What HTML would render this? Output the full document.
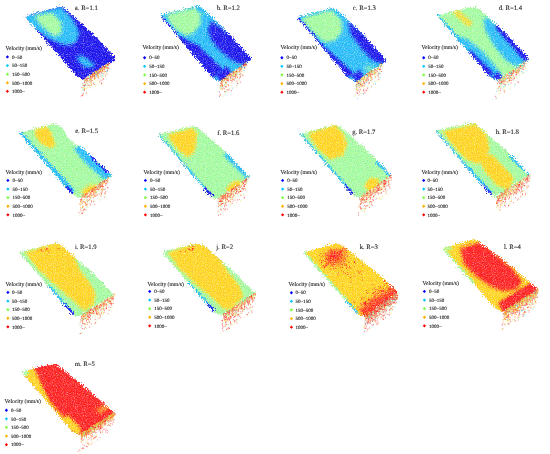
<!DOCTYPE html><html><head><meta charset="utf-8"><title>Velocity</title><style>html,body{margin:0;padding:0;background:#fff}svg{display:block}text{font-family:"Liberation Serif",serif;fill:#1a1a1a;stroke:#1a1a1a;stroke-width:0.1px;text-rendering:geometricPrecision}</style></head><body>
<svg width="550" height="454" viewBox="0 0 550 454">
<defs>
<filter id="b5" x="-30%" y="-30%" width="160%" height="160%"><feGaussianBlur stdDeviation="0.5"/></filter>
<filter id="b6" x="-30%" y="-30%" width="160%" height="160%"><feGaussianBlur stdDeviation="0.6"/></filter>
<filter id="b7" x="-30%" y="-30%" width="160%" height="160%"><feGaussianBlur stdDeviation="0.7"/></filter>
<filter id="b8" x="-30%" y="-30%" width="160%" height="160%"><feGaussianBlur stdDeviation="0.8"/></filter>
<filter id="b9" x="-30%" y="-30%" width="160%" height="160%"><feGaussianBlur stdDeviation="0.9"/></filter>
<filter id="b10" x="-30%" y="-30%" width="160%" height="160%"><feGaussianBlur stdDeviation="1.0"/></filter>
<filter id="b12" x="-30%" y="-30%" width="160%" height="160%"><feGaussianBlur stdDeviation="1.2"/></filter>
<filter id="b13" x="-30%" y="-30%" width="160%" height="160%"><feGaussianBlur stdDeviation="1.3"/></filter>
<filter id="b15" x="-30%" y="-30%" width="160%" height="160%"><feGaussianBlur stdDeviation="1.5"/></filter>
<filter id="b16" x="-30%" y="-30%" width="160%" height="160%"><feGaussianBlur stdDeviation="1.6"/></filter>
<filter id="b18" x="-30%" y="-30%" width="160%" height="160%"><feGaussianBlur stdDeviation="1.8"/></filter>
<filter id="b20" x="-30%" y="-30%" width="160%" height="160%"><feGaussianBlur stdDeviation="2.0"/></filter>
<filter id="be" x="-10%" y="-10%" width="120%" height="120%" color-interpolation-filters="sRGB"><feTurbulence type="fractalNoise" baseFrequency="0.9" numOctaves="1" seed="3" result="n"/><feDisplacementMap in="SourceGraphic" in2="n" scale="7.5" xChannelSelector="R" yChannelSelector="G" result="d"/><feTurbulence type="fractalNoise" baseFrequency="0.8" numOctaves="1" seed="11" result="n2"/><feColorMatrix in="n2" type="matrix" values="3 0 0 0 -1  0 3 0 0 -1  0 0 3 0 -1  0 0 0 0 1" result="cn"/><feComposite in="d" in2="cn" operator="arithmetic" k1="0" k2="1" k3="0.13" k4="-0.045" result="dc"/><feComposite in="dc" in2="d" operator="in" result="dd"/><feColorMatrix in="n" type="matrix" values="0 0 0 0 1  0 0 0 0 1  0 0 0 0 1  0 0 1.5 0 -0.74" result="w"/><feComposite in="w" in2="d" operator="in" result="wi"/><feMerge><feMergeNode in="dd"/><feMergeNode in="wi"/></feMerge><feGaussianBlur stdDeviation="0.35"/></filter>
<clipPath id="ca"><polygon points="24.4,15.9 59.7,6.2 63.8,7.7 67.9,10.7 93.6,34.1 116.8,58.8 83.6,79.7 77.1,77.1"/></clipPath>
<clipPath id="cb"><polygon points="159.4,14.8 197.0,5.8 201.1,7.3 205.2,10.3 229.8,34.2 251.9,59.5 220.2,81.6 213.1,78.4"/></clipPath>
<clipPath id="cc"><polygon points="296.6,16.9 332.0,7.7 336.1,9.2 340.2,12.2 364.8,35.8 386.9,60.7 356.5,82.2 348.7,78.4"/></clipPath>
<clipPath id="cd"><polygon points="436.4,15.0 473.8,6.4 477.9,7.9 482.0,10.9 507.0,34.5 529.5,59.5 497.8,80.9 490.0,77.1"/></clipPath>
<clipPath id="ce"><polygon points="19.4,132.7 54.3,123.3 58.3,124.9 62.4,127.8 66.0,133.5 70.0,139.8 75.5,143.9 85.7,150.8 112.6,175.4 79.7,198.3 71.8,194.5"/></clipPath>
<clipPath id="cf"><polygon points="157.7,134.3 193.1,125.7 197.2,127.2 201.3,130.2 226.7,153.1 249.6,177.3 217.7,199.7 210.6,196.5"/></clipPath>
<clipPath id="cg"><polygon points="299.7,133.7 335.1,124.4 339.2,125.9 343.3,128.9 368.5,151.6 391.3,175.6 359.6,198.4 351.8,194.5"/></clipPath>
<clipPath id="ch"><polygon points="435.1,130.5 471.8,122.5 475.9,124.0 479.9,127.0 506.2,150.4 530.0,175.2 496.4,197.3 489.9,194.7"/></clipPath>
<clipPath id="ci"><polygon points="18.9,252.3 55.6,243.1 59.7,244.6 63.8,247.6 90.4,270.6 114.6,294.9 79.7,317.0 71.8,313.8"/></clipPath>
<clipPath id="cj"><polygon points="161.4,251.7 198.1,243.1 202.2,244.6 206.3,247.6 232.2,269.9 255.6,293.6 222.2,316.4 213.7,312.5"/></clipPath>
<clipPath id="ck"><polygon points="303.1,252.3 337.3,243.1 341.3,244.6 345.4,247.6 373.1,269.2 398.3,292.3 364.7,317.0 356.9,313.8"/></clipPath>
<clipPath id="cl"><polygon points="441.9,248.2 473.5,239.0 477.5,240.6 481.6,243.5 511.2,265.8 538.3,289.5 503.4,312.2 495.6,309.0"/></clipPath>
<clipPath id="cm"><polygon points="21.4,371.9 53.0,363.3 57.0,364.9 61.1,367.8 89.1,389.8 114.6,413.2 80.3,435.3 72.6,432.1"/></clipPath>
</defs>
<g id="pa">
<g filter="url(#be)"><g clip-path="url(#ca)">
<polygon points="24.4,15.9 59.7,6.2 63.8,7.7 67.9,10.7 93.6,34.1 116.8,58.8 83.6,79.7 77.1,77.1" fill="#1c14e8"/>
<polygon points="21.8,15.7 61.1,6.6 73.0,19.4 79.4,33.1 77.0,41.3 69.4,45.3 60.2,43.7 47.4,38.0 33.7,29.4" fill="#28b8f4" filter="url(#b15)"/>
<polygon points="34.6,15.7 52.0,12.6 61.1,22.1 62.0,32.2 54.7,36.7 45.6,29.4 38.3,22.1" fill="#a0f89c" filter="url(#b18)"/>
<polygon points="75.8,56.8 83.1,55.9 94.0,63.8 93.1,67.8 84.0,66.9" fill="#28b8f4" filter="url(#b18)"/>
<polygon points="35.7,33.2 38.8,30.6 48.2,40.8 57.7,51.0 53.9,54.3" fill="#1c14e8" filter="url(#b6)"/>
</g></g>
<path d="M90.6 83.9h0M98.8 71.0h0M104.7 67.2h0M108.0 69.9h0M97.6 72.1h0M84.6 88.2h0M87.4 80.7h0M95.1 74.7h0M97.2 80.7h0M88.8 78.0h0M108.4 64.9h0M95.3 75.6h0M85.6 83.8h0M108.7 63.8h0M98.6 83.9h0M102.8 68.6h0M109.8 63.5h0M96.0 72.4h0M90.8 76.4h0M97.4 73.3h0M92.8 77.3h0M89.4 75.1h0M94.1 84.0h0M85.2 81.4h0M103.0 73.8h0M94.9 71.4h0M102.8 66.8h0M100.9 70.8h0M98.5 74.6h0M98.8 76.9h0M100.0 76.7h0M96.6 71.1h0M83.9 84.7h0M88.9 77.1h0M106.8 66.9h0M87.9 81.9h0M99.8 68.9h0M102.8 77.7h0M83.2 84.6h0M86.6 84.0h0M92.8 73.3h0M83.2 87.4h0M101.3 68.0h0M96.6 84.0h0M87.2 76.5h0M93.0 76.5h0M90.7 77.6h0M88.4 78.1h0M89.2 76.8h0M92.8 78.5h0M102.5 67.6h0M90.1 79.6h0M84.3 79.2h0M90.7 76.2h0M95.6 86.0h0M94.1 73.7h0M97.1 80.5h0M105.7 74.1h0M92.5 81.4h0M104.0 66.8h0M95.6 86.6h0M108.7 68.3h0M83.0 90.5h0" stroke="#f0f080" stroke-width="0.72" stroke-linecap="round" fill="none"/>
<path d="M89.6 75.8h0M85.6 79.2h0M95.9 74.7h0M94.3 82.6h0M106.9 64.1h0M103.2 76.1h0M83.1 88.7h0M108.5 64.5h0M108.5 65.1h0M104.6 70.3h0M94.0 76.0h0M101.1 69.3h0M97.0 73.1h0M84.8 81.5h0M97.6 77.2h0M105.9 78.5h0M84.3 80.6h0M107.2 64.5h0M82.8 85.6h0M94.9 72.7h0M101.0 70.4h0M92.8 72.4h0M102.6 69.1h0M101.9 67.8h0M87.1 80.2h0M86.7 85.7h0M88.6 84.8h0M93.5 75.9h0" stroke="#a0f89c" stroke-width="0.72" stroke-linecap="round" fill="none"/>
<path d="M87.0 78.7h0M101.1 71.7h0M102.7 69.4h0M92.4 75.0h0M107.0 67.4h0M105.5 76.1h0M83.0 94.8h0M96.1 71.4h0M102.8 71.7h0M103.0 79.7h0M91.6 80.8h0M86.0 78.9h0M87.7 77.9h0M94.2 84.5h0M94.1 77.0h0M92.2 77.7h0M105.2 67.6h0M90.4 76.5h0M91.2 79.1h0M101.7 82.8h0M89.2 78.3h0M98.9 78.7h0M105.0 71.7h0M83.8 85.6h0M86.1 82.7h0M88.0 85.1h0M97.0 72.0h0M92.4 74.5h0M94.0 73.9h0M97.6 74.2h0M85.4 80.4h0M102.8 70.4h0M96.1 76.9h0M85.8 85.0h0M110.0 63.6h0M99.2 69.8h0M101.0 70.2h0M84.3 82.7h0M87.6 80.1h0M97.4 74.2h0M101.6 83.7h0M100.0 71.8h0M94.0 73.7h0M89.8 80.6h0M97.8 72.9h0M91.3 74.5h0M101.2 72.8h0M97.8 76.1h0M88.5 78.5h0M103.9 73.9h0M104.9 67.8h0M84.4 85.6h0M100.4 71.0h0M95.8 72.8h0M82.7 95.1h0M97.9 72.6h0M99.1 73.3h0M86.1 78.9h0M86.5 93.0h0M91.2 85.3h0M85.0 85.4h0M107.0 64.6h0M82.2 95.7h0M105.5 65.3h0M108.9 68.4h0M93.6 83.3h0M97.1 72.8h0M109.1 63.8h0M95.6 70.8h0M102.5 71.1h0M99.0 72.5h0M91.9 82.9h0M104.1 69.2h0M107.9 67.4h0M96.5 73.7h0M104.4 69.0h0M103.4 67.0h0M104.5 67.7h0M86.6 80.8h0M99.8 71.6h0M87.9 81.5h0M101.7 68.7h0M84.6 88.9h0M81.9 87.4h0M94.9 78.9h0M99.4 71.6h0M92.1 80.5h0M91.0 78.5h0M97.7 75.7h0M92.9 74.0h0M97.3 72.5h0M104.4 67.1h0M101.0 80.3h0M94.6 76.7h0M87.1 78.1h0M108.4 65.1h0M101.3 73.0h0M95.8 73.5h0M107.2 64.3h0M90.5 77.4h0M98.0 70.1h0M84.9 80.0h0M107.0 74.0h0M83.5 79.4h0M84.6 90.0h0M86.5 79.2h0M98.5 71.4h0M87.2 79.1h0M93.4 75.2h0M83.3 93.2h0M94.5 78.8h0M92.3 76.2h0M99.7 81.7h0M104.2 67.2h0M92.8 73.1h0M89.9 82.2h0M100.5 68.3h0M98.3 70.4h0M94.3 75.5h0M95.9 74.5h0M107.4 68.3h0M98.7 73.3h0M85.3 78.0h0M101.2 68.7h0M100.9 75.8h0M108.8 68.1h0M102.2 68.4h0M104.0 67.1h0M103.5 78.7h0M96.7 72.3h0M94.9 73.7h0M102.8 66.7h0M107.6 65.4h0M108.6 64.3h0M92.5 76.9h0M84.6 90.2h0M87.5 78.7h0M98.5 77.2h0M92.5 75.0h0M97.4 70.6h0M96.1 71.6h0M83.8 85.2h0M100.6 70.0h0M91.8 76.3h0M90.5 76.2h0M84.6 81.7h0M104.7 68.6h0M105.2 71.3h0M97.6 72.9h0M106.9 65.5h0M94.5 75.7h0M103.4 69.2h0M94.0 76.6h0M99.9 68.6h0M93.5 74.3h0M90.1 79.1h0M89.8 85.4h0M94.2 74.0h0M107.2 70.6h0M90.8 76.7h0M81.2 95.9h0M105.8 66.3h0M97.8 71.4h0M94.7 77.5h0" stroke="#ff2222" stroke-width="0.72" stroke-linecap="round" fill="none"/>
<path d="M99.5 69.2h0M84.8 86.9h0M94.2 74.6h0M105.6 66.7h0M90.6 81.5h0M96.9 72.4h0M98.2 76.1h0M106.8 66.4h0M101.0 71.4h0M91.2 77.5h0M103.0 66.6h0M99.7 70.7h0M83.5 87.6h0M91.2 84.3h0M102.9 68.9h0M91.4 74.9h0M106.0 65.5h0M90.2 87.2h0M107.2 68.4h0M84.1 88.3h0M93.9 74.6h0M95.1 71.7h0M90.0 74.9h0M94.3 77.1h0M102.4 68.1h0M89.9 87.7h0M89.4 80.3h0M91.7 79.2h0M101.8 77.4h0M106.3 65.1h0M90.7 79.2h0M101.3 70.5h0M88.1 80.5h0M105.7 75.4h0M82.7 83.6h0M89.9 79.5h0M101.8 70.9h0M96.4 72.3h0M93.2 72.6h0M95.0 77.1h0M99.8 71.3h0M100.3 70.2h0M102.5 69.4h0M84.5 89.3h0M104.3 66.2h0M90.2 79.8h0M97.1 72.9h0M98.1 74.7h0M104.1 72.0h0M96.5 73.5h0M102.1 84.6h0M107.5 65.7h0M105.2 67.9h0M94.1 79.4h0M106.5 68.6h0M86.1 80.9h0M97.0 74.0h0M91.9 84.3h0M87.2 83.5h0M99.1 72.2h0M95.3 78.3h0M91.8 80.6h0M105.6 65.1h0M106.2 65.4h0M100.4 68.9h0M86.2 88.3h0M97.6 75.2h0M88.4 85.5h0M92.6 74.7h0M106.4 67.2h0M88.9 78.3h0M87.3 87.8h0M91.2 82.4h0M106.4 72.2h0M103.2 71.0h0M98.1 75.7h0" stroke="#ffd020" stroke-width="0.72" stroke-linecap="round" fill="none"/>
<path d="M84.5 86.4h0M106.7 71.0h0M95.8 75.8h0M106.3 66.1h0M83.2 89.6h0M88.7 76.1h0M99.8 74.3h0M90.4 75.0h0M83.0 83.6h0M102.8 73.7h0M89.8 77.9h0M102.0 75.6h0M107.3 69.2h0M98.0 72.2h0M106.4 66.7h0M97.0 73.3h0M101.3 68.9h0M90.7 81.1h0M96.3 75.7h0M86.2 78.3h0M85.5 84.7h0M100.1 69.7h0M107.4 71.5h0" stroke="#28b8f4" stroke-width="0.72" stroke-linecap="round" fill="none"/>
<path d="M96.0 74.1h0M104.2 68.4h0M87.0 79.3h0M109.1 68.0h0M103.6 67.9h0M85.5 78.2h0M97.9 72.0h0M95.4 80.0h0M90.5 87.4h0M104.6 73.3h0M106.4 65.4h0M95.8 72.3h0M89.1 79.3h0M85.9 93.4h0M82.5 89.1h0M95.1 85.8h0M92.9 74.1h0M84.3 80.1h0M101.7 73.8h0M99.7 83.9h0M97.9 71.0h0M95.1 77.2h0M87.9 83.7h0M98.0 71.8h0M98.6 70.1h0M103.7 70.9h0M83.4 94.1h0M82.3 90.1h0M86.4 91.3h0M97.5 71.2h0M93.6 89.7h0M87.6 78.2h0M88.0 76.2h0M96.0 74.2h0M103.8 76.6h0" stroke="#c8f8b0" stroke-width="0.72" stroke-linecap="round" fill="none"/>
<text x="86.3" y="9.7" font-size="6.7" text-anchor="middle">a. R=1.1</text>
<text x="5.5" y="49.5" font-size="5.62">Velocity (mm/s)</text>
<path d="M7.4 55.3l1.65 1.65l-1.65 1.65l-1.65 -1.65z" fill="#0000ff"/>
<text x="12.0" y="58.7" font-size="5">0~50</text>
<path d="M7.4 63.9l1.65 1.65l-1.65 1.65l-1.65 -1.65z" fill="#00c4ff"/>
<text x="12.0" y="67.3" font-size="5">50~150</text>
<path d="M7.4 72.5l1.65 1.65l-1.65 1.65l-1.65 -1.65z" fill="#78ff3c"/>
<text x="12.0" y="75.9" font-size="5">150~500</text>
<path d="M7.4 81.1l1.65 1.65l-1.65 1.65l-1.65 -1.65z" fill="#ffb000"/>
<text x="12.0" y="84.5" font-size="5">500~1000</text>
<path d="M7.4 89.7l1.65 1.65l-1.65 1.65l-1.65 -1.65z" fill="#ff0000"/>
<text x="12.0" y="93.1" font-size="5">1000~</text>
</g>
<g id="pb">
<g filter="url(#be)"><g clip-path="url(#cb)">
<polygon points="159.4,14.8 197.0,5.8 201.1,7.3 205.2,10.3 229.8,34.2 251.9,59.5 220.2,81.6 213.1,78.4" fill="#28b8f4"/>
<polygon points="166.5,14.1 194.7,7.7 201.1,14.1 199.8,25.6 193.4,33.3 185.7,35.8 175.5,29.4 169.3,21.8" fill="#a0f89c" filter="url(#b15)"/>
<polygon points="157.7,17.0 160.8,14.5 172.8,28.5 184.8,42.5 181.6,45.2" fill="#1c14e8" filter="url(#b5)"/>
<polygon points="176.8,39.6 180.6,36.3 190.5,41.9 200.5,47.5 190.6,55.9" fill="#1c14e8" filter="url(#b12)"/>
<polygon points="186.9,51.5 196.0,43.7 209.5,56.5 222.9,69.3 210.7,79.6" fill="#1c14e8" filter="url(#b12)"/>
<polygon points="215.0,75.0 227.0,66.0 233.0,75.0 222.0,83.0" fill="#1c14e8" filter="url(#b10)"/>
<polygon points="210.8,21.0 233.6,36.6 257.4,58.5 242.8,64.9 231.8,60.3 219.0,49.4 210.8,39.3 208.0,31.1" fill="#1c14e8" filter="url(#b15)"/>
</g></g>
<path d="M230.9 75.8h0M244.2 68.5h0M235.5 70.5h0M225.0 86.3h0M224.2 80.5h0M234.8 73.5h0M230.8 78.4h0M222.3 78.8h0M219.7 92.3h0M235.3 74.0h0M221.7 80.8h0M225.5 78.1h0M243.5 66.0h0M242.6 64.7h0M240.5 68.3h0M239.1 74.2h0M246.0 64.6h0M244.3 70.7h0M246.3 63.2h0M227.1 78.5h0M240.7 75.0h0M245.1 65.2h0M226.0 84.3h0M236.8 85.3h0M241.4 67.8h0M219.3 96.6h0M233.8 76.2h0M234.7 70.6h0M232.6 75.7h0M221.4 88.1h0M232.6 88.2h0M227.3 78.2h0M227.8 81.1h0M225.7 82.6h0M225.3 91.5h0M242.7 66.2h0M221.3 81.5h0M241.8 66.9h0" stroke="#28b8f4" stroke-width="0.72" stroke-linecap="round" fill="none"/>
<path d="M220.6 88.7h0M235.7 77.9h0M240.2 68.9h0M225.7 83.7h0M241.7 69.8h0M225.7 94.9h0M239.4 67.8h0M236.4 74.0h0M221.8 83.0h0M237.6 73.9h0M238.1 71.4h0M222.2 87.5h0M235.5 74.7h0M220.9 86.9h0M232.0 72.2h0M230.0 74.4h0M245.7 63.1h0M229.4 75.4h0M220.1 85.2h0M240.7 69.2h0M230.7 74.8h0M230.3 74.5h0M224.2 79.9h0M222.4 96.8h0M242.9 68.7h0M230.1 73.6h0M236.5 72.1h0M232.9 72.0h0M235.7 74.3h0M235.2 77.3h0M225.1 82.9h0M226.0 82.8h0M237.1 72.8h0" stroke="#a0f89c" stroke-width="0.72" stroke-linecap="round" fill="none"/>
<path d="M219.1 91.3h0M239.7 78.1h0M244.2 64.8h0M222.2 82.8h0M234.2 73.3h0M240.9 70.3h0M222.4 84.8h0M222.6 80.4h0M239.5 70.7h0M245.1 66.6h0M233.7 74.7h0M225.4 78.8h0M243.0 64.7h0M242.1 74.6h0M221.5 81.9h0M234.1 73.6h0M239.2 68.5h0M240.3 67.5h0M224.4 78.6h0M225.8 77.9h0M222.7 78.9h0M239.4 74.5h0M222.4 85.5h0M241.2 68.2h0M233.7 73.1h0M235.9 75.3h0M230.8 78.8h0M228.5 77.9h0M222.5 89.1h0M233.1 71.7h0M224.7 80.0h0M222.5 85.7h0M224.7 91.6h0M231.6 90.7h0M235.2 76.5h0M236.3 72.2h0M230.4 80.4h0M229.4 75.5h0M238.9 71.9h0M230.9 74.5h0M234.6 73.1h0M239.4 71.8h0M223.1 79.0h0M236.9 70.4h0M220.2 86.7h0M229.3 89.3h0M233.8 79.6h0M230.1 76.6h0M245.6 64.3h0M239.5 67.4h0M237.2 71.9h0M243.0 75.9h0M220.9 83.1h0M226.3 80.0h0M222.9 85.8h0M240.2 76.6h0M226.2 79.4h0M226.9 79.3h0M232.1 73.1h0M225.8 87.1h0M221.5 83.7h0M232.5 81.0h0M239.1 69.0h0M226.8 78.1h0M221.3 81.6h0M230.4 73.3h0M231.3 80.4h0M225.7 86.6h0M233.1 71.5h0M220.1 95.2h0M221.3 82.6h0M221.8 79.8h0M222.1 84.8h0M241.1 71.3h0M236.5 71.5h0M220.3 85.5h0M226.6 86.8h0M233.0 74.7h0M219.4 96.1h0M240.0 69.1h0M223.4 88.1h0M241.3 68.9h0M245.3 63.8h0M221.7 84.8h0M233.8 72.4h0M243.8 65.4h0M236.0 76.0h0M241.2 69.3h0M237.6 83.3h0M228.1 90.4h0M235.4 74.3h0M229.8 74.2h0M223.1 78.2h0M231.6 75.7h0M238.8 68.1h0M226.4 82.8h0M233.7 76.4h0M237.7 83.6h0M225.6 82.3h0M240.6 74.4h0M244.7 65.0h0M228.5 85.8h0M227.1 75.7h0M237.4 77.0h0M235.2 71.5h0M234.3 80.3h0M220.6 94.3h0M231.0 76.9h0M230.1 75.2h0M221.0 83.6h0M246.0 62.7h0M227.2 89.5h0M228.1 78.0h0M231.8 82.0h0M227.2 80.3h0M228.5 74.6h0M235.6 74.7h0M233.4 72.7h0M234.3 78.8h0M232.7 79.3h0M237.5 77.7h0M222.6 85.5h0M234.9 72.1h0M230.0 75.0h0M236.9 81.2h0M246.3 64.4h0M235.9 75.6h0M226.6 76.0h0M224.6 88.9h0M230.6 77.5h0M235.6 77.7h0M236.4 74.1h0M239.9 69.9h0M240.2 69.6h0M236.6 71.3h0M225.9 78.5h0M243.9 65.9h0M245.3 65.2h0M232.8 79.0h0M228.3 84.4h0M232.8 77.1h0M234.5 75.8h0M245.9 64.8h0M237.9 69.2h0M225.0 78.8h0M228.3 79.7h0M243.4 65.6h0M227.0 76.8h0M222.6 81.6h0M224.4 79.4h0M224.0 80.7h0M222.3 86.6h0M244.1 65.1h0M227.2 79.9h0M228.7 80.8h0M222.6 83.0h0M242.3 67.0h0M240.3 76.9h0M244.6 68.7h0M246.8 65.3h0M229.7 73.3h0M230.8 75.3h0M227.7 78.7h0M240.7 73.1h0M228.0 80.4h0M225.5 78.3h0M240.7 82.2h0M232.0 73.9h0M229.8 74.7h0" stroke="#ff2222" stroke-width="0.72" stroke-linecap="round" fill="none"/>
<path d="M226.3 77.7h0M240.6 67.9h0M224.7 84.8h0M226.5 81.6h0M226.4 83.2h0M222.7 80.1h0M227.9 75.6h0M241.5 66.1h0M242.0 70.8h0M230.2 76.5h0M227.4 79.3h0M231.7 78.0h0M237.2 77.7h0M232.8 79.3h0M227.2 85.0h0M233.8 74.9h0M222.6 80.0h0M222.2 85.5h0M239.6 74.6h0M245.0 65.6h0M224.9 79.7h0M228.3 75.5h0M221.5 80.7h0M245.7 66.9h0M221.4 85.4h0M236.7 69.6h0M225.8 79.3h0M239.0 80.3h0M228.9 79.7h0M235.4 71.6h0M233.9 74.5h0M235.7 72.0h0M220.8 88.5h0M242.5 75.0h0M235.5 72.8h0M224.5 80.3h0M238.7 71.5h0M244.8 64.0h0M221.0 89.3h0M240.6 68.0h0M233.2 76.4h0M239.3 69.0h0M236.5 86.8h0M226.3 91.1h0M236.1 75.6h0M244.7 63.5h0M225.6 92.4h0M233.9 71.8h0M229.4 75.0h0M227.3 79.0h0M238.2 71.7h0M221.9 88.4h0M230.9 85.6h0M233.4 73.5h0M237.7 71.4h0M228.8 75.2h0M234.7 73.5h0" stroke="#ffd020" stroke-width="0.72" stroke-linecap="round" fill="none"/>
<path d="M226.9 77.7h0M238.7 71.2h0M226.8 77.6h0M226.3 87.7h0M221.7 86.6h0M241.7 70.9h0M236.7 83.0h0M230.5 73.0h0M245.3 66.3h0M220.0 87.5h0M244.4 68.9h0M241.4 69.2h0M223.1 81.0h0M237.8 74.3h0M226.9 75.8h0M233.8 84.6h0M226.6 78.3h0M235.8 70.5h0M234.2 80.2h0M226.2 90.9h0M234.7 74.0h0M225.4 77.6h0M238.9 68.6h0M240.1 68.9h0M232.6 89.0h0M223.6 96.0h0M242.7 70.1h0M221.2 82.6h0M233.1 74.6h0" stroke="#c8f8b0" stroke-width="0.72" stroke-linecap="round" fill="none"/>
<path d="M224.7 82.7h0M234.3 75.3h0M239.3 69.0h0M226.0 79.5h0M229.3 79.8h0M222.6 82.9h0M231.3 78.0h0M222.5 82.0h0M229.8 87.7h0M234.6 73.5h0M246.1 62.1h0M222.1 84.1h0M225.1 84.2h0M229.8 78.1h0M243.9 72.4h0M224.3 85.4h0M235.3 82.0h0M220.8 81.0h0M221.6 85.3h0M240.3 74.4h0M224.9 79.5h0M222.9 81.5h0M236.4 69.7h0M230.3 75.8h0M223.5 81.1h0M234.2 72.1h0M237.1 74.1h0M239.2 83.4h0M230.0 78.2h0M242.5 67.9h0M240.0 70.4h0M237.8 68.8h0M222.0 83.2h0M235.2 75.7h0M224.0 81.0h0M222.5 81.9h0M236.8 72.7h0M223.6 88.4h0M231.1 82.5h0M232.9 73.2h0M226.0 83.4h0M228.0 77.7h0M234.3 71.4h0M240.9 67.8h0M226.2 87.2h0M237.9 72.3h0M233.3 75.4h0M234.6 73.9h0M237.9 73.9h0M240.3 73.4h0M237.1 76.1h0M230.5 75.3h0M225.6 77.8h0M230.9 80.1h0M230.1 75.4h0M232.3 75.2h0M234.1 78.3h0M228.6 89.4h0" stroke="#f0f080" stroke-width="0.72" stroke-linecap="round" fill="none"/>
<text x="228.3" y="9.7" font-size="6.7" text-anchor="middle">b. R=1.2</text>
<text x="142.5" y="49.0" font-size="5.62">Velocity (mm/s)</text>
<path d="M144.6 56.1l1.65 1.65l-1.65 1.65l-1.65 -1.65z" fill="#0000ff"/>
<text x="149.3" y="59.4" font-size="5">0~50</text>
<path d="M144.6 64.7l1.65 1.65l-1.65 1.65l-1.65 -1.65z" fill="#00c4ff"/>
<text x="149.3" y="68.0" font-size="5">50~150</text>
<path d="M144.6 73.3l1.65 1.65l-1.65 1.65l-1.65 -1.65z" fill="#78ff3c"/>
<text x="149.3" y="76.6" font-size="5">150~500</text>
<path d="M144.6 81.9l1.65 1.65l-1.65 1.65l-1.65 -1.65z" fill="#ffb000"/>
<text x="149.3" y="85.2" font-size="5">500~1000</text>
<path d="M144.6 90.5l1.65 1.65l-1.65 1.65l-1.65 -1.65z" fill="#ff0000"/>
<text x="149.3" y="93.8" font-size="5">1000~</text>
</g>
<g id="pc">
<g filter="url(#be)"><g clip-path="url(#cc)">
<polygon points="296.6,16.9 332.0,7.7 336.1,9.2 340.2,12.2 364.8,35.8 386.9,60.7 356.5,82.2 348.7,78.4" fill="#28b8f4"/>
<polygon points="301.1,17.4 331.3,10.1 341.4,20.1 342.3,31.1 335.9,40.2 324.9,42.4 313.9,33.8 304.8,23.8" fill="#a0f89c" filter="url(#b18)"/>
<polygon points="294.9,19.1 298.1,16.4 311.1,31.5 324.0,46.5 320.6,49.4" fill="#1c14e8" filter="url(#b5)"/>
<polygon points="319.6,48.2 323.0,45.3 338.5,59.2 353.9,73.2 346.3,79.6" fill="#1c14e8" filter="url(#b9)"/>
<polygon points="351.0,76.0 360.0,70.0 364.0,77.0 357.0,82.0" fill="#1c14e8" filter="url(#b9)"/>
<polygon points="347.8,21.0 370.6,39.3 394.4,59.4 383.4,64.4 372.4,60.3 361.5,48.4 350.5,33.8" fill="#1c14e8" filter="url(#b15)"/>
<polygon points="364.2,67.6 369.7,65.8 373.4,69.1 368.8,71.7" fill="#a0f89c" filter="url(#b20)"/>
</g></g>
<path d="M359.2 80.1h0M367.8 73.6h0M365.0 92.6h0M381.6 64.2h0M365.3 80.6h0M370.2 73.5h0M362.2 86.0h0M358.2 82.6h0M359.9 83.4h0M363.8 93.7h0M369.2 76.1h0M367.3 88.9h0M368.7 76.8h0M363.7 79.6h0M366.6 74.4h0M363.2 85.4h0M375.0 73.9h0M360.3 89.8h0M363.8 83.1h0M356.7 84.5h0M362.2 79.2h0M377.3 71.4h0M369.1 73.0h0M366.1 80.1h0M370.7 74.2h0M378.3 73.3h0M369.3 73.1h0M372.0 79.8h0M374.4 72.1h0M361.0 78.7h0M369.0 83.3h0M360.5 79.9h0M375.5 69.8h0M359.6 91.9h0M360.9 82.7h0M361.8 84.6h0M380.6 66.7h0M381.0 69.1h0M359.2 83.4h0M364.5 76.8h0M371.1 74.7h0M371.4 86.7h0M366.8 78.1h0M364.1 91.0h0M372.2 73.6h0M367.4 79.1h0M379.6 69.5h0M363.8 89.4h0M364.7 85.2h0M359.0 94.9h0M380.7 65.2h0M380.2 73.7h0M356.9 92.7h0M368.2 75.8h0M381.1 63.5h0M371.2 71.2h0M366.5 81.3h0M366.9 81.0h0M378.3 77.0h0M369.3 82.5h0M358.6 84.0h0M365.0 82.4h0M376.3 70.6h0M358.3 83.6h0M357.7 93.4h0M357.9 81.6h0M364.4 77.7h0M362.3 79.8h0M375.7 73.0h0M377.2 71.2h0M364.2 82.7h0M373.0 71.1h0M375.2 69.6h0M371.5 72.6h0M368.0 80.2h0M380.3 67.2h0M366.5 90.7h0M357.7 93.0h0M362.2 77.9h0M381.4 64.0h0M369.4 75.3h0M369.8 74.8h0M362.3 79.2h0M371.0 76.7h0M370.3 73.0h0M363.5 81.4h0M368.2 73.0h0M378.0 74.9h0M368.9 73.9h0M381.4 71.5h0M368.5 75.1h0M358.9 82.1h0M365.5 75.0h0M359.2 87.6h0M358.0 86.2h0M370.3 76.1h0M357.7 83.1h0M372.7 74.4h0M378.0 75.2h0M377.1 68.0h0M362.1 79.5h0M366.0 90.2h0M356.2 84.4h0M360.4 84.5h0M378.4 66.9h0M367.8 78.0h0M372.8 74.8h0M374.8 71.0h0M364.0 83.6h0M358.8 90.0h0M366.7 74.7h0M378.3 67.6h0M362.5 78.5h0M363.4 90.7h0M371.7 71.1h0M379.0 69.4h0M367.9 87.9h0M360.7 84.2h0M356.9 81.2h0M361.9 85.9h0M380.5 69.5h0M372.0 77.9h0M359.9 83.9h0M363.0 78.1h0M374.5 72.4h0M360.1 86.1h0M363.4 81.6h0M356.3 89.2h0M360.1 81.6h0M369.6 71.9h0M370.9 71.8h0M375.4 77.0h0M371.2 78.0h0M378.9 79.5h0M370.2 74.8h0M357.7 90.5h0M366.5 79.0h0M364.3 77.3h0M370.8 76.0h0M357.5 83.5h0M367.9 77.9h0M379.5 69.1h0M356.4 86.9h0M368.3 79.5h0M370.4 80.3h0M371.2 71.6h0M373.7 70.9h0M364.8 78.0h0M375.0 72.3h0" stroke="#ff2222" stroke-width="0.72" stroke-linecap="round" fill="none"/>
<path d="M359.3 85.9h0M376.1 81.3h0M364.9 77.4h0M366.3 80.1h0M370.3 78.5h0M379.4 64.8h0M357.0 88.4h0M362.7 84.3h0M377.9 69.5h0M369.8 76.2h0M371.1 72.0h0M370.1 73.2h0M378.4 68.4h0M366.5 75.9h0M361.2 85.4h0M358.4 81.8h0M371.4 77.8h0M370.8 70.8h0M357.4 84.0h0M356.0 86.1h0M361.2 86.7h0M365.5 81.1h0M368.6 75.3h0M364.5 78.3h0M357.2 90.0h0M356.5 85.4h0M373.5 84.1h0M363.4 80.1h0M368.9 85.3h0M361.4 81.4h0M363.5 78.0h0M356.5 89.4h0M362.9 83.5h0M374.6 73.5h0M377.8 69.2h0M358.4 81.4h0M370.8 77.4h0M374.8 70.7h0M361.2 89.9h0M364.1 86.2h0M374.0 74.1h0M359.4 81.4h0M355.2 94.9h0M379.1 65.6h0M376.3 72.6h0M364.6 75.2h0M379.2 80.6h0M362.3 78.5h0M368.9 75.4h0M364.4 82.0h0M358.0 84.9h0M361.9 77.6h0M374.5 68.7h0M360.8 83.3h0M361.3 78.3h0M372.3 70.5h0M372.5 71.3h0M367.7 73.4h0M375.3 77.8h0M368.7 75.1h0M360.6 85.8h0M373.6 73.5h0M368.3 73.8h0M364.6 76.1h0M357.0 80.7h0M381.6 66.1h0M356.7 82.4h0M368.2 75.9h0M364.0 78.4h0M378.3 69.4h0M358.4 82.2h0M374.8 75.0h0" stroke="#ffd020" stroke-width="0.72" stroke-linecap="round" fill="none"/>
<path d="M374.2 71.8h0M360.4 81.9h0M363.4 80.8h0M374.9 81.5h0M373.4 73.1h0M363.4 76.8h0M375.7 84.8h0M365.2 76.4h0M379.3 65.9h0M365.5 79.0h0M378.7 66.7h0M365.9 78.9h0M382.6 64.7h0M360.8 81.3h0M380.7 65.8h0M357.7 89.9h0M370.2 78.4h0M368.9 74.4h0M371.4 80.4h0M371.8 72.1h0M362.4 77.9h0M363.1 94.0h0M374.7 75.0h0M360.7 80.1h0" stroke="#a0f89c" stroke-width="0.72" stroke-linecap="round" fill="none"/>
<path d="M367.9 78.9h0M381.4 64.8h0M378.5 68.8h0M377.6 71.1h0M374.1 70.8h0M357.6 83.0h0M360.2 88.6h0M372.1 82.6h0M380.5 67.2h0M367.2 78.8h0M379.5 77.5h0M365.6 79.9h0M378.6 74.2h0M378.9 77.2h0M355.8 96.1h0M360.0 84.1h0M367.2 86.9h0M360.1 81.0h0M380.2 73.9h0M362.0 78.9h0M360.8 87.0h0M364.3 79.9h0M373.3 70.7h0M371.6 86.1h0M380.0 66.1h0M354.8 96.6h0M358.9 81.6h0M357.2 85.3h0M369.1 76.7h0M369.3 75.9h0M364.6 79.4h0M366.1 75.6h0" stroke="#c8f8b0" stroke-width="0.72" stroke-linecap="round" fill="none"/>
<path d="M379.1 65.2h0M357.0 88.0h0M368.6 80.8h0M364.8 83.9h0M360.7 80.2h0M378.5 67.0h0M366.6 82.5h0M359.3 80.8h0M361.4 84.4h0M359.1 85.5h0M378.8 73.2h0M359.5 80.6h0M372.2 70.6h0M359.5 83.4h0M357.2 84.6h0M375.4 83.8h0M358.6 84.1h0M356.1 86.4h0M363.3 94.0h0M379.8 73.3h0M367.3 76.7h0M380.3 67.0h0M379.9 78.0h0M376.6 67.0h0M357.5 98.6h0" stroke="#28b8f4" stroke-width="0.72" stroke-linecap="round" fill="none"/>
<path d="M370.6 71.6h0M364.1 85.9h0M368.9 73.1h0M359.2 86.6h0M373.3 72.1h0M379.7 65.2h0M376.6 69.4h0M365.0 79.7h0M370.1 81.8h0M363.7 87.4h0M374.5 69.0h0M366.8 81.5h0M377.1 69.3h0M357.6 86.8h0M358.7 84.6h0M381.4 64.7h0M376.7 67.9h0M356.7 90.7h0M374.5 72.4h0M369.2 75.2h0M364.1 76.6h0M364.8 77.6h0M365.2 75.9h0M364.3 85.6h0M373.6 74.0h0M370.7 72.1h0M356.5 89.0h0M365.1 78.8h0M368.0 77.5h0M372.4 80.3h0M359.4 80.9h0M381.0 64.5h0M368.4 81.8h0M364.1 79.7h0M359.5 84.0h0M369.4 74.7h0M378.2 76.9h0M378.2 67.4h0M361.0 93.3h0M359.3 84.5h0M356.2 89.9h0M361.2 93.6h0M372.8 73.3h0M370.2 79.1h0M375.5 71.9h0M362.3 84.5h0M355.9 88.5h0M357.5 84.0h0M362.1 78.4h0M357.5 83.9h0M380.2 68.1h0M362.2 78.3h0M365.8 78.8h0M368.2 90.8h0M361.0 78.8h0M361.7 80.3h0M373.1 70.8h0M379.9 65.9h0M366.9 75.6h0M362.4 79.7h0M378.5 68.0h0M359.4 81.9h0M370.1 72.2h0M374.0 71.7h0M375.7 72.1h0M377.0 75.4h0M359.2 87.9h0M377.1 73.0h0M371.1 77.2h0M363.1 77.3h0M371.1 75.7h0M365.3 79.0h0M361.0 82.5h0M379.3 71.8h0M362.4 78.7h0M361.9 78.5h0M380.5 71.5h0M382.3 66.6h0M377.9 72.5h0M358.2 82.1h0M371.0 73.6h0M369.0 73.3h0M356.9 90.6h0M369.6 71.5h0" stroke="#f0f080" stroke-width="0.72" stroke-linecap="round" fill="none"/>
<text x="364.3" y="9.7" font-size="6.7" text-anchor="middle">c. R=1.3</text>
<text x="280.5" y="49.0" font-size="5.62">Velocity (mm/s)</text>
<path d="M281.9 56.1l1.65 1.65l-1.65 1.65l-1.65 -1.65z" fill="#0000ff"/>
<text x="286.5" y="59.4" font-size="5">0~50</text>
<path d="M281.9 64.7l1.65 1.65l-1.65 1.65l-1.65 -1.65z" fill="#00c4ff"/>
<text x="286.5" y="68.0" font-size="5">50~150</text>
<path d="M281.9 73.3l1.65 1.65l-1.65 1.65l-1.65 -1.65z" fill="#78ff3c"/>
<text x="286.5" y="76.6" font-size="5">150~500</text>
<path d="M281.9 81.9l1.65 1.65l-1.65 1.65l-1.65 -1.65z" fill="#ffb000"/>
<text x="286.5" y="85.2" font-size="5">500~1000</text>
<path d="M281.9 90.5l1.65 1.65l-1.65 1.65l-1.65 -1.65z" fill="#ff0000"/>
<text x="286.5" y="93.8" font-size="5">1000~</text>
</g>
<g id="pd">
<g filter="url(#be)"><g clip-path="url(#cd)">
<polygon points="436.4,15.0 473.8,6.4 477.9,7.9 482.0,10.9 507.0,34.5 529.5,59.5 497.8,80.9 490.0,77.1" fill="#a0f89c"/>
<polygon points="483.0,18.3 485.8,31.1 494.0,45.7 506.8,61.2 517.8,66.7 532.4,58.5 508.6,36.6 488.5,18.3" fill="#28b8f4" filter="url(#b15)"/>
<polygon points="450.1,33.8 467.5,39.3 483.0,52.1 495.8,66.7 503.1,76.8 493.1,84.1 470.2,64.9" fill="#28b8f4" filter="url(#b15)"/>
<polygon points="434.7,17.3 438.1,14.3 451.7,29.3 465.3,44.2 461.2,47.8" fill="#28b8f4" filter="url(#b7)"/>
<polygon points="452.0,12.5 458.0,9.5 473.0,23.0 469.0,27.5 460.0,20.0" fill="#ffd020" filter="url(#b10)" opacity="0.80"/>
<polygon points="498.3,23.8 494.7,27.3 510.2,44.8 525.7,62.4 531.0,57.1" fill="#1c14e8" filter="url(#b9)"/>
<polygon points="466.5,53.9 470.6,50.3 482.2,61.7 493.7,73.1 487.6,78.4" fill="#1c14e8" filter="url(#b9)"/>
<polygon points="492.0,76.0 499.0,72.0 502.0,77.0 498.0,81.0" fill="#1c14e8" filter="url(#b8)"/>
</g></g>
<path d="M506.4 74.9h0M520.2 66.6h0M512.1 75.1h0M517.2 70.5h0M515.8 70.4h0M520.1 66.4h0M513.4 72.2h0M509.9 78.2h0M501.2 80.4h0M511.8 74.0h0M522.1 69.1h0M511.4 72.1h0M500.3 90.6h0M517.9 72.9h0M518.0 81.9h0M502.0 82.7h0M514.3 78.6h0M502.5 80.3h0M496.1 98.4h0M524.4 64.9h0M513.3 71.1h0M502.4 77.4h0M513.1 79.8h0M520.4 68.5h0M511.8 72.0h0M503.6 76.4h0M519.1 69.3h0M495.6 96.3h0M511.3 80.6h0M501.1 81.2h0M519.7 70.8h0M509.4 78.7h0M497.5 83.6h0M510.9 75.8h0M513.1 70.5h0M511.1 72.8h0M514.2 70.9h0M509.9 80.5h0M502.9 81.7h0M512.2 73.0h0M516.4 72.6h0M510.6 77.7h0M509.8 77.3h0M516.8 72.8h0M504.9 84.4h0M513.3 72.0h0M501.8 81.7h0M500.8 88.7h0M523.5 63.7h0M512.2 74.0h0M518.2 70.8h0M513.4 76.2h0M517.7 67.8h0M509.1 81.1h0M516.2 71.4h0M507.4 75.6h0M511.1 82.8h0M511.3 78.0h0M500.3 83.1h0M504.0 76.4h0M522.9 64.6h0M517.8 67.9h0M506.7 76.8h0M505.6 75.0h0M513.9 71.8h0M509.6 76.0h0M510.0 72.9h0M509.9 72.2h0M507.6 78.0h0M522.9 67.9h0M503.7 83.8h0M517.1 71.1h0M518.9 71.6h0M500.1 83.3h0M508.3 75.3h0M524.5 66.0h0M512.9 73.6h0M505.5 79.8h0M514.1 78.2h0M517.3 70.4h0M504.0 81.1h0M511.4 75.4h0M505.1 81.6h0M515.7 69.2h0M499.6 83.1h0M501.4 81.9h0M524.7 62.4h0M519.9 66.6h0M501.7 81.8h0M502.9 80.5h0M499.0 86.8h0M509.0 77.9h0M516.3 74.5h0M518.5 82.3h0M503.7 78.2h0M504.3 79.9h0M520.7 66.2h0M520.6 65.8h0M516.5 72.5h0M498.6 82.3h0M525.9 63.4h0M511.3 75.6h0M518.8 68.5h0M507.7 74.2h0M522.7 68.2h0M523.5 66.8h0M505.3 84.6h0M519.5 67.7h0M500.2 79.1h0M503.9 81.2h0M503.7 78.7h0M511.2 73.4h0M503.9 81.6h0M512.0 79.0h0M523.3 63.4h0M510.3 73.2h0M520.7 66.7h0M513.1 73.6h0M507.2 82.1h0M504.3 92.1h0M516.1 75.2h0M500.1 79.8h0M499.9 82.0h0M513.3 71.5h0M509.8 80.2h0M523.7 69.4h0M518.2 72.8h0M511.3 72.0h0M504.0 81.1h0M508.8 77.4h0M507.7 78.7h0M501.1 84.3h0M516.0 72.4h0M499.8 86.4h0M509.8 72.7h0M502.0 78.7h0M513.0 70.5h0M505.0 77.5h0M501.7 82.1h0M516.0 74.3h0M514.2 77.2h0M509.8 79.8h0M499.4 80.6h0M513.9 71.0h0M501.2 82.7h0M523.8 62.3h0M504.1 90.8h0M516.1 72.5h0" stroke="#ff2222" stroke-width="0.72" stroke-linecap="round" fill="none"/>
<path d="M525.8 68.3h0M525.0 66.0h0M519.1 74.9h0M521.2 66.0h0M508.7 81.0h0M505.3 75.8h0M507.9 82.3h0M519.9 66.8h0M513.0 72.9h0M504.1 89.8h0M514.6 70.3h0M501.5 86.7h0M519.2 67.3h0M515.7 69.7h0M518.6 70.2h0M521.2 67.1h0M516.3 71.3h0M507.1 73.2h0M518.1 70.7h0M499.6 79.6h0M520.1 70.0h0M522.1 66.0h0M499.1 87.6h0M504.7 79.7h0M506.4 78.4h0M519.4 66.4h0M503.9 76.9h0M517.1 77.9h0M508.7 77.0h0M508.8 78.4h0M518.4 69.7h0M517.8 72.5h0M510.6 80.2h0M517.5 72.9h0M513.1 69.5h0M511.4 78.4h0M503.1 78.5h0M507.9 81.0h0M515.2 83.7h0M502.3 78.7h0M515.8 70.7h0M505.0 78.6h0M503.1 83.1h0M515.3 72.6h0M510.2 71.3h0M500.0 82.3h0M517.8 72.4h0M505.0 78.0h0M500.1 93.4h0M505.3 78.3h0M503.0 79.3h0M497.4 88.7h0M510.6 73.6h0M502.0 80.2h0M513.7 70.0h0M503.9 79.0h0M524.9 63.2h0M523.0 73.3h0M498.9 90.7h0M508.8 75.8h0M503.9 79.4h0M522.8 65.2h0M516.2 70.9h0M518.3 69.8h0M506.9 74.5h0M501.7 78.4h0M504.5 78.9h0M509.8 76.1h0M505.4 78.7h0M506.9 77.9h0M516.2 69.8h0M515.5 70.6h0M517.9 70.0h0M504.7 76.5h0" stroke="#ffd020" stroke-width="0.72" stroke-linecap="round" fill="none"/>
<path d="M502.6 79.3h0M524.8 62.0h0M498.9 94.2h0M501.9 78.5h0M524.8 63.1h0M498.7 94.6h0M500.8 83.3h0M522.2 64.3h0M516.7 70.8h0M517.6 67.2h0M509.5 77.8h0M503.8 78.8h0M503.9 78.9h0M498.7 79.7h0M521.5 68.9h0M506.0 84.2h0M498.1 87.9h0M518.8 66.7h0M522.6 67.5h0M503.5 82.4h0M521.2 68.0h0M516.5 77.2h0M497.8 91.0h0M513.0 71.7h0M513.7 76.0h0M501.5 79.6h0M512.8 75.5h0M515.3 69.9h0M502.9 78.9h0M507.7 74.2h0M503.9 76.1h0M504.7 88.1h0M504.2 76.6h0M503.5 77.5h0M504.2 82.8h0M507.4 74.1h0M499.1 85.7h0M504.1 76.6h0M527.0 61.6h0M516.9 72.5h0M518.0 68.8h0M518.9 66.3h0M504.6 81.3h0M499.6 84.7h0M512.1 75.0h0M526.5 63.8h0M510.7 85.1h0M521.3 67.2h0M510.7 76.7h0M504.2 87.1h0M500.1 82.1h0M523.0 65.6h0M517.5 70.0h0M512.7 75.3h0M505.2 82.9h0M499.9 81.4h0M515.7 69.4h0M522.4 64.3h0M513.9 73.8h0M508.3 74.2h0M507.2 73.9h0M506.8 74.7h0M510.0 87.0h0M507.8 77.5h0M506.2 74.3h0M510.8 77.4h0M520.6 64.6h0" stroke="#f0f080" stroke-width="0.72" stroke-linecap="round" fill="none"/>
<path d="M511.8 71.8h0M518.9 66.3h0M512.4 77.5h0M500.1 85.8h0M511.4 72.6h0M503.5 80.9h0M503.8 79.3h0M510.6 72.3h0M511.4 71.9h0M501.7 80.4h0M518.8 71.0h0M513.0 69.6h0M513.3 75.7h0M502.4 88.6h0M512.6 71.2h0M504.3 86.2h0M525.2 67.5h0M506.7 78.7h0M505.6 86.5h0M510.4 77.5h0M496.4 97.0h0M522.1 71.8h0M502.9 80.9h0M514.1 79.8h0M514.7 86.2h0M515.3 69.6h0M507.8 81.8h0M506.2 90.2h0M509.3 78.0h0M516.3 76.2h0M521.8 73.4h0M509.7 88.7h0M512.0 71.1h0M517.8 73.5h0M505.5 75.9h0M506.0 79.1h0M521.9 66.0h0M502.3 84.2h0M524.9 65.3h0M522.4 65.3h0M522.3 69.1h0" stroke="#a0f89c" stroke-width="0.72" stroke-linecap="round" fill="none"/>
<path d="M524.7 63.7h0M515.0 71.0h0M500.4 80.7h0M523.4 72.4h0M506.4 78.9h0M509.6 74.9h0M503.9 76.9h0M521.8 71.4h0M511.7 72.4h0M500.3 84.0h0M523.1 66.1h0M519.0 70.0h0M519.3 67.0h0M503.5 86.8h0M503.2 78.7h0M496.9 91.3h0M509.3 77.0h0M515.3 69.8h0M515.0 84.9h0M498.8 88.7h0M501.6 83.8h0M508.6 73.6h0M505.0 85.7h0M518.5 66.8h0M521.7 65.8h0M517.4 67.7h0M504.7 77.4h0M508.5 84.6h0M521.0 68.5h0M510.9 74.0h0M501.9 79.1h0M522.9 65.5h0M511.6 74.1h0M511.7 72.3h0" stroke="#28b8f4" stroke-width="0.72" stroke-linecap="round" fill="none"/>
<path d="M501.0 79.1h0M498.8 87.3h0M509.9 78.1h0M516.5 77.5h0M501.7 86.6h0M508.5 80.5h0M519.2 66.8h0M503.8 77.4h0M515.9 70.3h0M498.8 79.1h0M525.1 67.7h0M504.9 83.1h0M520.6 64.6h0M505.5 80.2h0M510.5 89.3h0M506.3 79.9h0M522.4 63.5h0M500.6 87.4h0M515.0 80.5h0M524.5 61.7h0M508.7 74.2h0M523.8 62.8h0M501.9 81.2h0M500.8 84.0h0M524.9 62.2h0M502.7 76.8h0M513.8 75.8h0M512.0 71.8h0M500.3 84.3h0M504.6 79.3h0M505.4 91.2h0M523.4 64.1h0M499.4 82.7h0" stroke="#c8f8b0" stroke-width="0.72" stroke-linecap="round" fill="none"/>
<text x="510.4" y="9.7" font-size="6.7" text-anchor="middle">d. R=1.4</text>
<text x="421.5" y="49.0" font-size="5.62">Velocity (mm/s)</text>
<path d="M423.7 56.1l1.65 1.65l-1.65 1.65l-1.65 -1.65z" fill="#0000ff"/>
<text x="428.3" y="59.4" font-size="5">0~50</text>
<path d="M423.7 64.7l1.65 1.65l-1.65 1.65l-1.65 -1.65z" fill="#00c4ff"/>
<text x="428.3" y="68.0" font-size="5">50~150</text>
<path d="M423.7 73.3l1.65 1.65l-1.65 1.65l-1.65 -1.65z" fill="#78ff3c"/>
<text x="428.3" y="76.6" font-size="5">150~500</text>
<path d="M423.7 81.9l1.65 1.65l-1.65 1.65l-1.65 -1.65z" fill="#ffb000"/>
<text x="428.3" y="85.2" font-size="5">500~1000</text>
<path d="M423.7 90.5l1.65 1.65l-1.65 1.65l-1.65 -1.65z" fill="#ff0000"/>
<text x="428.3" y="93.8" font-size="5">1000~</text>
</g>
<g id="pe">
<g filter="url(#be)"><g clip-path="url(#ce)">
<polygon points="19.4,132.7 54.3,123.3 58.3,124.9 62.4,127.8 66.0,133.5 70.0,139.8 75.5,143.9 85.7,150.8 112.6,175.4 79.7,198.3 71.8,194.5" fill="#a0f89c"/>
<polygon points="34.2,129.7 46.9,126.5 52.0,134.2 55.9,145.7 49.5,148.2 40.5,143.1 35.4,135.4" fill="#ffd020" filter="url(#b10)"/>
<polygon points="73.7,148.2 81.0,145.4 95.6,158.2 113.0,175.6 105.7,180.5 92.9,170.1 81.9,159.1" fill="#28b8f4" filter="url(#b13)"/>
<polygon points="17.8,134.8 21.6,131.6 48.4,161.2 75.2,190.9 69.5,195.7" fill="#28b8f4" filter="url(#b7)"/>
<polygon points="63.3,188.4 66.7,185.5 70.2,188.9 73.7,192.2 69.5,195.7" fill="#1c14e8" filter="url(#b5)"/>
<polygon points="91.8,151.9 88.7,155.2 98.3,164.8 107.8,174.5 111.6,170.5" fill="#1c14e8" filter="url(#b7)"/>
<polygon points="81.0,191.1 90.1,185.3 97.4,183.8 94.7,189.7 84.6,195.7" fill="#ffd020" filter="url(#b16)"/>
</g></g>
<path d="M108.0 187.7h0M102.2 184.0h0M89.0 191.2h0M85.2 194.6h0M82.3 207.5h0M98.3 186.3h0M87.1 204.8h0M87.4 197.4h0M94.7 204.5h0M85.7 195.8h0M100.9 186.6h0M80.8 200.8h0M94.5 189.5h0M88.4 196.0h0M105.4 185.4h0M82.8 196.5h0M87.5 196.5h0M100.1 185.9h0M101.5 186.0h0M90.7 205.0h0M85.6 194.4h0M94.6 187.3h0M100.2 182.7h0M85.5 195.9h0M107.4 180.8h0M85.5 203.9h0M84.6 196.1h0M100.8 185.0h0M105.0 180.9h0M99.5 188.0h0M87.3 194.4h0M106.8 180.9h0M92.1 191.7h0M104.5 181.9h0M105.7 191.8h0M108.0 178.0h0M88.8 196.3h0M91.9 191.2h0M87.4 201.2h0M103.8 181.1h0M92.4 191.5h0M93.6 193.0h0M106.4 180.4h0M95.5 196.2h0M93.1 190.4h0M102.4 181.5h0M105.5 183.8h0M80.0 204.3h0M103.7 181.8h0M102.1 185.9h0M96.1 187.9h0M84.9 196.7h0M93.6 188.6h0M102.3 183.0h0M82.6 203.5h0M95.2 191.3h0M84.0 195.1h0M84.2 209.6h0M103.5 186.4h0M96.3 195.8h0M95.5 187.3h0M80.3 199.5h0M104.6 181.9h0M90.2 193.4h0M86.4 195.9h0M89.4 196.7h0M86.0 210.0h0M97.6 194.9h0M85.7 194.1h0M98.7 185.5h0M89.6 199.6h0M100.9 182.5h0M83.3 209.9h0M91.3 191.6h0M91.6 200.9h0M80.9 211.0h0M94.3 190.2h0M94.8 195.1h0M89.5 196.1h0M96.3 187.4h0M99.9 184.5h0M86.8 194.0h0M89.6 190.7h0M85.0 202.9h0M83.3 210.3h0M91.3 189.3h0M107.5 180.6h0M105.0 181.0h0M91.7 193.6h0M97.1 186.8h0M98.3 189.6h0M97.3 189.5h0M100.8 186.7h0M87.0 193.9h0M83.8 201.9h0M104.3 193.1h0M100.2 186.4h0M92.5 190.2h0M91.9 190.7h0M102.8 186.7h0M101.8 184.0h0M94.6 192.9h0M104.4 182.5h0M86.5 197.5h0M103.8 183.0h0M90.0 203.8h0M104.1 189.6h0M81.1 201.2h0M107.8 182.7h0M81.9 198.6h0M93.5 201.6h0M90.5 192.6h0M90.0 195.1h0M82.8 213.1h0M107.0 182.0h0M100.9 196.1h0M99.9 184.2h0M91.2 190.2h0M92.2 189.1h0M96.0 187.1h0M94.7 187.6h0M79.1 212.7h0M94.7 190.5h0M101.5 189.3h0M93.7 194.9h0M93.4 193.0h0M99.6 186.9h0M85.5 196.9h0M86.0 205.4h0M88.1 193.4h0M104.6 182.3h0M89.5 195.0h0M81.9 197.1h0M96.4 187.1h0M85.4 195.1h0M93.3 191.2h0M92.2 194.4h0M83.0 195.9h0M93.2 190.6h0M107.9 180.5h0M83.9 197.0h0M95.7 191.2h0M93.2 189.6h0M86.1 194.2h0M84.2 197.1h0M90.1 192.3h0M96.0 193.7h0M102.8 188.4h0M93.4 197.6h0M82.5 213.1h0M100.7 185.2h0M86.8 204.7h0M92.0 195.5h0M99.0 193.9h0M83.2 195.0h0M94.3 188.4h0M101.2 186.1h0M92.7 188.4h0M91.2 195.8h0M100.5 187.4h0M93.9 188.8h0M81.8 213.4h0M95.6 192.9h0M101.3 183.2h0M94.9 190.1h0M98.2 187.8h0M98.9 184.8h0M101.6 193.8h0M102.7 184.7h0M90.4 194.6h0M101.1 192.2h0M94.7 196.0h0M94.1 190.8h0M97.9 189.7h0M83.1 201.5h0M90.1 197.9h0M98.8 189.0h0M102.4 190.3h0M102.1 191.9h0M92.6 189.4h0M80.8 209.1h0M105.9 182.9h0M81.9 202.2h0M108.0 177.1h0M87.0 194.7h0M102.4 185.0h0M91.8 190.6h0M99.7 183.3h0M85.5 202.8h0M106.6 180.4h0M105.5 193.2h0M97.9 188.2h0M84.7 209.1h0M100.7 184.7h0M106.3 183.7h0M96.2 192.3h0M101.3 193.8h0M88.8 200.5h0M96.1 189.5h0M104.1 189.1h0M82.3 195.5h0M92.0 190.0h0M81.4 199.5h0M90.3 197.7h0M92.6 191.3h0M80.7 201.6h0M87.2 199.7h0M97.1 188.9h0M99.0 186.0h0M82.6 206.1h0M104.3 197.2h0M102.7 186.5h0M83.3 196.2h0M81.6 200.2h0M98.5 185.7h0M107.6 179.4h0M91.6 201.9h0M95.4 188.1h0M95.3 189.2h0M107.4 187.7h0" stroke="#ff2222" stroke-width="0.72" stroke-linecap="round" fill="none"/>
<path d="M90.5 199.0h0M82.5 197.3h0M94.6 191.7h0M102.3 191.4h0M85.2 195.8h0M82.1 203.7h0M80.7 214.8h0M95.8 190.2h0M87.6 200.5h0M81.0 207.1h0M95.7 191.7h0M92.6 192.9h0M85.1 196.9h0M94.9 187.1h0M94.6 191.2h0M95.6 193.9h0M91.7 192.3h0M82.9 206.8h0M107.5 182.0h0M90.1 198.2h0M95.2 188.7h0M81.3 200.9h0M106.8 180.1h0M94.0 193.7h0M91.4 192.9h0M92.9 195.5h0M97.1 187.2h0M83.7 207.9h0M95.5 192.3h0M98.8 184.9h0M89.8 195.5h0M90.0 196.7h0M98.6 191.7h0M81.6 201.7h0M102.7 184.1h0M90.4 200.4h0M91.8 189.7h0M95.4 188.5h0M94.9 190.4h0M87.5 194.8h0M85.4 200.7h0M107.5 179.8h0M95.6 195.8h0M96.2 194.2h0M104.7 182.3h0M96.9 189.9h0M108.3 178.3h0M101.3 184.5h0M99.8 194.1h0M84.5 194.3h0M91.7 196.3h0M93.9 191.7h0" stroke="#f0f080" stroke-width="0.72" stroke-linecap="round" fill="none"/>
<path d="M96.3 195.1h0M86.5 195.1h0M109.2 178.4h0M105.7 195.9h0M98.1 188.2h0M87.1 196.1h0M84.2 200.0h0M92.7 189.0h0M90.3 203.0h0M97.6 191.8h0M81.9 208.7h0M87.9 199.8h0M98.6 185.3h0M107.3 180.5h0M83.7 195.4h0M102.7 189.0h0M98.8 188.3h0M101.2 183.5h0M89.6 196.1h0M91.3 197.8h0M85.6 196.0h0M92.0 194.2h0M90.9 190.5h0M99.1 188.5h0M99.8 186.5h0M79.4 215.5h0M94.2 188.4h0M82.9 209.1h0M86.4 196.4h0M106.2 197.1h0" stroke="#c8f8b0" stroke-width="0.72" stroke-linecap="round" fill="none"/>
<path d="M99.3 188.4h0M85.5 194.8h0M94.4 194.4h0M105.6 180.8h0M94.3 188.3h0M103.9 182.7h0M100.9 189.3h0M93.9 190.9h0M101.1 190.4h0M81.1 202.7h0M94.5 190.1h0M95.1 188.7h0M97.2 185.2h0M80.4 207.3h0M89.8 190.9h0M105.4 183.6h0M94.2 200.8h0M87.2 203.5h0M97.0 186.5h0M81.0 204.3h0M94.1 196.4h0M85.9 204.8h0M83.5 206.5h0M104.3 194.6h0M105.2 179.4h0M102.1 186.0h0M88.8 192.6h0M96.1 188.5h0M87.3 195.8h0M107.7 181.5h0M91.1 192.2h0M92.1 190.3h0M90.5 195.2h0M102.5 183.3h0M91.1 192.5h0M92.7 190.2h0M86.8 192.4h0M86.2 200.2h0M96.4 189.8h0M103.2 189.6h0M80.7 201.6h0M89.9 196.0h0M93.9 189.9h0M83.7 210.9h0M89.8 194.9h0M79.9 203.9h0M84.5 202.3h0M102.3 189.8h0M99.9 199.0h0M93.0 196.8h0M85.0 202.4h0M108.6 178.0h0M99.7 190.0h0M99.1 187.3h0M87.7 206.9h0M86.9 194.7h0M84.9 199.5h0M102.6 187.4h0M83.2 197.3h0M103.3 183.5h0M100.5 184.3h0M82.7 200.3h0M101.0 194.6h0M95.9 188.3h0M83.7 196.7h0M89.6 192.3h0M86.0 204.2h0M90.8 189.4h0" stroke="#ffd020" stroke-width="0.72" stroke-linecap="round" fill="none"/>
<path d="M82.4 196.2h0M86.4 198.4h0M105.6 189.0h0M96.3 193.4h0M100.4 186.0h0M84.3 212.0h0M91.0 198.2h0M80.6 206.0h0M99.8 200.3h0M100.4 184.2h0M100.7 195.7h0M85.4 201.6h0M86.4 197.0h0M86.6 197.5h0M81.1 198.0h0M82.5 199.7h0M88.7 207.9h0M97.6 187.4h0M107.4 179.0h0M106.7 184.6h0M84.6 199.3h0M97.2 185.8h0M89.5 190.9h0M88.7 200.6h0M100.1 192.2h0M96.3 192.1h0M96.2 192.3h0M86.2 209.2h0M83.3 203.0h0M83.1 195.7h0" stroke="#a0f89c" stroke-width="0.72" stroke-linecap="round" fill="none"/>
<text x="86.6" y="133.3" font-size="6.7" text-anchor="middle">e. R=1.5</text>
<text x="5.5" y="173.5" font-size="5.62">Velocity (mm/s)</text>
<path d="M7.9 178.8l1.65 1.65l-1.65 1.65l-1.65 -1.65z" fill="#0000ff"/>
<text x="12.5" y="182.2" font-size="5">0~50</text>
<path d="M7.9 187.4l1.65 1.65l-1.65 1.65l-1.65 -1.65z" fill="#00c4ff"/>
<text x="12.5" y="190.8" font-size="5">50~150</text>
<path d="M7.9 196.0l1.65 1.65l-1.65 1.65l-1.65 -1.65z" fill="#78ff3c"/>
<text x="12.5" y="199.4" font-size="5">150~500</text>
<path d="M7.9 204.6l1.65 1.65l-1.65 1.65l-1.65 -1.65z" fill="#ffb000"/>
<text x="12.5" y="208.0" font-size="5">500~1000</text>
<path d="M7.9 213.2l1.65 1.65l-1.65 1.65l-1.65 -1.65z" fill="#ff0000"/>
<text x="12.5" y="216.6" font-size="5">1000~</text>
</g>
<g id="pf">
<g filter="url(#be)"><g clip-path="url(#cf)">
<polygon points="157.7,134.3 193.1,125.7 197.2,127.2 201.3,130.2 226.7,153.1 249.6,177.3 217.7,199.7 210.6,196.5" fill="#a0f89c"/>
<polygon points="167.9,134.6 192.1,128.2 197.3,133.3 196.0,143.5 194.7,151.2 188.3,157.6 179.4,151.2 171.7,142.3" fill="#ffd020" filter="url(#b12)"/>
<polygon points="156.0,136.5 159.2,133.8 185.6,164.2 212.0,194.5 208.2,197.7" fill="#28b8f4" filter="url(#b6)" opacity="0.85"/>
<polygon points="227.3,151.8 223.8,155.4 235.4,167.3 246.9,179.2 251.1,174.8" fill="#28b8f4" filter="url(#b8)"/>
<polygon points="202.0,190.4 205.4,187.5 209.4,191.4 213.4,195.4 209.3,199.0" fill="#1c14e8" filter="url(#b5)"/>
<polygon points="225.5,190.5 232.0,182.0 240.5,180.5 240.5,187.0 232.0,194.5" fill="#ffd020" filter="url(#b12)"/>
</g></g>
<path d="M221.4 202.1h0M232.1 198.7h0M224.2 203.5h0M229.5 195.9h0M225.5 198.7h0M231.1 196.7h0M219.3 211.3h0M246.6 179.0h0M241.8 182.4h0M226.1 192.8h0M236.1 192.1h0M246.5 181.8h0M223.7 197.3h0M218.7 207.0h0M228.5 192.8h0M229.5 195.4h0M241.9 188.6h0M237.9 185.8h0M235.7 190.4h0M224.0 202.5h0M235.1 189.8h0M234.0 205.5h0M245.0 182.2h0M243.8 193.9h0M245.3 180.0h0M225.6 199.7h0M242.3 188.3h0M236.6 190.7h0M224.9 202.0h0M242.3 182.5h0M220.9 202.7h0M233.9 195.5h0M245.5 180.0h0" stroke="#a0f89c" stroke-width="0.72" stroke-linecap="round" fill="none"/>
<path d="M235.7 187.2h0M220.6 205.9h0M219.3 201.3h0M239.8 191.7h0M234.2 186.8h0M230.7 199.8h0M233.4 191.9h0M234.5 191.1h0M225.2 195.1h0M223.7 202.0h0M232.7 193.8h0M222.7 196.1h0M237.3 186.1h0M229.0 195.9h0M248.2 180.0h0M239.7 187.8h0M224.4 197.0h0M237.1 185.8h0M226.0 193.4h0M232.0 192.2h0M240.5 200.8h0M219.9 200.9h0M221.8 195.9h0M224.2 195.9h0M241.8 183.9h0M221.5 208.4h0M219.0 199.4h0M236.4 188.3h0M240.7 186.3h0M221.3 199.7h0M225.6 202.1h0M238.9 189.7h0M230.7 193.6h0M229.5 200.8h0M223.4 199.0h0M239.4 189.1h0M238.2 185.2h0M233.5 193.3h0M240.5 194.6h0M227.1 199.0h0M243.2 188.6h0M218.4 204.8h0M220.3 205.6h0M224.7 196.0h0M237.1 188.9h0M230.6 204.9h0M219.6 200.8h0M242.4 183.5h0M221.0 202.0h0M239.9 184.8h0M227.7 197.6h0M236.8 202.8h0M234.5 189.4h0M227.6 200.1h0M225.6 194.8h0M220.4 197.1h0M239.9 187.4h0M231.5 195.5h0M234.3 195.3h0M225.7 198.8h0M234.5 190.7h0M229.7 193.3h0M243.2 183.7h0M239.6 192.8h0M245.3 188.3h0M223.0 212.0h0M230.7 202.3h0M226.7 199.8h0M222.2 196.5h0M227.7 194.7h0M244.0 195.3h0" stroke="#ffd020" stroke-width="0.72" stroke-linecap="round" fill="none"/>
<path d="M238.3 190.5h0M240.0 182.6h0M234.4 196.4h0M227.3 198.4h0M221.2 201.7h0M236.9 187.9h0M218.2 212.6h0M242.3 188.1h0M220.2 200.9h0M224.0 197.7h0M227.4 197.5h0M241.5 185.5h0M231.7 197.8h0M247.4 178.1h0M223.3 195.2h0M246.8 185.5h0M225.4 211.1h0M240.1 185.8h0M231.2 197.8h0M230.6 190.7h0M226.1 195.5h0M221.3 198.4h0M236.0 198.9h0M230.4 197.6h0M243.1 183.6h0M222.7 195.7h0M223.7 203.1h0M234.8 187.9h0M221.9 196.7h0M220.5 203.7h0M230.4 202.9h0M224.7 195.4h0M230.3 199.8h0M223.1 197.3h0M226.3 195.6h0M239.0 186.7h0M226.5 198.2h0M230.7 193.1h0M231.3 190.4h0M237.5 189.1h0M225.3 198.9h0M222.9 200.6h0M235.0 186.7h0M223.0 195.5h0M236.3 192.9h0M230.9 195.7h0M222.8 200.3h0M220.3 196.8h0M228.3 193.9h0M222.0 198.9h0M235.2 188.5h0M230.9 190.9h0M235.9 194.1h0M247.1 180.2h0M220.4 197.1h0M232.5 190.3h0M230.0 192.2h0M230.1 194.2h0M233.5 198.9h0M233.4 191.6h0M242.1 183.0h0M229.2 190.1h0M238.1 186.1h0M232.9 191.1h0M221.2 200.2h0M241.7 185.0h0M246.2 180.4h0M245.9 183.7h0M231.6 196.8h0M240.0 191.5h0M226.0 201.5h0M232.4 189.2h0M243.9 181.6h0M246.7 183.7h0M245.7 182.6h0M236.2 196.4h0M226.7 196.0h0M227.5 193.8h0M233.5 191.7h0M232.3 199.6h0M243.4 183.7h0M222.4 197.6h0M231.6 193.9h0M241.6 190.4h0" stroke="#f0f080" stroke-width="0.72" stroke-linecap="round" fill="none"/>
<path d="M240.8 187.2h0M223.4 199.0h0M231.1 191.8h0M232.1 199.4h0M244.4 180.9h0M225.9 192.7h0M245.8 180.9h0M221.6 201.4h0M226.5 205.1h0M226.1 196.4h0M218.4 215.3h0M220.4 200.0h0M222.6 201.4h0M224.9 196.9h0M224.1 194.6h0M231.6 190.8h0M246.3 179.8h0M238.5 185.8h0M235.3 193.3h0M219.7 201.5h0M224.7 209.9h0M220.8 200.2h0M238.9 191.7h0M228.8 193.9h0M236.6 188.3h0M244.6 186.2h0M220.7 201.7h0M223.2 196.2h0M231.3 190.1h0M228.9 201.3h0M232.5 189.7h0M226.2 202.3h0M243.2 188.3h0M248.8 177.8h0M239.1 199.6h0M222.6 198.2h0M231.7 189.3h0M221.0 198.6h0M246.4 179.5h0M235.0 200.1h0M241.0 195.5h0M229.7 195.4h0M236.6 186.0h0M235.7 186.6h0M246.2 181.5h0M225.7 208.8h0M238.6 192.4h0M221.8 203.8h0M226.7 199.1h0M226.7 193.2h0M225.0 195.4h0M227.5 193.7h0M228.1 201.8h0M236.9 191.6h0M233.0 189.4h0M225.4 203.6h0M231.3 190.2h0M244.0 180.9h0M227.6 195.5h0M236.7 189.3h0M230.5 195.1h0M244.1 186.1h0M218.7 206.5h0M224.6 198.0h0M218.1 201.1h0M227.3 209.3h0M242.1 182.1h0M232.2 203.4h0M228.2 194.7h0M240.2 191.3h0M225.0 204.8h0M231.1 191.4h0M244.5 197.7h0M244.2 186.5h0M221.1 201.4h0M241.4 186.2h0M232.6 197.4h0M237.4 193.8h0M230.2 197.7h0M225.4 194.5h0M226.8 198.0h0M240.7 191.6h0M243.6 183.5h0M236.5 188.4h0M245.2 181.2h0M236.1 189.0h0M221.5 204.0h0M223.1 197.2h0M236.5 189.5h0M234.9 189.9h0M234.2 189.0h0M231.8 191.9h0M232.0 189.8h0M233.8 188.1h0M239.6 186.0h0M223.8 199.2h0M221.3 197.4h0M218.2 211.0h0M227.9 193.2h0M233.4 196.0h0M225.1 195.3h0M225.7 196.9h0M220.0 201.5h0M237.1 191.3h0M246.1 182.8h0M237.0 189.6h0M245.6 190.0h0M221.9 200.4h0M230.6 196.1h0M236.5 193.0h0M233.1 196.0h0M242.0 191.2h0M237.5 186.0h0M225.6 200.7h0M242.0 188.9h0M235.2 188.1h0M233.2 191.1h0M218.4 203.2h0M244.2 185.1h0M218.8 198.4h0M240.7 191.1h0M232.7 188.4h0M225.3 198.8h0M240.2 191.2h0M229.0 197.3h0M243.6 189.7h0M223.1 196.9h0M236.3 191.4h0M236.5 189.7h0M222.0 198.6h0M227.6 199.5h0M235.7 187.9h0M233.8 191.7h0M224.6 206.3h0M228.0 194.0h0M235.5 193.0h0M230.9 194.2h0M219.3 205.1h0M222.4 197.6h0M220.6 214.4h0M227.9 196.8h0M228.1 191.0h0M243.8 183.7h0M230.0 193.6h0M225.5 198.0h0M223.9 197.7h0M245.6 180.4h0M238.8 185.2h0M223.8 194.9h0M239.4 186.4h0M222.9 203.5h0M218.7 203.4h0M242.4 182.0h0M237.0 190.2h0M233.0 201.3h0M245.2 180.0h0M220.8 195.9h0M233.2 194.3h0M238.2 187.6h0M231.8 193.7h0M246.5 179.3h0M227.3 195.7h0M245.0 184.5h0M245.8 178.7h0M220.3 201.3h0M222.1 196.2h0M228.1 197.1h0M222.0 203.8h0M238.8 187.1h0M235.9 189.9h0M245.0 184.5h0M219.3 199.1h0M222.3 203.5h0M231.3 194.6h0M231.1 193.0h0M242.9 181.9h0M230.7 201.4h0M222.5 195.8h0M239.4 189.3h0M244.3 188.6h0M228.7 200.5h0M225.2 197.3h0M243.5 183.1h0M220.7 209.6h0M243.8 186.3h0M244.8 182.1h0M237.5 200.0h0M223.8 196.4h0M242.6 188.2h0M227.8 196.5h0M223.7 208.7h0M222.1 198.9h0M221.3 210.0h0M220.9 204.7h0M229.3 196.8h0M244.2 197.7h0M233.9 188.3h0M224.7 205.8h0" stroke="#ff2222" stroke-width="0.72" stroke-linecap="round" fill="none"/>
<path d="M231.8 191.2h0M228.9 197.5h0M237.0 191.0h0M222.4 206.7h0M221.8 197.5h0M241.5 189.6h0M234.4 192.3h0M220.4 208.5h0M246.7 182.5h0M229.0 197.4h0M238.4 185.8h0M218.0 203.6h0M233.7 196.8h0M238.4 196.2h0M231.6 196.9h0M233.2 192.3h0M233.0 191.7h0M218.5 207.3h0M228.5 191.8h0M224.1 205.1h0M223.9 199.7h0M224.4 198.0h0M229.1 195.0h0M234.7 195.8h0M239.3 186.7h0M237.7 194.0h0M236.3 188.0h0M226.2 196.7h0M229.2 191.4h0M221.1 203.1h0M228.4 195.4h0M231.0 193.3h0M224.5 194.4h0M238.7 189.2h0M220.9 203.3h0M221.7 208.7h0M217.3 212.0h0M240.9 186.3h0M221.3 205.8h0M230.0 195.6h0M231.0 203.4h0M242.9 186.7h0M237.1 189.5h0M232.7 190.9h0M237.1 188.0h0" stroke="#c8f8b0" stroke-width="0.72" stroke-linecap="round" fill="none"/>
<text x="228.3" y="135.0" font-size="6.7" text-anchor="middle">f. R=1.6</text>
<text x="143.5" y="173.5" font-size="5.62">Velocity (mm/s)</text>
<path d="M145.4 178.8l1.65 1.65l-1.65 1.65l-1.65 -1.65z" fill="#0000ff"/>
<text x="150.0" y="182.2" font-size="5">0~50</text>
<path d="M145.4 187.4l1.65 1.65l-1.65 1.65l-1.65 -1.65z" fill="#00c4ff"/>
<text x="150.0" y="190.8" font-size="5">50~150</text>
<path d="M145.4 196.0l1.65 1.65l-1.65 1.65l-1.65 -1.65z" fill="#78ff3c"/>
<text x="150.0" y="199.4" font-size="5">150~500</text>
<path d="M145.4 204.6l1.65 1.65l-1.65 1.65l-1.65 -1.65z" fill="#ffb000"/>
<text x="150.0" y="208.0" font-size="5">500~1000</text>
<path d="M145.4 213.2l1.65 1.65l-1.65 1.65l-1.65 -1.65z" fill="#ff0000"/>
<text x="150.0" y="216.6" font-size="5">1000~</text>
</g>
<g id="pg">
<g filter="url(#be)"><g clip-path="url(#cg)">
<polygon points="299.7,133.7 335.1,124.4 339.2,125.9 343.3,128.9 368.5,151.6 391.3,175.6 359.6,198.4 351.8,194.5" fill="#a0f89c"/>
<polygon points="308.5,133.0 335.4,125.3 343.6,134.0 347.2,143.5 343.1,155.5 330.3,159.5 319.6,150.5 311.4,140.2" fill="#ffd020" filter="url(#b12)"/>
<polygon points="298.0,136.0 301.1,133.3 327.1,162.9 353.2,192.5 349.4,195.8" fill="#28b8f4" filter="url(#b6)" opacity="0.85"/>
<polygon points="342.2,187.4 345.4,184.6 349.9,189.1 354.4,193.6 350.5,197.0" fill="#1c14e8" filter="url(#b5)"/>
<polygon points="378.6,159.4 375.5,162.7 382.4,169.7 389.3,176.7 392.8,173.1" fill="#28b8f4" filter="url(#b6)"/>
<polygon points="363.5,186.5 370.0,178.0 378.5,178.5 379.5,186.0 371.0,192.0" fill="#ffd020" filter="url(#b12)"/>
</g></g>
<path d="M369.7 202.7h0M371.8 193.7h0M360.7 201.9h0M386.9 183.1h0M387.6 180.5h0M364.2 208.6h0M384.9 188.1h0M360.0 204.8h0M369.2 192.9h0M377.9 185.1h0M365.7 201.6h0M368.3 200.8h0M360.2 199.4h0M362.6 210.9h0M364.1 209.7h0M382.8 181.9h0M367.4 192.8h0M376.0 190.0h0M376.0 191.7h0M361.0 210.7h0M370.8 195.2h0M379.4 185.1h0M381.0 189.9h0M388.0 179.3h0M371.2 194.4h0M386.7 178.1h0M370.3 205.3h0M382.4 182.0h0M382.5 187.7h0M388.1 178.1h0M378.8 183.7h0M361.4 203.8h0" stroke="#a0f89c" stroke-width="0.72" stroke-linecap="round" fill="none"/>
<path d="M360.1 203.0h0M385.2 184.6h0M371.1 197.1h0M377.8 186.4h0M380.7 199.1h0M373.6 191.6h0M388.0 194.6h0M379.7 186.4h0M387.8 181.1h0M370.2 193.6h0M379.4 189.9h0M362.0 197.7h0M367.8 194.7h0M381.3 187.6h0M385.7 181.5h0M375.1 187.6h0M386.8 177.7h0M379.0 188.8h0M362.6 202.6h0M364.2 199.0h0M374.2 189.2h0M378.4 184.5h0M372.2 190.2h0M362.8 196.2h0M391.0 178.7h0M383.3 181.6h0M361.6 195.5h0M368.1 196.6h0M380.2 190.5h0M369.3 204.1h0M364.3 200.9h0M378.3 197.2h0M365.3 196.4h0M364.3 211.6h0M371.0 194.5h0M377.4 190.9h0M368.4 193.9h0M381.6 182.9h0M379.5 198.5h0M380.4 187.3h0M361.7 198.8h0M383.0 185.4h0M368.7 197.5h0M375.0 187.8h0M373.8 190.0h0M376.7 189.9h0M367.9 196.3h0M378.9 186.0h0M378.0 183.8h0M382.7 185.1h0M371.4 191.0h0M372.3 189.9h0M366.0 208.7h0M364.3 211.8h0M381.8 190.5h0M361.5 199.4h0M379.5 184.8h0M370.2 190.2h0M384.2 191.5h0M381.7 187.5h0M380.8 183.3h0M364.2 195.1h0M367.1 201.9h0M367.2 194.6h0M359.1 206.2h0M368.9 193.1h0M385.1 180.5h0M364.9 199.5h0M370.6 195.9h0M390.3 177.6h0M373.5 192.5h0M380.8 184.7h0M366.7 201.5h0M379.1 184.4h0M382.5 196.5h0M367.4 191.4h0" stroke="#ffd020" stroke-width="0.72" stroke-linecap="round" fill="none"/>
<path d="M366.3 205.7h0M391.3 175.4h0M377.0 190.7h0M381.0 184.5h0M385.1 189.6h0M363.7 195.3h0M363.3 198.2h0M375.2 186.8h0M362.4 197.5h0M379.3 187.4h0M365.5 202.3h0M366.4 193.8h0M373.8 191.1h0M381.7 189.4h0M360.6 207.4h0M385.7 188.7h0M386.6 177.7h0M369.6 207.5h0M386.2 183.4h0M381.6 182.1h0M384.2 183.5h0M363.2 194.1h0M389.8 176.6h0M364.2 202.3h0M391.2 180.0h0M372.5 192.2h0M370.5 192.3h0M383.7 185.8h0M384.1 180.9h0M380.8 183.4h0M374.4 187.7h0M376.5 187.0h0M370.2 191.0h0M386.2 181.7h0M359.9 198.4h0M372.9 199.6h0M389.2 186.6h0M363.6 199.9h0M376.0 192.8h0M385.9 180.4h0M374.0 195.8h0M367.6 205.7h0M358.8 206.9h0M364.6 205.5h0M384.8 184.8h0M384.0 184.3h0M389.3 184.1h0M390.2 177.5h0M372.2 205.5h0M370.4 201.6h0M365.0 208.4h0M379.1 187.7h0M384.4 182.9h0M362.6 199.4h0M361.1 203.4h0M371.0 201.8h0M362.9 196.9h0M367.8 195.4h0M360.2 200.2h0M385.1 181.6h0M365.7 206.6h0M369.1 197.5h0M370.1 199.4h0M370.8 197.6h0M379.5 187.1h0M360.2 206.8h0M384.1 187.0h0M372.1 194.9h0M361.3 200.0h0M367.0 194.7h0M370.8 195.7h0M373.1 193.4h0M367.5 193.3h0M385.2 181.1h0M367.6 194.6h0M366.3 198.3h0M365.9 200.1h0M388.4 182.8h0M389.0 180.5h0M383.8 180.7h0M388.4 181.2h0M361.4 202.1h0M381.7 183.4h0M365.2 195.4h0M381.0 189.5h0M371.8 192.4h0M366.2 199.7h0M379.1 189.9h0M377.6 185.6h0M378.2 189.1h0M378.4 190.1h0M361.6 198.6h0M381.9 182.8h0M375.7 190.7h0M388.1 185.4h0M370.7 190.4h0M378.8 184.8h0M372.5 191.1h0M364.6 193.7h0M360.6 204.0h0M377.0 188.2h0M377.7 185.7h0M381.8 181.9h0M364.9 195.8h0M374.6 189.5h0M377.9 192.3h0M368.0 194.9h0M375.5 189.4h0M376.8 187.8h0M383.3 191.1h0M388.7 184.8h0M385.4 183.9h0M374.3 186.7h0M384.7 186.1h0M373.5 196.4h0M364.6 200.6h0M358.4 212.7h0M383.9 183.8h0M360.5 209.0h0M366.4 195.9h0M383.2 182.0h0M378.2 190.2h0M369.6 191.0h0M384.6 184.4h0M377.3 190.9h0M378.9 188.6h0M362.9 199.2h0M366.7 199.5h0M360.9 201.6h0M370.0 193.7h0M378.2 185.6h0M390.6 175.8h0M373.2 191.6h0M383.8 183.8h0M386.2 182.1h0M371.9 202.1h0M376.8 191.9h0M378.4 188.8h0M373.7 200.7h0M361.9 200.3h0M366.3 193.1h0M386.2 178.6h0M377.4 188.7h0M362.9 199.5h0M378.6 188.4h0M369.4 201.9h0M384.5 180.5h0M384.3 186.4h0M361.9 196.3h0M378.7 184.7h0M366.3 194.2h0M363.2 203.1h0M360.0 199.5h0M366.1 201.5h0M364.3 195.7h0M378.3 190.1h0M375.1 194.3h0M367.1 192.0h0M384.1 184.0h0M362.8 200.8h0M364.1 197.0h0M367.5 198.2h0M390.0 188.1h0M372.1 193.7h0M378.3 183.4h0M378.5 194.2h0M382.2 189.0h0M377.8 189.8h0M371.7 204.1h0M371.0 195.4h0M391.4 177.8h0M384.9 180.6h0M369.2 191.3h0M371.2 194.2h0M385.1 182.0h0M375.9 191.8h0M361.8 208.6h0M381.6 192.7h0M361.4 200.5h0M374.0 190.0h0M373.1 199.9h0M383.7 181.2h0M388.3 178.6h0M365.8 195.6h0M367.4 193.4h0M381.5 183.5h0M386.0 190.9h0M380.1 193.4h0M368.9 193.1h0M370.6 198.1h0M374.7 192.7h0M373.6 196.7h0M370.2 191.0h0M366.8 193.7h0M360.1 204.6h0M363.1 196.1h0M376.7 198.6h0M363.3 196.7h0M374.4 191.6h0M385.5 183.1h0M370.1 194.8h0M388.6 182.1h0M376.3 187.7h0M383.9 186.3h0M385.3 183.6h0M369.7 196.1h0M366.2 197.4h0M367.2 194.8h0M381.1 182.3h0M364.3 195.4h0M381.1 188.6h0M364.2 199.7h0M376.5 191.2h0M377.6 187.0h0M375.3 192.6h0M366.9 199.4h0M386.2 193.0h0M383.0 181.9h0M369.1 193.3h0M370.1 191.1h0M361.2 208.5h0M368.0 192.7h0M370.3 193.2h0M373.5 189.9h0M373.0 191.3h0M386.9 185.6h0M389.9 176.5h0M358.4 215.0h0M378.0 193.1h0M379.7 190.0h0M363.2 198.2h0M385.1 186.9h0M381.3 193.0h0M366.3 194.3h0M390.0 178.0h0M369.0 196.2h0" stroke="#ff2222" stroke-width="0.72" stroke-linecap="round" fill="none"/>
<path d="M377.2 191.9h0M381.1 183.8h0M367.0 194.5h0M376.5 193.2h0M369.4 197.8h0M378.7 187.4h0M371.5 190.7h0M386.7 183.7h0M364.0 194.4h0M371.1 200.2h0M383.5 185.3h0M373.9 192.4h0M363.0 195.8h0M380.3 182.5h0M364.2 201.0h0M376.7 186.1h0M382.3 180.8h0M361.6 200.5h0M368.1 199.2h0M382.7 181.6h0M382.0 199.1h0M363.2 196.7h0M365.4 195.3h0M374.5 188.8h0M388.1 179.9h0M374.6 186.9h0M368.4 193.8h0M372.2 188.5h0M381.2 191.9h0M387.4 180.7h0M363.2 201.0h0M374.9 186.2h0M375.8 187.1h0M369.9 196.1h0M365.1 193.9h0M390.3 184.3h0M372.7 191.7h0M358.9 207.3h0M376.1 196.1h0M375.6 189.6h0M381.3 183.3h0M373.1 191.3h0M365.3 200.4h0M374.8 193.0h0M375.1 199.2h0M367.9 194.7h0" stroke="#c8f8b0" stroke-width="0.72" stroke-linecap="round" fill="none"/>
<path d="M370.9 193.7h0M363.1 197.7h0M380.0 186.5h0M379.5 193.4h0M372.5 197.5h0M372.1 192.1h0M383.0 188.1h0M380.9 197.6h0M376.3 186.3h0M375.1 191.1h0M384.4 185.8h0M366.8 206.5h0M367.3 195.9h0M366.1 194.4h0M387.0 190.7h0M364.9 199.0h0M375.8 189.1h0M383.1 187.4h0M372.0 188.5h0M366.3 194.4h0M368.8 192.0h0M368.0 196.2h0M375.6 194.6h0M369.8 190.8h0M385.4 180.7h0M365.3 200.2h0M369.6 205.2h0M386.4 179.4h0M381.8 182.3h0M387.5 179.0h0M364.4 208.4h0M388.3 183.2h0M379.8 189.0h0M390.7 180.1h0M377.8 184.5h0M382.6 181.6h0M369.1 200.5h0M363.6 196.9h0M378.8 194.7h0M383.3 181.4h0M372.4 190.7h0M374.4 191.5h0M362.5 196.3h0M374.5 191.0h0M375.4 188.9h0M388.6 179.7h0M365.3 197.5h0M376.4 185.8h0M385.0 194.1h0M375.6 191.2h0M375.0 196.0h0M381.3 188.3h0M364.3 195.5h0M381.5 183.8h0M368.8 199.5h0M362.2 196.7h0M385.9 186.6h0M375.7 191.0h0M368.3 206.3h0M364.5 201.3h0M363.0 209.1h0M369.3 192.9h0M389.4 182.2h0M382.1 189.0h0M375.9 194.4h0M368.0 196.2h0M384.6 187.5h0M369.6 192.9h0M377.0 188.8h0M371.7 201.4h0M371.9 191.6h0M369.3 203.6h0M376.7 185.5h0M380.8 186.9h0M366.8 192.6h0M375.6 186.8h0" stroke="#f0f080" stroke-width="0.72" stroke-linecap="round" fill="none"/>
<text x="363.8" y="134.3" font-size="6.7" text-anchor="middle">g. R=1.7</text>
<text x="280.5" y="173.5" font-size="5.62">Velocity (mm/s)</text>
<path d="M282.6 178.8l1.65 1.65l-1.65 1.65l-1.65 -1.65z" fill="#0000ff"/>
<text x="287.3" y="182.2" font-size="5">0~50</text>
<path d="M282.6 187.4l1.65 1.65l-1.65 1.65l-1.65 -1.65z" fill="#00c4ff"/>
<text x="287.3" y="190.8" font-size="5">50~150</text>
<path d="M282.6 196.0l1.65 1.65l-1.65 1.65l-1.65 -1.65z" fill="#78ff3c"/>
<text x="287.3" y="199.4" font-size="5">150~500</text>
<path d="M282.6 204.6l1.65 1.65l-1.65 1.65l-1.65 -1.65z" fill="#ffb000"/>
<text x="287.3" y="208.0" font-size="5">500~1000</text>
<path d="M282.6 213.2l1.65 1.65l-1.65 1.65l-1.65 -1.65z" fill="#ff0000"/>
<text x="287.3" y="216.6" font-size="5">1000~</text>
</g>
<g id="ph">
<g filter="url(#be)"><g clip-path="url(#ch)">
<polygon points="435.1,130.5 471.8,122.5 475.9,124.0 479.9,127.0 506.2,150.4 530.0,175.2 496.4,197.3 489.9,194.7" fill="#a0f89c"/>
<polygon points="442.1,131.2 475.0,123.9 486.8,134.8 489.6,147.3 486.8,159.1 476.8,164.1 464.9,158.6 453.0,145.4" fill="#ffd020" filter="url(#b13)"/>
<polygon points="481.4,154.6 493.2,155.5 504.2,167.4 513.9,177.4 508.8,190.2 496.9,185.6 486.8,173.8 480.4,163.7" fill="#ffd020" filter="url(#b13)"/>
<polygon points="433.4,132.8 436.5,130.1 451.5,147.4 466.6,164.6 463.2,167.5" fill="#28b8f4" filter="url(#b6)" opacity="0.85"/>
<polygon points="463.2,167.5 467.0,164.3 479.5,178.2 492.1,192.0 487.5,196.0" fill="#28b8f4" filter="url(#b6)"/>
<polygon points="479.9,187.1 483.1,184.4 487.8,189.1 492.6,193.8 488.6,197.2" fill="#1c14e8" filter="url(#b5)"/>
<polygon points="511.8,153.9 508.6,157.1 518.5,166.5 528.4,176.0 531.5,172.7" fill="#28b8f4" filter="url(#b6)"/>
</g></g>
<path d="M521.5 191.2h0M502.6 198.0h0M510.6 193.0h0M524.8 185.5h0M521.8 183.5h0M505.4 199.9h0M519.1 184.4h0M502.5 197.4h0M505.9 198.9h0M524.1 177.9h0M527.2 177.7h0M501.6 194.0h0M503.9 197.0h0M528.1 178.6h0M528.7 175.3h0M501.9 194.5h0M502.7 197.9h0M515.5 185.5h0M518.2 198.8h0M500.4 200.7h0M522.8 179.8h0M519.8 185.4h0M511.2 190.3h0M527.1 176.2h0M519.3 182.3h0M518.5 184.5h0M509.5 197.8h0M527.4 179.2h0M519.3 185.1h0M520.4 180.9h0M519.2 190.3h0M521.4 184.5h0M512.0 190.4h0M498.0 196.6h0M522.4 194.5h0M520.7 183.3h0M519.3 186.3h0M519.0 185.5h0M498.4 200.3h0M528.6 175.6h0M514.2 185.1h0M528.9 180.8h0M516.2 191.2h0M509.3 194.9h0M499.6 198.3h0M497.7 202.5h0M520.3 192.8h0M527.1 180.2h0M501.3 200.4h0M515.1 189.4h0M498.8 198.8h0M517.8 200.0h0M514.8 191.9h0M508.2 188.6h0M509.7 192.6h0M505.7 194.7h0M503.5 196.8h0M524.0 179.2h0M501.6 194.9h0M512.7 189.6h0M507.7 189.1h0M529.9 176.6h0M520.9 186.2h0M527.0 183.1h0M521.5 189.3h0M497.5 197.6h0M505.4 197.6h0M496.8 203.0h0M526.2 182.1h0M502.6 195.6h0M515.6 197.7h0M526.4 177.6h0M499.2 197.8h0M517.7 184.1h0M504.7 205.4h0M500.3 204.7h0M496.9 202.0h0M521.9 187.5h0M501.0 200.6h0M498.0 198.3h0M509.1 191.9h0M521.2 188.6h0M516.0 189.2h0M506.1 191.6h0M506.3 191.6h0M509.5 192.0h0M499.3 195.8h0M519.1 182.8h0M506.3 192.9h0M527.9 176.0h0M498.9 198.6h0M516.5 193.8h0M501.8 203.4h0M508.8 199.1h0M514.1 186.6h0M509.5 197.2h0M513.1 191.0h0M505.5 201.9h0M510.6 193.8h0M515.1 185.0h0M504.4 192.2h0M527.3 178.9h0M528.4 186.2h0M525.5 180.0h0M506.5 195.6h0M525.4 180.2h0M507.9 195.9h0M516.5 187.6h0M497.3 200.6h0M511.1 188.2h0M502.5 194.2h0M496.6 203.5h0M527.5 181.1h0M516.5 186.4h0M507.4 196.7h0M525.9 179.6h0M519.5 182.3h0M503.1 195.6h0M526.3 181.7h0M504.5 199.4h0M511.0 201.5h0M508.0 190.9h0M525.3 195.0h0M513.3 191.0h0M515.0 193.5h0M500.9 192.8h0M497.5 200.4h0M519.5 184.5h0M516.7 192.9h0M511.3 194.2h0M513.9 186.1h0M517.7 188.2h0M505.7 192.4h0M512.7 186.9h0M501.1 195.0h0M522.3 185.8h0M504.1 194.6h0M505.5 190.5h0M526.9 187.9h0M498.7 200.8h0M505.2 206.2h0M515.7 188.8h0M505.7 199.7h0M504.7 192.3h0M497.8 196.3h0M515.6 185.4h0M518.1 185.7h0M521.8 186.7h0M513.5 194.8h0M518.1 186.8h0M518.6 186.0h0M522.7 193.8h0M524.7 185.7h0M517.4 187.3h0M500.6 198.2h0M522.1 183.9h0M516.7 185.0h0M522.5 182.1h0M513.5 202.7h0M506.2 192.6h0M508.9 191.9h0M515.3 188.3h0M520.8 187.7h0M523.8 184.1h0M510.4 189.9h0M516.9 190.1h0M511.8 193.8h0M519.1 191.0h0M527.4 177.8h0M511.2 190.3h0M505.0 198.4h0M517.2 192.0h0M520.7 181.8h0M523.9 179.9h0M527.2 179.7h0M499.6 200.4h0M524.0 185.5h0M529.6 178.3h0M526.5 178.8h0M503.2 193.5h0M499.3 201.7h0M517.1 186.0h0M525.4 193.3h0M506.7 194.3h0M517.9 184.4h0M497.2 201.3h0M508.9 193.6h0M501.4 197.2h0M522.8 191.2h0M497.6 199.8h0M519.1 190.0h0M515.5 192.6h0M506.3 194.1h0M506.2 192.8h0M528.3 181.2h0M519.9 182.4h0M508.6 205.9h0M527.0 186.2h0M519.4 184.7h0M498.6 199.3h0M524.1 183.4h0M502.5 201.9h0M519.1 187.4h0M501.0 195.2h0M499.3 197.1h0M505.1 197.2h0M503.1 193.3h0M522.1 182.9h0M500.2 209.7h0M520.0 182.2h0M505.2 194.0h0M517.5 189.4h0M503.7 193.8h0M515.4 185.3h0M498.0 203.9h0M515.7 188.2h0M513.4 190.7h0M518.0 189.5h0M509.4 189.1h0M500.0 196.8h0M508.5 194.0h0M499.1 198.6h0M509.2 190.0h0M504.1 193.3h0M503.5 201.5h0M501.5 195.7h0M500.2 207.0h0M516.7 190.0h0M516.2 189.8h0M503.0 194.2h0M503.7 194.9h0M498.2 199.7h0M499.6 196.4h0M504.6 191.2h0M513.6 187.9h0M497.2 203.5h0M525.9 178.7h0M514.0 192.8h0M528.1 177.3h0M522.1 184.8h0M504.4 194.3h0M518.6 189.1h0M511.7 190.8h0M527.0 178.6h0M507.3 189.5h0M497.8 205.7h0M520.5 183.3h0M506.3 189.8h0M510.5 194.7h0M496.5 203.4h0M502.6 199.7h0M514.6 192.4h0M501.9 193.0h0M516.6 186.5h0M520.7 196.9h0M507.8 191.7h0M500.2 196.1h0M511.4 186.7h0M508.7 205.5h0" stroke="#ff2222" stroke-width="0.72" stroke-linecap="round" fill="none"/>
<path d="M513.7 186.8h0M515.0 184.0h0M510.0 196.4h0M511.0 196.7h0M511.0 195.0h0M499.0 197.5h0M511.5 190.6h0M524.6 180.1h0M507.2 193.9h0M527.4 194.2h0M501.8 194.3h0M497.3 200.1h0M506.4 193.4h0M506.0 193.2h0M521.4 181.2h0M522.7 192.4h0M520.6 192.0h0M511.9 200.9h0M509.1 194.4h0M520.5 185.6h0M504.5 202.2h0M510.1 188.0h0M515.4 188.8h0M520.9 183.7h0M503.4 195.2h0M516.6 184.7h0M516.5 187.3h0M524.5 178.9h0M497.6 199.2h0M515.7 188.7h0M504.2 197.8h0M516.9 186.9h0M509.0 188.6h0M515.5 188.5h0M509.1 203.5h0M511.2 195.3h0M498.8 195.2h0M525.4 179.0h0M524.1 180.7h0M503.9 197.7h0M520.8 183.4h0M514.8 186.5h0M517.7 182.6h0M514.0 189.1h0M510.5 189.9h0M505.7 196.0h0M499.0 196.0h0M512.5 190.1h0M524.2 180.8h0M504.0 194.8h0M497.9 198.3h0M526.3 177.5h0M524.0 180.6h0M501.1 197.2h0M498.4 205.7h0M510.1 189.4h0M511.5 190.5h0M502.8 196.5h0M513.2 191.4h0M506.9 198.5h0M506.1 196.7h0M509.2 193.5h0M523.8 181.1h0M500.4 202.4h0M513.7 196.6h0M500.5 194.3h0M506.3 191.1h0M526.4 186.3h0M517.9 192.5h0M505.0 193.8h0M507.3 192.4h0M524.9 195.0h0M511.5 197.6h0" stroke="#f0f080" stroke-width="0.72" stroke-linecap="round" fill="none"/>
<path d="M511.4 200.7h0M507.8 196.3h0M517.0 186.3h0M523.7 190.5h0M496.3 202.5h0M502.2 195.2h0M498.7 198.0h0M509.0 192.3h0M510.4 190.3h0M505.2 196.6h0M497.0 207.1h0M498.2 208.4h0M511.0 191.7h0M501.6 196.6h0M522.4 181.8h0M508.3 193.8h0M506.2 194.0h0M506.5 190.9h0M517.6 183.1h0M507.1 190.9h0M512.5 192.9h0M500.7 202.0h0M529.6 179.1h0M500.8 200.4h0M521.4 195.5h0M516.9 190.0h0M517.4 184.4h0M508.0 190.0h0M505.7 190.8h0M512.3 188.7h0M501.4 200.7h0M507.7 192.3h0M515.3 189.9h0M516.4 184.3h0M500.9 205.6h0M507.2 196.9h0M527.7 187.1h0M518.8 187.2h0M497.7 198.9h0M496.8 203.9h0M499.8 210.9h0M514.9 187.9h0M517.4 189.4h0M506.7 194.3h0M510.1 204.4h0M506.1 193.1h0M502.5 204.1h0M529.7 180.4h0M515.0 189.8h0M530.2 174.8h0M516.7 183.4h0M510.9 189.0h0M501.0 205.3h0M514.4 189.9h0M501.1 195.8h0M499.5 197.2h0M504.5 203.3h0M520.4 183.1h0M505.3 192.9h0M505.0 193.8h0M520.1 185.4h0M513.2 193.4h0M514.5 192.5h0M511.6 191.6h0M508.6 189.0h0M501.8 199.5h0M517.8 182.2h0M504.2 193.2h0M523.6 185.0h0M499.9 196.5h0M515.7 191.4h0M511.2 190.8h0M498.4 206.3h0" stroke="#ffd020" stroke-width="0.72" stroke-linecap="round" fill="none"/>
<path d="M520.1 182.0h0M514.0 185.6h0M515.9 184.7h0M529.2 176.3h0M509.8 195.2h0M503.8 199.6h0M504.4 203.1h0M522.5 185.7h0M516.0 184.8h0M527.4 177.6h0M512.5 190.3h0M501.3 195.2h0M517.9 185.4h0M520.1 183.2h0M513.6 187.6h0M506.2 193.6h0M509.3 191.9h0M509.5 188.9h0M516.9 187.4h0M503.4 196.7h0M529.6 175.3h0M502.2 197.5h0M507.7 194.9h0M505.9 195.3h0M506.8 191.9h0M500.6 194.7h0M508.3 190.3h0M504.1 195.1h0M508.3 190.8h0M496.8 205.2h0M522.5 190.7h0M523.1 187.5h0M514.0 190.0h0M524.0 188.3h0" stroke="#a0f89c" stroke-width="0.72" stroke-linecap="round" fill="none"/>
<path d="M503.5 194.7h0M518.4 183.7h0M510.9 190.0h0M501.3 197.8h0M519.1 181.7h0M515.9 192.7h0M524.1 186.5h0M512.0 187.2h0M512.4 188.0h0M505.8 195.8h0M500.3 204.2h0M497.9 203.8h0M515.1 185.1h0M504.0 192.1h0M514.6 188.5h0M504.0 192.3h0M498.2 208.8h0M502.2 199.9h0M527.3 183.5h0M506.8 192.7h0M526.8 181.0h0M514.1 185.7h0M520.6 184.8h0M498.5 196.1h0M509.4 192.6h0M522.3 181.3h0M509.6 205.4h0M498.9 198.2h0M517.4 195.6h0M511.6 199.0h0M519.3 199.5h0M511.3 190.9h0M497.9 198.1h0M525.5 182.6h0M503.3 193.7h0M530.0 175.2h0M498.8 195.0h0" stroke="#c8f8b0" stroke-width="0.72" stroke-linecap="round" fill="none"/>
<text x="507.3" y="133.8" font-size="6.7" text-anchor="middle">h. R=1.8</text>
<text x="421.5" y="173.5" font-size="5.62">Velocity (mm/s)</text>
<path d="M423.7 178.8l1.65 1.65l-1.65 1.65l-1.65 -1.65z" fill="#0000ff"/>
<text x="427.6" y="182.2" font-size="5">0~50</text>
<path d="M423.7 187.4l1.65 1.65l-1.65 1.65l-1.65 -1.65z" fill="#00c4ff"/>
<text x="427.6" y="190.8" font-size="5">50~150</text>
<path d="M423.7 196.0l1.65 1.65l-1.65 1.65l-1.65 -1.65z" fill="#78ff3c"/>
<text x="427.6" y="199.4" font-size="5">150~500</text>
<path d="M423.7 204.6l1.65 1.65l-1.65 1.65l-1.65 -1.65z" fill="#ffb000"/>
<text x="427.6" y="208.0" font-size="5">500~1000</text>
<path d="M423.7 213.2l1.65 1.65l-1.65 1.65l-1.65 -1.65z" fill="#ff0000"/>
<text x="427.6" y="216.6" font-size="5">1000~</text>
</g>
<g id="pi">
<g filter="url(#be)"><g clip-path="url(#ci)">
<polygon points="18.9,252.3 55.6,243.1 59.7,244.6 63.8,247.6 90.4,270.6 114.6,294.9 79.7,317.0 71.8,313.8" fill="#a0f89c"/>
<polygon points="25.2,252.6 55.9,242.6 67.3,246.2 74.0,254.8 79.2,269.1 89.8,282.8 96.2,294.7 92.9,305.6 83.7,311.1 73.7,301.1 58.1,287.7 38.6,270.0" fill="#ffd020" filter="url(#b13)"/>
<polygon points="46.0,287.8 49.2,285.1 61.2,298.4 73.3,311.8 69.5,315.1" fill="#28b8f4" filter="url(#b5)"/>
<polygon points="62.2,306.6 65.1,304.1 69.6,308.6 74.2,313.1 70.6,316.3" fill="#1c14e8" filter="url(#b5)"/>
<path d="M41.2 250.2h0M64.2 246.6h0M48.2 248.6h0M42.2 251.0h0M37.7 250.6h0M46.0 248.3h0M41.1 249.3h0M47.9 249.2h0M47.9 248.5h0M49.1 251.9h0M46.4 250.8h0M47.8 248.6h0M45.2 250.5h0M59.0 248.6h0" stroke="#ff2222" stroke-width="1.1" stroke-linecap="round" fill="none"/>
</g></g>
<path d="M91.8 313.1h0M95.0 323.4h0M90.6 315.7h0M93.5 310.5h0M89.8 310.6h0M89.0 312.3h0M106.3 307.2h0M101.2 312.4h0M84.1 316.6h0M90.2 316.7h0M101.5 306.1h0M105.1 301.3h0M87.1 313.9h0M97.3 313.2h0M80.1 333.5h0M82.8 315.8h0M108.7 301.8h0M113.1 298.4h0M81.5 325.9h0M101.2 304.6h0M95.6 307.4h0M88.8 316.5h0M89.7 312.4h0M110.4 303.5h0M103.1 303.6h0M88.9 321.0h0M86.9 313.1h0M99.4 314.1h0M86.5 320.3h0M90.6 312.3h0M87.2 324.4h0M99.3 307.3h0M99.0 308.3h0M90.0 315.6h0M88.6 312.5h0M81.6 315.9h0M100.4 304.6h0M87.7 322.5h0M91.9 313.4h0M97.3 305.4h0M103.6 305.7h0M93.6 311.4h0M100.1 307.3h0M106.0 308.8h0M101.2 313.7h0M88.4 319.2h0M104.2 312.3h0M91.2 310.1h0M104.5 305.0h0M88.5 317.6h0M99.4 305.4h0M83.8 316.4h0M95.7 309.5h0M94.7 307.4h0M101.6 304.7h0M97.2 306.2h0M101.7 302.8h0M93.9 313.2h0M89.5 317.9h0M98.9 318.0h0M88.1 316.7h0M90.5 319.4h0M89.4 313.7h0M84.1 315.9h0M89.5 317.6h0M97.4 308.3h0M102.8 302.2h0M103.5 303.1h0M96.9 306.6h0M95.4 308.3h0M82.3 318.3h0M87.8 313.1h0M96.9 306.8h0M105.5 304.9h0M104.4 304.1h0M101.4 309.7h0M81.9 317.1h0M96.9 307.8h0M100.6 315.3h0M103.7 308.2h0M82.5 321.0h0M101.0 305.8h0M99.8 306.6h0M96.9 311.0h0M104.1 303.5h0M95.6 308.7h0M91.0 313.2h0M82.6 328.5h0M98.8 306.8h0M89.0 310.7h0M89.2 311.6h0M103.3 309.8h0M96.1 312.2h0M87.4 312.8h0M98.5 312.3h0M103.3 303.9h0M94.4 308.7h0M88.2 316.6h0M111.0 296.1h0M109.3 301.4h0M95.3 310.6h0M105.1 300.8h0M87.6 316.6h0M80.8 333.5h0M89.8 312.3h0M87.7 312.4h0M111.7 305.0h0M107.6 299.2h0M83.9 313.9h0M100.8 304.6h0M106.6 308.3h0M90.6 310.5h0M102.1 304.7h0M89.4 327.1h0M106.3 308.3h0M111.3 298.0h0M109.1 310.3h0M98.7 310.0h0M85.4 318.3h0M97.2 314.1h0M110.9 297.9h0M93.5 311.5h0M110.4 307.6h0M96.9 309.2h0M103.4 304.2h0M94.0 312.1h0M110.0 303.1h0M99.4 305.4h0M110.7 297.9h0M91.9 313.0h0M95.7 322.7h0M99.9 305.5h0M86.4 313.8h0M93.8 313.4h0M96.5 310.7h0M84.2 328.9h0M81.5 318.5h0M108.1 313.9h0M107.2 300.4h0M112.0 303.7h0M91.9 309.1h0M82.8 319.9h0M113.6 294.4h0M101.4 305.4h0M97.4 308.2h0M86.5 313.2h0M83.1 314.8h0M85.9 316.4h0M112.2 297.0h0M89.5 312.4h0M103.4 309.3h0M106.7 304.3h0M82.1 320.7h0M85.1 314.7h0M97.4 306.0h0M92.6 309.7h0M96.4 306.6h0M112.3 298.8h0M105.2 302.2h0M104.4 310.3h0M93.6 308.8h0M97.4 308.2h0M80.7 319.9h0M111.0 298.3h0M103.7 306.3h0M111.8 299.5h0M110.4 301.1h0M108.9 300.3h0M110.5 297.9h0M82.6 323.7h0M85.8 318.1h0M89.3 322.5h0M92.3 313.0h0M106.2 305.1h0M85.1 324.0h0M108.9 299.5h0M92.3 310.6h0M90.0 309.6h0M96.7 306.0h0M108.3 302.1h0M85.7 314.7h0M84.4 323.8h0M108.9 307.0h0M96.1 308.9h0M93.8 309.0h0M100.7 310.0h0M107.2 299.6h0M109.8 301.1h0M113.5 298.9h0M96.9 308.3h0M112.9 299.7h0M107.7 302.0h0M100.6 317.0h0M106.1 300.0h0M95.3 310.1h0M96.3 307.2h0M104.6 303.1h0M95.2 319.4h0M90.6 313.0h0M80.2 321.9h0M95.1 308.3h0M96.4 312.9h0M110.0 298.4h0M107.7 301.0h0M102.2 304.8h0M85.8 315.2h0M110.8 301.6h0M89.4 314.5h0M83.4 315.1h0M102.7 308.3h0M90.8 310.3h0M110.9 304.7h0M92.4 313.0h0M82.3 318.2h0M86.4 321.1h0M111.0 303.1h0M106.7 304.8h0M93.5 311.6h0M87.6 314.7h0M110.1 301.5h0M100.1 307.5h0M106.4 300.5h0M95.1 306.8h0M98.2 314.3h0M89.5 312.4h0M83.7 319.6h0M113.6 296.9h0M107.4 299.3h0M96.4 314.3h0M87.8 319.5h0M87.5 315.9h0M104.9 301.7h0M106.0 303.5h0M90.9 309.2h0M104.9 300.2h0M101.7 304.4h0M99.3 308.3h0M84.2 316.9h0M83.4 316.9h0M96.1 311.6h0M88.1 312.8h0M86.8 312.6h0M90.6 312.6h0M91.5 324.0h0M109.4 300.7h0M99.2 307.7h0M88.6 313.8h0M81.6 316.9h0M85.1 318.7h0M84.2 313.6h0M107.9 298.0h0M113.2 303.5h0M111.3 303.3h0M89.0 311.6h0M85.4 327.7h0M88.3 315.5h0M96.5 313.6h0M82.3 322.4h0M90.5 309.5h0M83.3 323.7h0M83.5 319.1h0M112.3 297.7h0M92.7 310.3h0M97.4 307.0h0M96.0 309.4h0" stroke="#ff2222" stroke-width="0.72" stroke-linecap="round" fill="none"/>
<path d="M93.9 324.2h0M95.8 307.6h0M84.2 316.7h0M111.4 307.4h0M84.2 314.9h0M105.7 302.2h0M99.4 305.4h0M111.1 297.7h0M105.4 304.0h0M81.7 315.9h0M90.3 310.0h0M108.3 299.6h0M103.9 300.9h0M108.7 299.1h0M110.1 299.0h0M85.5 316.2h0M98.9 303.8h0M87.7 318.5h0M108.7 298.3h0M98.4 311.2h0M111.4 310.0h0M95.9 309.4h0M83.9 322.7h0M83.4 315.5h0M92.7 317.2h0M91.8 311.0h0M91.6 312.4h0M112.0 310.2h0M106.8 299.9h0M98.4 305.4h0M98.8 314.9h0M97.2 307.3h0M85.5 316.8h0M109.6 298.6h0M90.5 318.2h0M85.0 317.2h0M101.5 304.6h0M99.8 305.2h0M83.3 315.4h0M82.3 319.8h0M104.6 302.6h0M86.7 315.0h0M97.0 310.8h0M97.0 305.2h0M87.4 313.0h0M89.4 311.4h0M96.0 314.5h0M99.8 308.7h0M111.1 296.7h0M104.3 302.1h0M96.4 307.9h0M87.5 313.8h0M90.9 312.6h0M87.0 322.4h0M99.7 303.9h0M97.9 306.6h0M97.0 311.4h0M103.6 313.5h0M87.9 325.0h0M88.7 316.9h0M83.9 321.2h0M105.2 303.4h0M86.3 313.5h0M84.9 314.3h0M108.2 302.5h0M89.4 313.4h0M108.6 302.1h0M109.3 315.0h0M97.5 319.1h0M88.4 312.1h0M90.0 310.9h0" stroke="#f0f080" stroke-width="0.72" stroke-linecap="round" fill="none"/>
<path d="M96.8 306.0h0M96.1 321.7h0M112.2 297.8h0M97.3 309.2h0M92.2 312.3h0M94.0 313.2h0M108.1 309.4h0M85.8 312.6h0M98.8 310.8h0M91.7 313.5h0M84.7 315.9h0M112.2 296.3h0M88.6 312.6h0M101.2 305.9h0M85.4 325.2h0M98.9 312.5h0M85.1 315.3h0M103.2 306.0h0M83.3 318.9h0M89.8 321.0h0M103.0 314.2h0M86.7 319.7h0M82.1 315.7h0M95.8 307.4h0M104.9 305.6h0M96.3 308.9h0M97.4 315.0h0M102.2 311.4h0M103.5 302.2h0M103.7 306.0h0M87.3 318.6h0M114.4 294.6h0M93.7 310.4h0M92.9 309.9h0M88.0 312.2h0M86.5 319.0h0M81.8 320.8h0M103.6 312.7h0M102.0 308.4h0M115.3 293.8h0M103.9 303.8h0M99.3 317.3h0M82.6 318.5h0M108.9 298.8h0M94.0 314.9h0M97.9 312.1h0M106.1 306.3h0M108.1 301.9h0M95.2 316.6h0M98.6 313.2h0M109.5 299.3h0M101.6 313.1h0M109.5 303.6h0M101.2 303.6h0M111.7 301.8h0M113.6 301.5h0M109.8 302.3h0M82.9 315.4h0M100.9 309.1h0M107.2 304.1h0M83.2 318.8h0M97.3 308.1h0M86.9 313.9h0M85.8 316.0h0M104.9 309.8h0M103.7 308.5h0M110.5 298.7h0M100.7 306.1h0M94.2 310.7h0M94.0 308.4h0M87.0 317.1h0M114.5 295.8h0" stroke="#ffd020" stroke-width="0.72" stroke-linecap="round" fill="none"/>
<path d="M81.2 333.2h0M94.9 310.3h0M93.6 310.0h0M94.0 310.0h0M103.6 309.5h0M102.6 303.8h0M86.1 314.6h0M91.0 314.6h0M84.6 319.5h0M103.8 307.7h0M84.7 313.9h0M95.6 307.9h0M81.1 327.6h0M84.8 318.2h0M98.6 308.2h0M83.0 318.5h0M86.3 328.7h0M99.1 308.4h0M86.3 311.6h0M102.9 311.3h0M102.5 314.2h0M103.1 302.7h0M107.5 302.4h0M82.0 319.3h0M81.7 320.4h0M107.4 305.3h0M98.3 310.2h0M85.2 322.9h0M113.0 306.1h0M88.9 322.4h0M110.7 297.7h0M79.8 324.6h0M82.3 319.3h0M110.7 297.9h0M82.5 332.0h0M86.2 317.1h0" stroke="#a0f89c" stroke-width="0.72" stroke-linecap="round" fill="none"/>
<path d="M92.2 311.0h0M90.7 322.4h0M98.0 306.7h0M78.9 325.1h0M105.5 304.9h0M87.5 324.8h0M96.9 308.6h0M86.2 313.5h0M106.3 300.2h0M88.6 312.4h0M101.5 308.2h0M94.9 313.0h0M108.7 310.8h0M85.4 317.5h0M80.9 323.3h0M83.1 326.1h0M107.6 302.2h0M112.1 301.0h0M94.3 315.4h0M109.8 301.0h0M92.0 313.0h0M81.4 315.2h0M84.2 325.6h0M88.4 321.9h0M103.1 301.3h0M101.7 309.0h0M111.5 300.1h0M107.2 301.6h0M102.3 303.9h0M101.9 304.6h0M97.2 309.9h0M99.7 308.7h0M85.7 312.7h0M106.9 304.9h0M102.1 306.2h0" stroke="#c8f8b0" stroke-width="0.72" stroke-linecap="round" fill="none"/>
<text x="85.8" y="249.0" font-size="6.7" text-anchor="middle">i. R=1.9</text>
<text x="5.5" y="285.5" font-size="5.62">Velocity (mm/s)</text>
<path d="M7.9 290.8l1.65 1.65l-1.65 1.65l-1.65 -1.65z" fill="#0000ff"/>
<text x="12.0" y="294.2" font-size="5">0~50</text>
<path d="M7.9 299.4l1.65 1.65l-1.65 1.65l-1.65 -1.65z" fill="#00c4ff"/>
<text x="12.0" y="302.8" font-size="5">50~150</text>
<path d="M7.9 308.0l1.65 1.65l-1.65 1.65l-1.65 -1.65z" fill="#78ff3c"/>
<text x="12.0" y="311.4" font-size="5">150~500</text>
<path d="M7.9 316.6l1.65 1.65l-1.65 1.65l-1.65 -1.65z" fill="#ffb000"/>
<text x="12.0" y="320.0" font-size="5">500~1000</text>
<path d="M7.9 325.2l1.65 1.65l-1.65 1.65l-1.65 -1.65z" fill="#ff0000"/>
<text x="12.0" y="328.6" font-size="5">1000~</text>
</g>
<g id="pj">
<g filter="url(#be)"><g clip-path="url(#cj)">
<polygon points="161.4,251.7 198.1,243.1 202.2,244.6 206.3,247.6 232.2,269.9 255.6,293.6 222.2,316.4 213.7,312.5" fill="#a0f89c"/>
<polygon points="167.6,252.6 198.3,242.6 210.0,246.2 218.2,256.3 227.9,271.8 239.3,285.2 243.3,296.5 233.8,307.5 224.6,310.2 212.8,298.3 197.6,285.9 178.9,268.2" fill="#ffd020" filter="url(#b13)"/>
<polygon points="185.6,283.9 188.8,281.1 202.0,295.8 215.2,310.5 211.4,313.8" fill="#28b8f4" filter="url(#b5)"/>
<polygon points="204.2,305.4 207.1,302.9 211.6,307.4 216.1,311.8 212.5,315.0" fill="#1c14e8" filter="url(#b5)"/>
<path d="M191.2 247.5h0M189.3 248.8h0M194.7 249.2h0M187.8 248.9h0M192.4 250.4h0M190.8 250.0h0M188.1 249.3h0M193.6 248.6h0M189.4 249.8h0M184.6 250.2h0M192.4 246.3h0M180.3 251.7h0M181.8 251.7h0M194.0 249.4h0" stroke="#ff2222" stroke-width="1.1" stroke-linecap="round" fill="none"/>
</g></g>
<path d="M255.0 297.3h0M244.4 301.6h0M239.7 305.9h0M229.1 312.6h0M253.5 300.1h0M251.0 310.4h0M254.5 293.3h0M236.2 308.2h0M252.9 296.5h0M246.9 298.4h0M224.1 314.5h0M225.4 320.8h0M242.8 309.7h0M252.2 294.9h0M244.1 317.2h0M245.2 303.9h0M231.3 312.9h0M252.3 299.2h0M245.0 302.3h0M247.8 299.2h0M228.1 316.2h0M236.2 308.1h0M234.5 310.0h0M230.3 317.9h0M226.7 316.2h0M240.0 304.0h0M225.8 320.7h0M236.3 313.9h0M252.5 297.0h0M250.7 297.7h0M231.1 310.0h0M242.2 303.3h0M255.7 294.9h0M234.7 322.7h0M231.0 311.0h0M226.7 314.5h0M239.7 305.0h0M250.5 305.2h0M233.0 314.4h0M228.7 314.2h0M242.8 303.1h0M227.0 321.9h0M250.3 296.4h0M244.5 304.0h0M252.0 296.7h0M237.7 308.2h0M220.7 333.1h0M255.8 293.4h0M232.7 324.9h0M236.9 306.6h0M243.5 307.9h0M235.5 308.0h0M233.7 315.5h0M223.9 318.3h0M225.8 321.4h0M227.9 324.9h0M228.4 314.2h0M234.5 312.5h0M226.6 319.3h0M238.6 313.7h0M230.7 324.9h0M230.0 310.6h0M249.8 298.2h0M238.9 309.4h0M232.6 311.3h0" stroke="#ffd020" stroke-width="0.72" stroke-linecap="round" fill="none"/>
<path d="M226.2 321.8h0M243.4 303.8h0M232.0 309.1h0M233.4 317.5h0M222.8 327.2h0M222.5 320.8h0M249.5 299.5h0M227.9 319.3h0M234.0 310.4h0M236.4 309.7h0M253.8 293.9h0M224.6 313.5h0M225.5 317.2h0M225.5 319.3h0M236.0 311.2h0M251.2 296.5h0M238.4 309.8h0M234.5 316.8h0M228.4 312.3h0M253.8 295.4h0M238.2 309.6h0M229.7 312.5h0M236.2 310.0h0M222.1 320.3h0M249.7 301.4h0M222.2 323.6h0M255.2 294.5h0M222.3 328.5h0M226.2 315.9h0M249.3 301.2h0M234.7 308.9h0M239.2 303.5h0M246.6 299.1h0M234.8 316.3h0M248.6 302.7h0M225.2 319.6h0M249.5 296.6h0M240.8 317.8h0M254.2 294.1h0M225.9 324.7h0M241.2 307.0h0M227.8 311.5h0M229.1 313.2h0M232.5 312.4h0M237.2 307.7h0M239.2 308.4h0M251.8 295.2h0M231.1 316.6h0M236.6 312.3h0M237.7 306.0h0M250.8 307.5h0M242.0 302.9h0M251.6 295.9h0M232.7 310.0h0M225.9 314.1h0M251.0 299.9h0M228.5 317.9h0M247.3 302.3h0M233.6 319.7h0M250.5 297.7h0M223.8 315.7h0M241.3 307.0h0M246.6 300.6h0M247.6 302.2h0M251.8 297.6h0M252.6 301.4h0M232.7 311.9h0M248.0 301.7h0M231.3 311.3h0M225.4 313.5h0M246.5 301.7h0M225.3 325.8h0M248.0 302.9h0M251.8 298.9h0M234.8 309.9h0M252.2 298.9h0M237.6 310.1h0M246.6 300.1h0M226.6 324.2h0M227.1 320.0h0M229.5 310.4h0M254.6 298.2h0M247.4 299.4h0M231.2 317.8h0M226.5 329.5h0M227.3 328.7h0M233.1 308.5h0M247.8 299.2h0M246.4 300.7h0M248.6 305.0h0M241.7 305.0h0M250.4 297.7h0M238.7 305.0h0M239.2 306.3h0M249.2 299.6h0M244.8 306.8h0M235.6 315.1h0M229.3 320.3h0M230.7 316.6h0M247.8 308.9h0M250.9 297.4h0M230.1 311.0h0M230.4 321.5h0M224.5 319.1h0M225.6 322.5h0M225.2 315.5h0M237.2 305.6h0M226.5 317.1h0M253.8 294.3h0M241.9 307.6h0M226.7 311.7h0M229.3 312.1h0M232.9 313.6h0M238.8 315.0h0M226.4 313.7h0M252.4 297.3h0M248.4 298.1h0M250.1 297.7h0M242.6 309.4h0M222.5 324.0h0M241.6 304.2h0M240.4 311.8h0M243.6 304.2h0M228.0 314.1h0M233.1 310.8h0M234.5 321.6h0M247.9 301.5h0M230.4 316.4h0M233.8 313.7h0M228.9 312.4h0M250.4 304.3h0M233.5 314.9h0M232.9 310.4h0M238.5 310.3h0M244.9 302.4h0M241.7 302.2h0M233.6 311.7h0M238.3 314.4h0M248.0 298.0h0M237.3 314.6h0M243.1 302.7h0M227.6 319.8h0M229.1 319.7h0M244.2 309.4h0M236.7 307.3h0M253.3 300.3h0M235.3 310.8h0M244.5 306.6h0M231.0 313.3h0M239.9 307.6h0M244.8 308.3h0M224.0 326.7h0M248.7 312.7h0M226.7 313.5h0M234.8 309.5h0M251.6 297.3h0M246.1 307.1h0M244.8 300.9h0M233.9 310.0h0M244.4 304.6h0M249.4 300.6h0M248.1 304.2h0M228.4 327.8h0M245.3 301.1h0M240.1 308.2h0M240.1 304.7h0M227.7 312.8h0M235.8 320.8h0M240.0 307.5h0M241.7 313.7h0M232.6 310.4h0M234.3 320.8h0M239.8 316.3h0M246.8 315.0h0M223.7 317.0h0M244.8 303.3h0M228.2 318.2h0M223.5 313.7h0M233.6 307.7h0M244.5 306.6h0M251.9 312.9h0M241.6 308.9h0M251.5 296.0h0M252.6 299.0h0M236.2 313.1h0M242.9 310.8h0M244.6 300.9h0M242.4 301.9h0M236.8 305.5h0M248.6 299.1h0M227.2 313.1h0M225.6 317.4h0M235.5 307.3h0M248.4 303.9h0M229.3 313.8h0M234.9 312.8h0M226.1 313.5h0M228.9 318.3h0M251.9 311.1h0M241.9 304.9h0M235.0 316.4h0M240.4 303.7h0M244.8 305.2h0M241.7 305.1h0M240.5 306.5h0M222.0 320.6h0M222.5 325.5h0M247.5 314.5h0M227.7 313.7h0M224.0 318.2h0M229.0 317.4h0M237.9 315.6h0M241.9 306.2h0M246.7 307.7h0M247.1 297.9h0M238.9 304.4h0M229.5 328.2h0M251.1 297.0h0M234.7 309.8h0M226.4 316.8h0M231.2 324.0h0M224.6 320.1h0M244.2 309.7h0M233.1 309.7h0M229.2 310.9h0M247.6 300.0h0M226.6 314.1h0M230.7 318.0h0M234.4 307.3h0M252.6 301.9h0M252.7 306.9h0M232.7 315.4h0M224.6 317.2h0M249.5 302.2h0M230.6 322.5h0M229.4 315.0h0M241.0 305.7h0M223.4 314.3h0M228.9 314.5h0M231.3 310.8h0M248.0 300.8h0M254.0 298.0h0M232.5 309.2h0M248.0 302.7h0M229.4 319.3h0M236.9 322.8h0M238.8 311.4h0M249.6 297.9h0M255.3 293.9h0M232.5 315.1h0M238.3 311.3h0M230.2 323.7h0M248.1 300.1h0M241.4 308.0h0M242.8 304.0h0M234.7 307.1h0M225.3 317.1h0M223.0 330.9h0M237.5 307.0h0M242.6 308.5h0M230.0 319.0h0M249.3 308.3h0M226.2 318.1h0M232.7 315.2h0M236.0 307.7h0M254.5 297.8h0M240.9 308.9h0M226.9 318.7h0M242.2 311.8h0M251.9 298.5h0M224.6 316.5h0M239.3 306.7h0M236.6 319.4h0M231.5 314.2h0M245.0 302.9h0M249.6 303.1h0M228.9 328.3h0" stroke="#ff2222" stroke-width="0.72" stroke-linecap="round" fill="none"/>
<path d="M244.3 309.3h0M224.0 321.2h0M226.6 313.5h0M246.4 305.1h0M234.6 310.9h0M236.6 320.5h0M249.2 314.6h0M240.2 313.6h0M227.4 317.5h0M247.3 299.2h0M254.4 300.0h0M228.3 325.1h0M246.4 301.3h0M247.1 298.7h0M241.4 303.5h0M233.4 311.2h0M253.5 296.2h0M230.2 311.6h0M234.0 309.3h0M248.8 302.1h0M234.7 313.2h0M242.0 309.4h0M237.8 312.1h0M225.4 330.8h0M239.6 314.8h0M229.1 316.7h0M236.7 310.8h0M241.3 306.0h0M227.4 315.3h0M238.0 308.8h0M253.6 297.8h0M249.0 300.5h0M235.3 312.9h0M229.2 316.0h0" stroke="#a0f89c" stroke-width="0.72" stroke-linecap="round" fill="none"/>
<path d="M246.8 302.6h0M233.5 311.1h0M248.9 298.4h0M246.9 302.7h0M239.7 306.6h0M234.7 314.3h0M237.1 310.0h0M226.9 314.0h0M249.3 298.5h0M246.0 305.8h0M249.7 298.1h0M251.7 298.1h0M247.4 299.6h0M231.4 324.1h0M254.6 295.8h0M239.1 307.4h0M225.0 325.3h0M236.5 312.5h0M229.7 315.7h0M253.9 298.0h0M230.4 313.6h0M239.2 307.0h0M243.4 311.3h0M240.5 304.6h0M241.9 310.2h0M250.1 299.8h0M233.6 314.9h0M231.9 321.0h0M239.8 304.7h0M246.5 299.8h0M234.2 314.7h0M245.8 300.3h0M248.0 313.7h0M222.8 318.7h0M253.8 306.7h0" stroke="#c8f8b0" stroke-width="0.72" stroke-linecap="round" fill="none"/>
<path d="M249.9 302.9h0M240.6 306.0h0M231.5 315.7h0M244.8 301.6h0M234.7 312.6h0M231.8 315.9h0M254.6 294.9h0M245.0 301.8h0M243.7 305.5h0M232.2 313.3h0M240.1 307.7h0M228.1 313.2h0M223.6 322.0h0M240.7 307.5h0M232.1 310.6h0M249.3 299.6h0M254.2 295.8h0M232.0 313.5h0M250.7 303.3h0M243.0 309.6h0M249.0 299.3h0M235.9 319.9h0M238.1 311.3h0M249.2 299.2h0M250.1 308.2h0M236.0 309.6h0M237.7 308.6h0M242.5 309.7h0M245.3 301.6h0M237.6 307.0h0M237.8 308.8h0M241.6 304.1h0M240.6 303.2h0M237.4 308.8h0M226.2 315.6h0M227.1 321.1h0M225.5 326.0h0M238.0 320.1h0M249.1 302.1h0M245.4 301.6h0M244.9 299.5h0M234.4 308.9h0M228.6 317.0h0M248.9 299.8h0M240.5 305.1h0M238.6 305.6h0M236.5 315.4h0M224.6 320.6h0M249.3 308.3h0M249.3 307.9h0M237.0 319.5h0M246.2 301.1h0M228.3 329.2h0M235.7 316.1h0M242.2 302.8h0M235.3 308.5h0M242.6 304.4h0M238.9 309.2h0M244.0 303.9h0M233.8 322.2h0M231.4 311.9h0M250.3 297.5h0M238.9 307.4h0M245.9 307.9h0M252.4 297.4h0M227.6 314.2h0M229.0 316.2h0M243.7 303.4h0M240.4 304.4h0M235.6 309.5h0M239.6 307.7h0M241.0 313.2h0M240.6 304.7h0M223.9 319.5h0M254.6 294.3h0M235.4 314.6h0M228.4 321.7h0M253.4 296.3h0M242.7 306.9h0M230.7 315.2h0M234.9 307.8h0M228.4 314.9h0M226.6 317.8h0M239.4 305.4h0" stroke="#f0f080" stroke-width="0.72" stroke-linecap="round" fill="none"/>
<text x="224.6" y="249.0" font-size="6.7" text-anchor="middle">j. R=2</text>
<text x="147.5" y="285.5" font-size="5.62">Velocity (mm/s)</text>
<path d="M149.7 289.8l1.65 1.65l-1.65 1.65l-1.65 -1.65z" fill="#0000ff"/>
<text x="154.3" y="293.2" font-size="5">0~50</text>
<path d="M149.7 298.4l1.65 1.65l-1.65 1.65l-1.65 -1.65z" fill="#00c4ff"/>
<text x="154.3" y="301.8" font-size="5">50~150</text>
<path d="M149.7 307.0l1.65 1.65l-1.65 1.65l-1.65 -1.65z" fill="#78ff3c"/>
<text x="154.3" y="310.4" font-size="5">150~500</text>
<path d="M149.7 315.6l1.65 1.65l-1.65 1.65l-1.65 -1.65z" fill="#ffb000"/>
<text x="154.3" y="319.0" font-size="5">500~1000</text>
<path d="M149.7 324.2l1.65 1.65l-1.65 1.65l-1.65 -1.65z" fill="#ff0000"/>
<text x="154.3" y="327.6" font-size="5">1000~</text>
</g>
<g id="pk">
<g filter="url(#be)"><g clip-path="url(#ck)">
<polygon points="303.1,252.3 337.3,243.1 341.3,244.6 345.4,247.6 373.1,269.2 398.3,292.3 364.7,317.0 356.9,313.8" fill="#ffd020"/>
<polygon points="301.4,254.6 304.8,251.6 331.6,281.7 358.3,311.8 354.5,315.1" fill="#a0f89c" filter="url(#b6)"/>
<polygon points="342.9,301.8 346.0,299.0 352.1,305.5 358.2,311.9 354.5,315.1" fill="#28b8f4" filter="url(#b5)"/>
<polygon points="322.0,253.5 340.0,248.0 347.0,254.0 346.0,263.0 338.0,267.5 329.0,263.0" fill="#ff2222" filter="url(#b20)" opacity="0.35"/>
<polygon points="366.3,318.7 358.0,307.4 375.5,295.8 393.0,284.3 400.1,293.9" fill="#ff2222" filter="url(#b20)" opacity="0.45"/>
<polygon points="366.3,318.7 361.3,311.9 378.5,299.9 395.7,287.9 400.1,293.9" fill="#ff2222" filter="url(#b12)" opacity="0.60"/>
<path d="M327.7 266.9h0M332.8 264.0h0M335.9 261.6h0M327.5 263.1h0M326.5 255.0h0M338.4 258.1h0M329.5 263.8h0M330.6 261.4h0M340.3 251.9h0M325.2 259.0h0M319.8 260.7h0M320.7 258.9h0M327.8 257.4h0M333.0 256.4h0M337.1 256.0h0M340.7 251.9h0M332.6 252.5h0M331.6 251.8h0M329.9 262.0h0M340.4 255.7h0M329.7 257.9h0M339.1 258.7h0M341.8 256.4h0M337.6 251.8h0M333.0 255.4h0M335.0 260.9h0M332.6 257.8h0M333.7 255.6h0M337.6 257.8h0M334.8 254.6h0M320.6 257.7h0M332.9 252.9h0M330.2 255.6h0M335.4 251.0h0M332.0 265.1h0M344.3 251.0h0M331.3 264.6h0M323.1 261.2h0M335.5 252.5h0M327.6 253.6h0M334.0 260.7h0M346.5 249.2h0M337.5 254.0h0M342.1 247.2h0M334.6 258.1h0M326.1 260.8h0M329.2 253.2h0M345.5 248.6h0M334.6 257.8h0M329.2 255.7h0M354.3 253.4h0M340.7 257.0h0M335.9 255.2h0M335.9 254.1h0M343.7 247.9h0M332.5 259.0h0M335.4 257.2h0M330.8 255.8h0M331.3 261.7h0M336.9 249.2h0M335.5 257.9h0M325.4 264.5h0M346.1 249.4h0M329.7 262.1h0M330.6 256.0h0M331.4 254.7h0M337.1 259.9h0M332.9 256.0h0M335.2 249.4h0M330.5 254.8h0M339.6 255.7h0M339.0 259.7h0M336.0 252.6h0M342.1 254.7h0M330.3 251.7h0M335.4 252.1h0M323.6 263.9h0M330.0 257.7h0M333.2 251.1h0M326.7 255.1h0M328.7 261.2h0M330.6 259.8h0M331.2 250.9h0M332.2 262.7h0M331.9 257.4h0M335.0 254.4h0M334.8 258.8h0M338.8 252.3h0M340.6 252.9h0M325.1 258.7h0M330.7 257.0h0M336.8 259.4h0M333.6 258.6h0M324.9 267.6h0M337.4 260.7h0M341.8 257.6h0M327.7 250.5h0M330.8 254.6h0M334.2 252.2h0M338.8 255.1h0M336.0 262.7h0M346.0 250.7h0M328.1 259.1h0M330.5 266.0h0M326.3 263.0h0M328.7 258.2h0M332.9 251.8h0M335.9 256.6h0M332.9 254.4h0M322.9 263.8h0M332.6 254.1h0M330.3 260.7h0M332.3 260.2h0M324.6 260.7h0M332.2 255.2h0M340.2 250.7h0M341.5 253.6h0M334.0 257.9h0M329.6 259.8h0M333.8 256.7h0M334.4 255.9h0M328.0 260.0h0M336.3 254.2h0M336.7 252.3h0M334.9 253.9h0M330.2 253.7h0M339.1 256.8h0M346.2 249.1h0M332.4 255.1h0M338.9 256.1h0M328.7 260.2h0M328.1 252.1h0M332.3 256.2h0M339.0 255.7h0M328.3 254.2h0M328.0 250.6h0M341.0 250.2h0M334.0 256.6h0M332.8 259.2h0M337.5 256.4h0M335.5 262.0h0M325.9 254.6h0M328.9 257.7h0M329.7 263.9h0M323.4 266.8h0M329.9 263.7h0M332.6 253.6h0M327.2 254.9h0M333.9 257.5h0M322.1 266.5h0M337.2 257.9h0M339.0 253.6h0M337.0 257.7h0M325.0 253.6h0M326.7 260.1h0M341.0 261.7h0M339.8 254.7h0M326.4 261.1h0M338.6 254.1h0M330.5 255.7h0M335.7 256.9h0M335.6 254.8h0M324.5 266.4h0M341.8 260.7h0M331.7 256.1h0M343.6 250.6h0M345.1 256.2h0M323.1 255.7h0M322.0 255.4h0M333.2 259.3h0M331.8 240.5h0M341.3 252.3h0M332.2 266.2h0M347.7 255.4h0M346.4 253.3h0M330.0 250.2h0M337.9 254.3h0M328.9 256.1h0M328.7 263.2h0M338.2 249.8h0M337.6 255.9h0M333.9 264.7h0M330.1 253.0h0M332.2 258.4h0M334.4 260.7h0M326.5 264.1h0M328.1 259.8h0M333.3 256.1h0M341.0 249.2h0M340.9 253.1h0M330.9 249.1h0M335.2 255.2h0M336.9 252.4h0M341.6 255.5h0M347.6 254.2h0M331.4 253.1h0M339.6 253.2h0M335.1 252.5h0M345.9 253.6h0M331.2 253.6h0M334.0 256.1h0M334.3 257.0h0M341.7 250.2h0M331.7 259.4h0M340.9 255.0h0M339.6 256.1h0M332.4 250.7h0M335.7 253.0h0M328.6 246.8h0M346.5 250.6h0M335.5 251.9h0M333.3 256.4h0M329.0 261.4h0M331.9 258.1h0M326.8 259.1h0M331.9 259.4h0M335.6 252.2h0M342.1 259.5h0M340.1 257.3h0M326.5 264.7h0M334.3 252.9h0M331.9 254.9h0M331.5 247.5h0M340.3 255.4h0M325.4 253.6h0M341.8 256.9h0M334.0 254.6h0M336.8 257.6h0M327.9 260.2h0M338.1 259.2h0" stroke="#ff2222" stroke-width="1.1" stroke-linecap="round" fill="none"/>
<path d="M334.0 258.6h0M345.4 258.8h0M339.0 261.4h0M353.9 264.1h0M334.6 263.9h0M348.5 262.7h0M351.5 276.5h0M343.1 268.0h0M363.1 271.7h0M340.2 261.2h0M360.3 273.8h0M344.5 260.5h0M340.0 274.7h0M330.3 269.0h0M341.6 263.0h0M334.8 259.7h0M347.4 268.6h0M335.1 268.7h0M325.5 255.4h0M358.7 271.8h0M346.3 264.4h0M337.8 274.0h0M349.7 273.7h0M342.8 271.1h0M354.3 268.2h0M354.2 276.0h0M344.0 264.0h0M344.5 264.5h0M359.9 272.0h0M345.7 265.9h0M342.6 263.8h0M363.1 279.0h0M350.7 281.2h0M348.2 267.6h0M354.4 261.4h0M343.7 261.3h0M338.3 267.2h0M341.7 268.5h0M342.3 264.2h0M346.6 274.3h0M336.8 256.7h0M331.0 264.0h0M362.6 263.8h0M335.0 254.0h0M343.5 272.6h0M334.5 256.6h0M349.8 267.6h0M350.6 266.5h0M343.2 265.5h0M348.4 271.4h0M345.2 264.0h0M351.9 272.7h0M340.4 266.6h0M354.2 266.8h0M334.7 252.5h0M350.8 268.4h0M337.4 271.8h0M336.1 265.0h0M331.6 257.8h0M321.4 262.4h0" stroke="#ff2222" stroke-width="1.1" stroke-linecap="round" fill="none"/>
<path d="M375.6 298.5h0M365.9 308.1h0M372.0 310.8h0M365.9 310.4h0M371.5 293.9h0M383.1 298.8h0M365.5 302.4h0M387.8 297.6h0M389.4 288.9h0M375.6 294.6h0M392.7 286.6h0M367.8 313.5h0M365.5 306.8h0M378.1 290.4h0M387.1 297.0h0M379.7 298.6h0M369.8 307.0h0M372.9 292.5h0M374.2 308.4h0M369.1 292.1h0M361.9 310.4h0M390.2 287.5h0M385.2 297.1h0M376.7 300.1h0M370.1 306.4h0M370.8 311.4h0M376.6 304.1h0M363.1 309.7h0M360.1 309.2h0M367.0 305.8h0M358.1 306.9h0M386.5 296.8h0M365.0 302.9h0M365.3 308.6h0M384.6 281.0h0M374.5 295.3h0M375.4 302.2h0M390.6 292.9h0M394.9 292.5h0M366.3 302.0h0M366.2 297.5h0M386.6 292.7h0M374.1 295.7h0M385.3 299.9h0M383.8 296.0h0M370.4 306.5h0M387.6 297.4h0M391.6 291.5h0M374.5 292.9h0M362.8 299.2h0M365.8 310.7h0M388.2 297.8h0M386.9 297.1h0M380.9 301.4h0M389.2 289.2h0M393.1 290.3h0M366.1 307.6h0M367.5 306.1h0M381.8 303.5h0M382.4 290.7h0M362.9 308.1h0M387.8 297.7h0M393.8 292.3h0M362.9 305.3h0M388.4 295.8h0M380.8 292.0h0M391.9 286.7h0M379.3 298.7h0M372.2 299.7h0M367.3 310.7h0M386.7 296.3h0M384.0 297.3h0M377.5 301.1h0M375.4 306.3h0M384.6 294.4h0M364.7 309.1h0M369.6 308.5h0M391.4 292.2h0M381.4 296.0h0M364.1 311.4h0M386.3 294.7h0M381.1 298.7h0M371.7 309.4h0M380.4 287.7h0M385.6 297.4h0M374.1 300.1h0M381.4 294.1h0M380.1 299.6h0M365.7 307.6h0M378.3 296.7h0M388.2 290.2h0M382.3 289.2h0M361.8 303.9h0M365.4 310.3h0M387.2 286.3h0M367.9 303.6h0M396.9 292.4h0M373.4 304.5h0M382.0 292.6h0M377.2 299.1h0M374.5 302.8h0M362.9 297.8h0M370.6 300.3h0M384.6 293.3h0M396.2 290.8h0M364.4 305.7h0M374.5 301.5h0M386.0 299.2h0M390.4 294.6h0M374.6 299.1h0M371.9 308.0h0M369.2 303.5h0M384.3 300.5h0M394.5 291.7h0M381.7 297.7h0M376.4 301.5h0M374.2 306.6h0M388.8 298.2h0M365.4 310.7h0M364.9 303.3h0M391.1 285.9h0M360.8 297.0h0M374.5 302.4h0M395.2 289.0h0M383.6 301.2h0M394.6 288.6h0M379.3 304.4h0M394.2 289.5h0M368.9 299.9h0M366.1 292.4h0M376.1 305.5h0M369.1 311.7h0M392.2 290.4h0M395.8 292.3h0M381.3 300.5h0M373.6 309.2h0M389.6 287.4h0M373.9 306.1h0M377.9 305.6h0M379.4 287.8h0M375.2 296.1h0M372.3 302.7h0M374.5 295.3h0M369.6 310.7h0M377.3 301.9h0M392.2 285.3h0M364.3 302.7h0M369.7 311.4h0M378.4 294.4h0M394.3 290.6h0M384.5 294.8h0M381.4 302.0h0M364.7 313.4h0M393.9 294.0h0M390.7 293.0h0M378.3 292.2h0M362.7 299.2h0M376.7 304.4h0M389.5 291.8h0M390.7 295.1h0M387.4 298.6h0M377.8 299.0h0M387.5 291.2h0M365.3 315.7h0M376.5 297.1h0M389.4 286.2h0M384.2 300.0h0M371.5 307.9h0M386.7 298.8h0M374.2 304.8h0M383.9 299.8h0M371.8 300.1h0M380.2 301.3h0M362.3 308.5h0M375.0 293.0h0M369.7 307.9h0M384.8 297.0h0M373.1 283.7h0M382.1 296.2h0M386.5 296.6h0M373.7 301.8h0M387.7 284.4h0M385.5 293.8h0M377.2 299.6h0M362.9 311.0h0M372.4 299.2h0M362.7 308.9h0M390.4 289.5h0M372.6 307.9h0M381.6 300.7h0M380.1 301.8h0M367.5 307.1h0M391.8 292.8h0M377.0 293.6h0M368.6 299.4h0M392.4 294.9h0M354.3 301.2h0M372.5 307.5h0M374.1 300.3h0M364.9 302.5h0M378.7 298.4h0M373.3 306.1h0M382.9 291.6h0M375.7 302.3h0M379.9 300.7h0M391.0 286.9h0M380.5 302.8h0M366.8 305.6h0M374.7 288.2h0M355.2 303.1h0M382.2 298.7h0M371.2 308.5h0M390.3 285.2h0M374.9 299.5h0M381.0 300.0h0M388.1 298.2h0M378.5 304.0h0M387.9 296.8h0M361.4 301.2h0M385.7 297.9h0M366.0 303.3h0M365.0 314.9h0M387.6 296.8h0M383.2 299.9h0M365.9 304.9h0M385.3 296.9h0M376.9 294.0h0M363.1 312.9h0M375.7 301.3h0M381.0 303.7h0M390.7 296.0h0M393.8 287.0h0M376.2 302.7h0M381.6 292.4h0M384.1 299.5h0M384.2 300.4h0M372.1 299.7h0M384.9 294.1h0M363.7 312.6h0M389.0 286.9h0M368.2 310.8h0M374.2 297.5h0M389.0 297.7h0M362.1 304.6h0M374.0 295.3h0M363.5 312.0h0M363.8 312.3h0M390.1 290.2h0M381.0 296.0h0M365.1 310.7h0M388.5 296.7h0M364.4 304.5h0M361.7 310.9h0M390.2 292.5h0M379.3 304.5h0M381.5 291.2h0M368.6 310.0h0M386.2 279.0h0M384.2 300.2h0M394.0 290.1h0M393.7 292.6h0M391.9 295.1h0M372.3 310.3h0M383.3 296.2h0M370.1 305.7h0M389.4 296.6h0M369.8 302.4h0M383.7 284.2h0M390.8 288.2h0M391.3 285.2h0M366.6 291.9h0M376.3 289.3h0M387.3 299.4h0M389.4 289.5h0M374.1 292.3h0M389.9 297.6h0M365.9 311.0h0M364.0 310.9h0M395.6 291.6h0M369.0 309.2h0M371.1 302.3h0M371.9 300.9h0M361.7 303.8h0M378.6 298.3h0M373.3 288.9h0M389.1 295.2h0M377.5 304.5h0M391.7 288.4h0M383.2 301.7h0M370.9 304.0h0M369.6 310.1h0M360.4 305.1h0M362.6 312.1h0M367.4 312.4h0M389.7 285.2h0M381.0 295.3h0M370.5 305.0h0M375.0 306.2h0M363.5 301.3h0M377.4 300.6h0M369.8 299.8h0M390.8 289.9h0M397.7 292.0h0M381.5 300.0h0M365.4 303.8h0M387.7 292.3h0M391.3 294.1h0M376.1 304.4h0M373.5 305.4h0M373.3 305.9h0M381.4 299.9h0M372.8 298.9h0M370.8 302.7h0M375.7 305.3h0M368.5 305.7h0M364.4 312.5h0M374.3 299.7h0M370.8 301.3h0M372.5 308.0h0M369.6 310.9h0M380.1 290.4h0M376.4 302.8h0M385.0 281.9h0M373.3 305.7h0M362.9 310.0h0M371.5 308.3h0M382.1 292.2h0M384.1 301.0h0M388.6 292.2h0M365.9 313.3h0" stroke="#ff2222" stroke-width="1.1" stroke-linecap="round" fill="none"/>
</g></g>
<path d="M368.3 315.6h0M380.1 308.3h0M385.0 307.6h0M375.3 316.5h0M386.3 302.7h0M387.4 300.7h0M380.2 305.9h0M370.1 314.3h0M380.8 308.0h0M378.8 309.1h0M385.9 303.4h0M383.0 306.7h0M381.1 303.9h0M384.2 303.8h0M368.5 316.3h0M379.9 309.9h0M390.6 300.9h0M374.9 315.4h0M396.3 299.3h0M393.4 296.2h0M379.5 308.9h0M391.7 305.4h0M373.2 316.5h0M381.1 308.0h0M389.7 298.5h0M394.7 303.7h0M388.1 300.5h0M370.2 312.2h0M377.3 309.9h0M385.9 304.0h0M373.6 325.2h0M379.9 314.5h0M383.4 308.2h0M369.5 315.2h0M386.3 301.3h0M365.0 323.0h0M368.8 312.9h0M372.0 313.9h0M396.7 297.4h0M373.9 312.5h0M389.4 306.3h0M380.7 305.5h0M366.7 316.2h0M387.1 300.9h0M387.2 303.7h0M376.1 314.9h0M381.4 305.7h0M391.1 298.6h0M373.0 322.3h0M383.9 312.4h0M366.9 315.5h0M374.2 313.4h0M378.4 312.8h0M368.5 315.9h0M381.7 306.9h0M389.2 305.6h0M396.7 294.1h0M392.7 300.1h0M390.1 304.3h0M370.6 321.2h0M372.0 314.7h0M365.0 327.5h0M394.4 299.2h0M372.5 313.4h0M395.3 300.0h0M380.1 313.7h0M379.7 310.9h0M385.9 314.4h0M363.8 327.7h0M385.5 305.9h0M388.0 309.8h0M384.2 304.0h0M382.3 305.1h0M375.1 311.9h0M382.8 305.1h0M376.7 316.6h0M368.9 318.1h0M373.8 313.6h0M372.6 313.0h0M398.1 293.5h0M394.0 299.0h0M382.3 303.6h0M385.1 304.8h0M365.0 318.5h0M377.7 313.0h0M368.9 314.6h0M388.1 306.5h0M397.1 293.6h0M371.5 315.3h0M372.1 313.0h0M393.8 294.2h0M376.9 315.7h0M397.3 297.9h0M373.5 312.8h0M371.1 313.9h0M382.8 305.6h0M394.8 297.6h0M390.6 296.8h0M386.5 301.7h0M374.4 311.2h0M396.7 294.3h0M379.4 308.4h0M382.9 305.5h0M393.0 301.3h0M388.3 301.8h0M379.1 308.3h0M368.5 320.4h0M371.8 317.2h0M375.4 310.4h0M372.0 312.3h0M375.3 311.4h0M366.8 319.9h0M374.2 310.7h0M366.2 316.7h0M389.8 308.1h0M371.1 312.0h0M386.2 301.1h0M373.8 313.0h0M380.2 306.3h0M370.4 320.1h0M396.0 299.6h0M395.9 296.7h0M369.4 313.4h0M378.8 306.8h0M372.8 311.4h0M384.9 304.0h0M372.3 321.8h0M393.3 301.4h0M374.8 313.0h0M370.1 318.0h0" stroke="#f0f080" stroke-width="0.65" stroke-linecap="round" fill="none"/>
<path d="M389.5 298.8h0M398.2 295.4h0M374.3 318.0h0M382.8 304.0h0M374.5 313.1h0M375.6 314.4h0M371.6 316.0h0M374.8 309.1h0M393.1 296.0h0M367.6 314.0h0M389.3 299.0h0M391.4 313.4h0M367.8 315.6h0M379.3 315.0h0M376.9 310.4h0M378.7 322.5h0M395.2 298.0h0M379.9 307.1h0M386.2 301.9h0M391.7 304.2h0M384.6 307.5h0M389.2 298.5h0M371.0 314.7h0M370.1 315.0h0M368.5 315.8h0M391.1 308.9h0M368.0 323.3h0M369.9 313.6h0M396.2 299.5h0M392.8 295.7h0M381.7 317.4h0M375.6 321.5h0M374.8 318.7h0M380.8 305.4h0M369.7 316.4h0M397.3 298.9h0M380.6 308.8h0M372.2 312.8h0M386.2 305.4h0M378.0 306.9h0M387.7 302.6h0M375.7 307.8h0M370.3 319.3h0M369.6 313.6h0M380.4 308.2h0M368.6 313.1h0M379.5 308.7h0M391.3 297.9h0M366.4 316.4h0M383.4 306.9h0M382.0 307.9h0M384.4 300.9h0M393.9 302.7h0M386.8 301.7h0M381.0 308.6h0M386.4 305.9h0M363.9 326.4h0M369.4 314.2h0M393.2 307.0h0M385.8 307.5h0M396.6 298.5h0M366.4 317.7h0M390.0 302.1h0M382.4 309.9h0M377.8 311.1h0M372.5 313.3h0M384.7 307.6h0M368.3 314.6h0M385.8 307.1h0M375.0 311.1h0M392.8 296.6h0M388.7 302.0h0M390.2 304.7h0M395.9 294.3h0M368.4 314.7h0M382.7 303.6h0M394.4 295.9h0M392.3 297.0h0M388.2 303.0h0M368.6 315.6h0M390.5 304.3h0M365.1 316.9h0M368.7 316.8h0M378.3 308.9h0M391.0 302.2h0M369.2 313.1h0M364.4 325.4h0M365.8 316.1h0M379.9 308.9h0M366.7 316.0h0M374.7 315.8h0M382.2 304.8h0M390.2 298.7h0M392.1 309.6h0M381.2 309.6h0M367.0 315.1h0M377.5 310.1h0M370.8 318.3h0M384.9 304.3h0M389.4 298.9h0M365.4 319.2h0M384.4 308.9h0M376.5 307.8h0M368.3 313.6h0M375.4 320.1h0M393.3 298.1h0M393.5 295.4h0M388.5 301.2h0M389.7 312.6h0M392.3 296.4h0M393.3 296.5h0M370.0 320.9h0M389.8 306.1h0M369.8 317.4h0M391.4 297.5h0M378.3 310.6h0M375.5 310.2h0M377.2 316.3h0M373.4 314.1h0M392.1 301.5h0M380.6 307.4h0M373.4 315.0h0M367.7 320.8h0M380.3 311.6h0M372.4 320.5h0M386.6 301.5h0M371.3 311.8h0" stroke="#ffd020" stroke-width="0.65" stroke-linecap="round" fill="none"/>
<path d="M370.9 314.0h0M395.2 300.3h0M374.8 311.0h0M371.9 314.7h0M377.8 307.9h0M370.0 313.6h0M383.8 305.2h0M380.7 309.4h0M385.4 303.2h0M368.9 318.0h0M368.0 316.5h0M391.0 303.0h0M379.3 310.9h0M369.9 317.6h0M392.5 301.1h0M365.3 324.3h0M369.3 316.7h0M369.0 315.8h0M395.2 299.4h0M368.0 323.2h0M373.2 311.9h0M393.7 299.1h0M380.8 304.5h0M390.4 298.2h0M394.8 300.6h0M373.0 312.4h0M389.8 301.8h0M364.9 330.5h0M369.5 315.0h0M390.9 298.4h0M384.5 301.1h0M371.4 315.7h0M371.3 312.6h0M384.3 301.7h0M371.9 313.6h0M375.1 318.0h0M379.2 308.2h0M379.5 308.4h0M382.2 304.2h0M367.1 322.2h0M386.7 301.3h0M376.1 308.4h0M365.1 315.3h0M394.5 294.4h0M380.4 309.3h0M390.9 304.7h0M389.9 300.0h0M373.8 311.7h0M386.6 308.1h0M394.8 306.9h0M393.5 302.8h0M386.4 301.6h0M389.3 306.3h0M369.8 317.5h0M388.5 299.8h0M375.0 319.4h0M371.7 314.4h0M371.2 314.1h0M375.5 313.1h0M387.9 305.2h0M372.5 321.5h0M392.8 300.7h0M395.2 295.8h0M386.8 303.5h0M365.9 323.1h0M384.1 310.8h0M379.0 313.0h0M372.8 325.0h0" stroke="#28b8f4" stroke-width="0.65" stroke-linecap="round" fill="none"/>
<path d="M395.5 296.1h0M387.0 309.0h0M396.4 297.6h0M378.1 306.5h0M380.5 305.1h0M367.8 322.1h0M386.0 303.1h0M369.2 328.7h0M378.4 307.7h0M379.0 314.8h0M382.6 307.7h0M390.4 297.4h0M386.4 301.7h0M382.3 303.9h0M369.2 320.3h0M387.0 301.4h0M391.3 297.9h0M387.8 303.8h0M371.4 318.2h0M374.8 312.6h0M388.6 305.5h0M372.6 312.1h0M383.8 312.2h0M394.5 302.3h0M379.8 308.6h0M374.9 313.7h0M379.9 307.9h0M368.4 321.4h0M394.2 302.4h0M372.3 316.3h0M369.9 313.4h0M388.7 299.3h0M379.0 315.6h0M382.5 304.1h0M375.4 321.9h0M390.4 305.9h0M386.8 303.7h0M374.4 309.9h0M371.3 311.5h0M385.3 305.0h0M389.0 299.0h0M397.5 298.1h0M370.4 317.1h0M394.8 295.8h0M382.1 316.1h0M374.3 312.3h0M388.4 303.3h0M381.7 311.8h0M381.1 314.6h0M393.7 302.2h0M381.5 305.2h0M394.4 298.5h0M381.3 306.6h0M365.2 320.7h0M374.8 311.1h0M371.7 317.8h0M367.8 316.5h0M381.5 308.5h0M381.3 306.1h0M368.0 321.0h0M396.6 298.3h0M382.7 303.1h0M383.1 318.3h0M372.3 311.1h0M384.7 308.2h0M388.9 304.1h0M367.4 315.6h0M384.5 315.0h0M381.6 306.3h0M396.1 301.9h0M365.7 318.1h0M382.8 319.0h0M367.6 317.2h0M368.1 318.0h0M371.9 312.2h0M368.0 322.2h0M378.0 308.6h0M375.5 317.8h0M383.2 303.2h0M396.6 293.7h0M386.5 301.2h0M370.5 323.3h0M367.5 323.8h0M380.3 308.6h0M381.7 303.8h0M365.6 315.8h0M393.7 295.3h0M389.4 298.8h0M389.3 302.2h0M379.8 308.6h0M379.3 309.9h0M372.1 315.0h0M374.3 310.9h0M383.3 304.1h0M368.7 319.3h0M370.8 314.8h0M376.8 311.8h0M386.6 302.2h0M380.9 317.2h0M370.9 312.4h0M376.0 310.8h0M378.2 308.4h0M373.9 310.5h0M379.0 308.4h0M385.3 309.9h0M380.1 305.8h0M367.3 315.5h0M373.0 314.5h0M389.5 304.4h0M396.5 293.3h0M371.9 325.1h0M387.0 299.7h0M382.4 309.7h0M366.1 316.7h0M391.4 308.4h0M369.0 322.8h0M366.0 317.3h0M393.9 294.6h0M384.8 305.6h0M374.8 314.3h0M367.9 316.7h0M397.1 297.7h0M375.2 312.7h0M388.4 304.1h0M378.7 307.9h0M377.6 308.4h0M395.0 295.7h0M382.6 305.4h0M385.4 303.6h0M383.5 305.7h0M393.1 299.6h0M374.6 315.2h0M366.2 328.2h0M383.9 303.0h0M373.5 324.4h0M381.6 307.8h0M373.5 320.2h0M371.6 313.0h0M376.3 311.7h0M385.5 309.9h0M372.7 319.4h0M367.5 313.9h0M369.1 313.1h0M393.8 301.7h0M367.0 316.8h0M366.5 318.8h0M383.4 312.0h0M390.6 308.9h0M386.3 302.8h0M367.0 315.8h0M364.2 331.8h0M394.2 298.5h0M371.7 313.4h0M371.8 318.7h0M384.3 310.7h0M381.7 306.9h0M389.8 304.7h0M392.1 299.1h0M389.4 302.1h0M389.0 299.6h0M378.4 308.0h0M376.7 310.8h0M389.4 302.6h0M366.6 325.8h0M373.0 316.6h0M369.9 315.9h0M377.0 324.5h0M373.0 315.6h0M368.1 319.7h0M386.4 302.4h0M373.3 309.1h0M381.4 304.8h0M392.4 309.8h0M382.1 305.3h0M395.7 295.1h0M369.9 314.8h0M388.3 306.1h0M374.7 310.8h0M393.7 298.8h0M372.2 311.0h0M383.9 304.3h0M374.3 312.4h0M374.4 320.0h0M387.1 303.9h0M367.8 318.3h0M392.8 297.3h0M371.3 312.5h0M397.0 295.2h0M368.5 318.7h0M393.4 297.9h0M383.8 303.0h0M387.0 304.0h0M395.3 296.0h0M384.1 315.5h0M383.7 309.6h0M394.9 297.7h0M395.5 300.5h0M371.6 310.5h0M369.4 327.8h0M370.0 319.0h0M366.8 321.2h0M375.8 314.2h0M371.1 318.8h0M379.5 306.3h0M397.5 296.9h0M371.0 314.9h0M374.1 313.6h0M376.4 309.1h0M382.6 306.1h0M381.8 303.6h0M387.5 299.7h0M371.7 318.4h0M384.6 304.4h0M376.2 307.9h0M379.6 311.6h0M386.8 302.1h0M367.4 317.9h0M375.8 314.6h0M387.9 314.4h0M371.2 317.2h0M371.8 314.4h0M390.0 301.0h0M369.6 313.2h0M369.3 318.8h0M387.3 302.7h0M373.2 318.0h0M394.0 299.1h0M383.3 304.7h0M383.4 319.5h0M394.4 295.3h0M377.0 316.2h0M389.8 300.9h0M382.7 309.5h0M380.9 309.0h0M383.3 306.2h0M374.6 313.0h0M374.6 316.8h0M376.8 323.2h0M384.7 303.3h0M377.0 311.6h0M382.3 306.1h0M382.5 304.3h0M385.5 305.4h0M397.5 295.3h0M365.2 326.7h0M393.1 298.6h0M380.1 313.8h0M395.7 298.9h0M375.3 320.3h0M374.9 311.8h0M382.6 310.7h0M370.4 320.4h0M370.6 311.8h0M383.6 316.1h0M397.0 295.2h0M374.9 310.3h0M393.0 295.6h0M366.1 315.9h0M386.3 310.8h0M390.4 300.8h0M384.3 305.6h0M367.8 316.4h0M392.6 298.1h0M379.9 306.8h0M384.8 306.4h0M390.5 300.1h0M383.9 301.8h0M371.9 312.9h0M373.6 319.5h0M396.5 292.7h0M382.5 308.0h0M387.9 300.8h0M374.3 312.2h0M372.3 321.1h0M368.9 316.1h0M396.8 291.9h0M390.4 303.1h0M385.9 301.8h0M368.7 317.7h0M390.5 299.3h0M380.0 311.5h0M367.9 316.1h0M365.1 328.3h0M377.6 318.8h0M366.8 318.4h0M365.3 323.4h0M376.2 313.3h0M396.5 297.7h0M385.2 305.3h0M390.5 304.0h0M375.1 310.3h0M379.7 309.6h0M378.2 311.8h0M368.4 319.9h0M385.9 313.4h0M380.1 309.3h0M383.2 307.2h0M382.1 305.9h0M365.8 319.1h0M382.9 309.3h0M375.0 311.4h0M378.0 323.8h0M381.2 309.3h0M377.8 322.0h0M381.8 306.2h0M384.1 309.2h0M384.4 305.3h0M371.9 320.8h0M365.2 328.5h0M387.6 305.3h0M391.6 302.0h0M382.8 312.2h0M371.2 316.0h0M385.6 317.6h0M390.9 298.1h0M376.1 316.8h0M387.4 301.8h0M388.8 305.8h0M369.5 313.8h0M387.6 304.4h0M392.5 302.8h0M383.8 304.2h0M369.1 323.0h0M396.5 299.6h0M366.4 318.5h0M394.2 299.1h0M379.5 311.4h0M371.0 312.4h0M390.7 297.8h0M379.3 305.9h0M382.1 305.9h0M387.5 300.1h0M395.5 297.7h0M380.1 304.8h0M385.3 311.7h0M374.3 313.0h0M392.0 301.9h0M387.6 304.1h0M372.5 311.1h0M382.3 302.9h0M372.6 311.9h0M380.2 304.1h0M388.1 300.9h0M376.6 314.9h0M376.4 308.0h0M383.1 303.9h0M389.7 309.7h0M393.5 297.9h0M392.6 299.4h0M384.7 304.7h0M385.0 306.0h0M371.1 314.3h0M375.1 312.2h0M378.6 312.0h0M377.0 320.6h0M370.4 321.5h0M389.4 298.7h0M378.2 311.4h0M389.7 301.6h0M389.4 310.3h0M395.3 303.7h0M392.6 306.8h0M385.2 303.2h0M373.7 311.5h0M391.3 299.4h0M389.7 300.7h0M389.6 315.2h0M377.4 311.0h0M376.0 310.7h0M382.8 304.8h0M385.1 309.0h0M396.5 295.8h0M375.6 310.7h0M396.3 302.7h0M379.8 314.1h0M375.2 310.6h0M374.0 312.8h0M375.8 316.0h0M380.0 306.8h0M392.7 297.8h0M366.1 316.7h0M377.3 311.2h0M383.2 315.4h0M384.7 307.0h0M382.5 305.9h0M377.0 314.0h0M385.4 305.3h0M395.5 297.4h0M381.8 304.7h0M368.4 314.8h0M397.0 298.8h0M374.3 315.6h0M388.3 303.0h0M370.0 314.1h0M391.2 303.7h0M372.3 318.6h0M376.0 311.8h0M376.9 311.7h0M394.9 296.8h0M376.0 315.4h0M377.7 310.5h0M367.1 323.0h0M385.6 302.6h0M371.2 312.8h0M367.7 329.2h0M385.2 304.4h0M368.8 316.2h0M384.1 307.3h0M390.5 302.0h0M373.0 315.3h0M368.1 314.6h0M368.6 315.2h0M370.1 313.5h0M382.3 314.2h0M367.0 331.0h0M370.4 316.1h0M392.9 297.5h0M376.1 311.7h0M386.3 310.7h0M381.0 309.1h0M376.6 313.2h0M378.0 309.7h0M384.6 305.3h0M394.1 296.5h0M378.1 317.8h0M386.9 300.1h0M379.8 306.7h0M378.1 309.3h0M369.9 322.3h0M386.5 305.5h0M365.3 324.3h0M397.5 295.5h0M369.6 314.8h0M394.6 299.5h0M386.3 300.0h0M393.3 303.4h0M369.0 314.6h0M389.1 314.1h0M394.5 297.0h0M386.6 305.1h0M394.7 302.1h0M375.3 317.6h0M367.1 315.3h0M373.2 309.8h0M377.6 315.8h0M374.3 311.7h0M389.7 299.5h0M394.6 299.6h0M372.4 312.7h0M396.0 295.6h0M380.0 313.1h0M393.1 296.0h0M378.4 309.8h0M369.8 314.1h0M392.2 299.5h0M377.7 311.3h0M391.2 304.3h0M392.1 298.1h0" stroke="#ff2222" stroke-width="0.65" stroke-linecap="round" fill="none"/>
<path d="M398.7 292.9h0M377.6 312.3h0M370.1 314.0h0M381.3 304.7h0M369.6 316.6h0M383.7 307.3h0M378.3 307.4h0M374.9 311.1h0M396.2 296.6h0M369.0 315.4h0M393.5 301.3h0M378.0 308.6h0M385.3 311.6h0M387.0 306.2h0M388.3 298.3h0M370.4 313.2h0M395.2 296.7h0M365.0 317.0h0M378.1 308.2h0M393.4 296.1h0M384.4 312.3h0M380.4 311.2h0M389.7 301.2h0M373.7 311.8h0M374.4 312.9h0M390.6 299.2h0M395.1 294.3h0M390.2 314.4h0M376.0 314.9h0M386.0 309.7h0M393.8 296.7h0M393.9 298.4h0M367.2 318.1h0M366.6 316.9h0M379.3 314.8h0M372.8 317.1h0M366.9 318.0h0M389.4 302.9h0M396.3 302.0h0M378.1 313.4h0M362.7 334.3h0M364.5 323.8h0M370.8 319.2h0M387.9 309.9h0M373.7 313.1h0M388.6 302.3h0M372.8 311.6h0M388.7 301.5h0M385.5 310.5h0M391.1 301.9h0M397.8 296.9h0M390.3 300.0h0M372.8 313.2h0M386.1 302.7h0M381.1 319.3h0M372.6 314.0h0M389.7 312.0h0M382.9 304.2h0M383.3 306.3h0M380.2 312.3h0M395.8 295.4h0M385.3 303.1h0M386.1 308.4h0M372.4 311.2h0M372.9 311.9h0M368.6 315.9h0M379.9 311.7h0M372.7 317.2h0M394.5 295.9h0M386.5 302.2h0M373.4 313.4h0M382.4 305.2h0" stroke="#c8f8b0" stroke-width="0.65" stroke-linecap="round" fill="none"/>
<path d="M390.6 305.5h0M386.9 304.9h0M387.2 307.2h0M368.5 317.3h0M369.6 328.5h0M392.9 300.3h0M395.2 294.2h0M373.7 314.2h0M394.8 298.3h0M387.5 301.2h0M388.7 305.8h0M382.1 308.0h0M390.3 300.3h0M389.2 303.2h0M385.9 302.9h0M390.2 307.6h0M377.7 309.1h0M391.2 310.7h0M394.4 297.5h0M370.5 321.8h0M380.1 309.0h0M376.4 318.5h0M383.7 304.7h0M369.6 318.8h0M382.3 308.0h0M391.7 302.0h0M371.8 316.5h0M369.1 314.0h0M367.8 316.7h0M364.7 321.7h0M393.5 307.6h0M379.2 313.0h0M366.1 320.0h0M382.7 311.1h0M386.6 308.9h0M381.7 305.8h0M382.4 316.6h0M369.1 315.0h0M388.0 304.2h0M396.2 298.6h0M380.3 304.7h0M366.2 316.3h0M388.4 298.7h0M382.0 305.5h0M381.8 312.1h0M374.7 316.5h0M381.9 306.0h0M378.1 316.5h0M375.4 309.4h0M382.6 307.1h0M372.4 313.2h0" stroke="#a0f89c" stroke-width="0.65" stroke-linecap="round" fill="none"/>
<text x="368.8" y="249.0" font-size="6.7" text-anchor="middle">k. R=3</text>
<text x="288.5" y="285.5" font-size="5.62">Velocity (mm/s)</text>
<path d="M291.4 291.1l1.65 1.65l-1.65 1.65l-1.65 -1.65z" fill="#0000ff"/>
<text x="295.6" y="294.4" font-size="5">0~50</text>
<path d="M291.4 299.7l1.65 1.65l-1.65 1.65l-1.65 -1.65z" fill="#00c4ff"/>
<text x="295.6" y="303.0" font-size="5">50~150</text>
<path d="M291.4 308.3l1.65 1.65l-1.65 1.65l-1.65 -1.65z" fill="#78ff3c"/>
<text x="295.6" y="311.6" font-size="5">150~500</text>
<path d="M291.4 316.9l1.65 1.65l-1.65 1.65l-1.65 -1.65z" fill="#ffb000"/>
<text x="295.6" y="320.2" font-size="5">500~1000</text>
<path d="M291.4 325.5l1.65 1.65l-1.65 1.65l-1.65 -1.65z" fill="#ff0000"/>
<text x="295.6" y="328.8" font-size="5">1000~</text>
</g>
<g id="pl">
<g filter="url(#be)"><g clip-path="url(#cl)">
<polygon points="441.9,248.2 473.5,239.0 477.5,240.6 481.6,243.5 511.2,265.8 538.3,289.5 503.4,312.2 495.6,309.0" fill="#ffd020"/>
<polygon points="441.8,247.5 450.1,245.2 452.8,249.4 446.4,251.7" fill="#a0f89c" filter="url(#b8)" opacity="0.85"/>
<polygon points="440.3,250.5 443.4,247.7 459.4,265.5 475.4,283.4 472.1,286.4" fill="#a0f89c" filter="url(#b5)"/>
<polygon points="460.1,248.5 481.1,242.1 494.8,253.0 513.1,269.5 522.3,281.4 516.8,288.7 504.0,291.4 491.2,286.8 476.6,276.8 463.8,264.0" fill="#ff2222" filter="url(#b15)"/>
<polygon points="504.8,314.0 497.8,303.1 515.6,292.1 533.5,281.2 540.0,291.3" fill="#ff2222" filter="url(#b13)"/>
<polygon points="502.2,305.1 513.1,294.2 527.8,286.8 537.8,286.8 531.4,297.8 513.1,310.6 504.0,311.0" fill="#ff2222" filter="url(#b15)"/>
</g></g>
<path d="M529.9 300.1h0M521.9 309.3h0M531.2 294.5h0M513.1 313.1h0M511.5 313.2h0M524.4 311.5h0M512.2 306.6h0M519.7 301.5h0M528.1 307.4h0M521.2 305.3h0M535.8 291.9h0M519.7 302.5h0M514.9 309.2h0M508.9 323.3h0M518.0 304.1h0M517.9 303.8h0M536.0 297.5h0M535.0 297.9h0M515.7 303.4h0M532.5 292.5h0M525.6 299.0h0M531.9 299.5h0M532.2 300.5h0M513.8 310.9h0M511.9 307.0h0M508.9 324.2h0M531.4 295.4h0M530.9 293.6h0M525.8 304.6h0M521.7 307.3h0M518.1 320.0h0M529.0 312.0h0M523.4 299.5h0M521.6 303.8h0M529.6 299.0h0M530.7 293.8h0M521.9 301.5h0M522.1 302.7h0M522.4 301.7h0M507.7 316.4h0M529.4 300.0h0M522.0 304.3h0M527.6 296.5h0M515.2 303.9h0M510.7 309.3h0M510.1 308.9h0M535.7 293.1h0M511.2 308.5h0M502.1 324.8h0M513.2 309.5h0M523.1 307.6h0M515.5 308.6h0M530.0 297.5h0M515.4 305.9h0M504.8 311.9h0M504.3 319.3h0M510.2 308.1h0M520.4 301.9h0M514.2 311.0h0M505.1 313.6h0M534.9 292.4h0M503.8 316.7h0M522.5 302.2h0M530.1 294.7h0M508.3 318.9h0M515.5 320.8h0M534.9 293.3h0M531.1 297.5h0M516.9 304.2h0M529.0 306.8h0M506.8 310.3h0M533.1 298.6h0M505.3 312.8h0M514.8 309.9h0M532.8 291.8h0M507.5 312.2h0M515.3 304.4h0M525.9 312.0h0M506.8 312.8h0M523.6 308.7h0M531.3 294.4h0M514.3 307.6h0M511.7 309.7h0M534.7 293.5h0M515.7 309.3h0M524.2 300.7h0M527.7 300.1h0M521.0 300.4h0M504.4 310.3h0M519.0 306.3h0M503.7 313.7h0M514.4 306.9h0M532.2 302.0h0M519.9 300.7h0M508.8 311.3h0M515.2 313.5h0M532.5 293.6h0M531.7 296.6h0M508.6 311.3h0M509.2 309.0h0M534.7 299.6h0M518.3 304.3h0M524.4 300.2h0M508.2 314.6h0M532.4 303.8h0M520.4 307.9h0M511.7 306.2h0M523.5 304.8h0M505.4 319.0h0M509.3 307.9h0M525.8 302.7h0M525.5 302.8h0M520.6 300.2h0M534.2 291.4h0M505.2 311.9h0M526.9 297.9h0M518.1 310.3h0M503.7 311.2h0M512.4 305.7h0M516.8 310.3h0M525.9 299.8h0M519.7 300.8h0M536.3 293.8h0M505.8 314.3h0M530.3 296.5h0M527.7 296.4h0M537.6 291.2h0M526.7 299.8h0M530.2 299.9h0M519.6 307.4h0M516.7 311.9h0M527.4 299.2h0M531.2 298.4h0M532.4 295.5h0M520.2 301.5h0M516.4 314.6h0M502.6 329.2h0M536.4 293.8h0M535.6 294.1h0M513.1 306.9h0M522.4 303.7h0M519.4 305.3h0M506.1 313.9h0M513.4 305.5h0M527.7 304.3h0M510.9 308.0h0M515.2 305.4h0M507.6 310.9h0M537.4 293.3h0M519.4 313.4h0M505.8 312.8h0M507.1 317.5h0M532.6 293.7h0M512.1 314.9h0M535.7 294.5h0M518.0 307.8h0M533.1 293.9h0M514.9 309.8h0M510.6 309.2h0M524.5 312.3h0M533.3 298.7h0M503.0 319.8h0M521.6 303.0h0M508.4 316.2h0M530.9 305.1h0M525.1 302.8h0M510.7 309.2h0M515.4 312.4h0M526.8 303.7h0M521.7 299.4h0M527.8 300.6h0M518.3 310.4h0M509.2 311.8h0M523.0 300.4h0M528.8 299.3h0M507.3 311.7h0M522.4 299.6h0M534.3 298.0h0M519.9 301.1h0M510.3 319.8h0M518.0 307.9h0M520.4 307.4h0M519.2 311.0h0M522.4 310.4h0M531.1 294.7h0M537.5 297.5h0M536.1 295.4h0M529.4 296.7h0M524.8 301.2h0M517.8 302.9h0M506.3 314.4h0M519.9 314.4h0M520.9 300.5h0M535.2 296.9h0M506.3 313.8h0M521.1 301.0h0M536.9 291.0h0M508.1 312.9h0M523.9 300.7h0M523.1 316.4h0M507.1 310.9h0M507.4 316.5h0M518.1 308.0h0M507.3 309.2h0M504.2 318.5h0M507.8 315.4h0M503.9 314.5h0M511.2 309.7h0M535.3 290.7h0M508.4 315.0h0M517.3 303.2h0M514.1 306.5h0M510.0 308.9h0M519.4 304.6h0M535.6 295.1h0M506.7 317.2h0M524.4 300.1h0M529.2 310.3h0M512.7 309.4h0M527.5 302.3h0M526.4 304.0h0M506.4 317.5h0M530.8 298.0h0M513.6 307.0h0M513.9 309.0h0M526.2 300.8h0M524.9 305.6h0M505.0 315.2h0M528.1 297.4h0M525.9 296.4h0M525.4 301.9h0M517.1 303.8h0M508.7 310.8h0M518.9 302.6h0M535.3 301.6h0M504.9 324.6h0M537.2 296.9h0M522.9 305.3h0M520.8 305.7h0M503.2 322.9h0M510.5 312.9h0M512.6 307.2h0M513.1 313.5h0M515.1 306.6h0M531.2 296.4h0M537.9 290.0h0M509.6 306.8h0M536.5 290.6h0M518.9 302.8h0M517.3 312.2h0M533.7 295.2h0M521.2 303.4h0M529.1 300.1h0M530.4 296.1h0M508.6 311.9h0M527.5 296.8h0M510.1 314.4h0M516.2 312.3h0M526.0 300.7h0M509.6 319.8h0M523.4 298.1h0M515.4 305.5h0M529.0 297.0h0M525.4 305.3h0M505.1 312.6h0M510.1 310.5h0M509.9 311.6h0M536.3 292.4h0M537.2 292.2h0M527.4 297.5h0M520.1 301.6h0M504.6 309.8h0M513.4 306.2h0M509.9 310.2h0M516.4 308.4h0M519.4 304.1h0M518.8 301.7h0M531.9 297.2h0M527.7 301.4h0M526.5 301.7h0M513.3 310.8h0M520.2 302.2h0M527.5 307.7h0M519.9 307.3h0M526.0 298.0h0M512.8 313.3h0M508.9 307.2h0M532.4 300.8h0M526.1 304.9h0M522.7 314.5h0M537.2 291.4h0M518.3 308.3h0M520.0 301.3h0M535.1 293.7h0M519.7 304.0h0M533.1 294.3h0M515.3 305.5h0M532.2 299.4h0M513.7 311.1h0M531.9 296.9h0M506.0 314.6h0M535.9 291.8h0M516.7 310.2h0M523.6 300.5h0M512.3 311.4h0M506.4 311.3h0M505.1 312.1h0M530.8 308.1h0M537.8 291.3h0M517.7 310.9h0M521.0 300.6h0M533.6 293.2h0M511.1 312.8h0M508.1 323.8h0M518.0 317.4h0M519.1 315.1h0M528.6 301.2h0M505.0 316.9h0M524.3 299.0h0M508.7 316.0h0M514.6 307.0h0M527.2 299.7h0M530.5 295.3h0M527.0 304.2h0M502.5 324.9h0M530.0 296.2h0M516.8 305.2h0M522.7 305.3h0M507.8 317.2h0M533.1 304.4h0M521.2 305.7h0M535.0 294.4h0M514.6 305.7h0M538.1 290.0h0M504.7 314.7h0M518.0 305.1h0M530.2 302.1h0M515.4 306.2h0M510.9 306.6h0M505.8 313.3h0M527.8 299.6h0M533.9 295.6h0M513.1 312.7h0M507.9 309.9h0M527.9 307.7h0M530.4 294.6h0M524.1 298.6h0M517.0 310.7h0M514.8 303.6h0M536.4 292.0h0M529.0 295.0h0M524.5 305.4h0M510.6 305.8h0M518.6 306.9h0M526.6 298.3h0M525.2 312.6h0M506.2 312.9h0M529.5 300.1h0M534.2 292.3h0M523.8 312.8h0M506.1 319.6h0M524.8 298.7h0M506.3 315.9h0M533.9 296.5h0M505.1 314.1h0M516.9 309.1h0M535.7 302.0h0M508.6 309.5h0M534.8 290.9h0M517.4 311.7h0M533.3 297.6h0M519.1 302.8h0M522.3 300.1h0M510.0 317.5h0M526.5 304.0h0M513.7 307.6h0M517.5 306.9h0M515.4 309.4h0M503.3 313.8h0M522.2 303.0h0M519.8 301.3h0M519.7 310.8h0M533.7 296.3h0M513.1 310.8h0M508.4 308.8h0M506.1 311.6h0M506.9 311.4h0M523.5 297.9h0M519.1 313.0h0M523.4 299.6h0M518.0 302.1h0M509.7 311.0h0M514.9 316.9h0M537.5 293.2h0M525.0 299.0h0M515.7 310.1h0M512.8 308.6h0M525.9 302.6h0M529.3 304.4h0M520.3 302.4h0M515.9 306.1h0M523.1 300.0h0M510.5 321.5h0M523.4 301.6h0M530.5 300.2h0M523.8 313.7h0M510.6 308.3h0M524.0 298.9h0M524.2 309.1h0M518.8 315.7h0M523.7 300.0h0M528.0 298.1h0M511.2 307.1h0M522.1 302.4h0M530.9 295.8h0M531.1 295.1h0M508.2 317.6h0M532.7 295.9h0M532.7 292.3h0M514.4 312.3h0M531.9 292.7h0M529.8 298.8h0M530.6 301.9h0M522.0 301.5h0M526.2 298.3h0M508.3 315.0h0M514.4 319.8h0M511.3 309.0h0M504.8 313.0h0" stroke="#ff2222" stroke-width="0.65" stroke-linecap="round" fill="none"/>
<path d="M515.1 304.9h0M517.1 309.4h0M534.8 292.4h0M523.3 315.4h0M535.1 291.7h0M523.2 302.5h0M518.0 301.2h0M523.8 309.9h0M525.1 298.8h0M512.2 313.1h0M517.3 305.8h0M511.1 306.5h0M531.8 298.3h0M525.3 297.4h0M511.8 306.7h0M536.6 297.5h0M525.1 297.1h0M514.2 305.7h0M519.4 303.8h0M507.7 309.4h0M517.7 306.1h0M524.9 314.9h0M535.3 290.0h0M533.7 292.0h0M530.5 297.5h0M520.2 305.0h0M507.9 312.4h0M533.0 308.8h0M521.5 310.5h0M522.5 301.2h0M516.8 303.2h0M527.8 298.9h0M534.6 293.2h0M505.4 310.0h0M509.2 311.7h0M510.4 307.1h0M516.1 305.2h0M519.7 312.7h0M527.1 297.8h0M507.6 319.9h0M512.1 308.2h0M504.6 314.2h0M521.8 311.0h0M517.1 306.4h0M526.9 300.8h0M507.3 308.3h0" stroke="#28b8f4" stroke-width="0.65" stroke-linecap="round" fill="none"/>
<path d="M514.4 314.0h0M531.8 296.6h0M516.4 302.8h0M527.2 305.9h0M513.3 306.6h0M503.7 314.3h0M526.7 299.8h0M518.3 305.1h0M511.6 311.0h0M535.8 301.5h0M530.7 301.0h0M507.9 311.0h0M512.1 308.5h0M508.3 320.7h0M535.9 300.0h0M505.7 314.0h0M524.2 298.5h0M510.6 310.7h0M536.2 294.7h0M511.3 309.4h0M507.9 320.7h0M515.6 314.8h0M519.1 301.1h0M506.6 312.7h0M519.4 317.8h0M524.2 298.9h0M512.2 310.9h0M527.6 302.4h0M518.6 306.3h0M522.2 301.5h0M533.7 294.9h0M521.3 301.0h0M528.9 302.3h0M509.7 317.2h0M517.8 308.4h0M513.4 306.6h0M533.2 295.9h0M536.3 295.0h0M513.2 306.4h0M511.6 306.7h0M535.3 296.4h0M510.7 305.8h0M515.3 317.3h0M535.1 300.6h0M513.6 311.1h0M515.8 306.1h0M511.3 308.3h0M506.3 309.5h0M520.5 309.8h0M533.7 297.3h0M510.5 308.3h0M516.8 309.1h0M514.5 306.6h0M528.8 310.1h0M524.0 300.3h0M517.4 309.2h0M518.2 309.3h0M507.4 309.1h0M533.3 293.3h0M530.5 307.1h0M514.2 305.4h0M507.5 323.5h0M518.5 315.6h0M534.7 297.7h0M517.1 305.1h0M518.4 307.9h0M518.7 302.7h0M508.3 318.7h0M534.1 297.4h0M531.1 295.0h0M514.2 311.6h0M508.2 310.3h0M506.1 318.1h0M511.8 315.6h0M507.0 320.5h0M513.1 308.5h0M514.3 308.9h0M523.0 300.6h0M522.6 304.6h0M521.5 303.1h0M515.8 311.6h0M529.6 296.9h0M536.3 291.7h0M524.1 298.6h0M532.8 297.8h0M518.8 307.6h0M523.6 314.8h0M522.0 301.2h0M506.0 316.2h0M508.4 313.2h0M526.8 296.2h0M525.8 299.5h0M530.5 296.2h0M535.6 292.9h0M523.1 301.4h0M532.5 294.4h0M511.1 305.9h0M526.2 301.7h0M524.0 312.5h0M520.6 307.8h0M527.2 297.1h0M507.7 321.2h0M531.4 299.9h0M531.4 297.5h0M512.1 311.8h0M510.2 308.3h0M531.4 296.1h0M521.8 299.7h0M515.4 307.3h0M518.3 302.4h0M524.3 299.5h0M515.5 306.7h0M514.6 311.3h0M531.4 308.1h0M531.7 303.2h0M517.4 304.3h0M512.6 319.8h0M519.1 304.0h0M535.1 295.1h0M537.2 291.9h0M514.7 308.2h0M514.9 306.0h0M514.2 308.7h0M511.8 311.7h0M528.6 296.2h0M527.3 298.6h0M532.1 297.8h0M509.5 307.4h0M515.2 303.7h0M531.3 294.7h0M512.6 308.8h0M504.6 312.6h0M510.9 313.5h0M516.6 302.4h0M522.3 316.7h0M521.3 299.9h0M508.4 309.1h0M518.9 306.2h0M536.0 303.1h0M524.3 304.4h0M504.7 314.2h0M504.6 312.1h0M515.8 307.6h0M524.4 301.5h0M511.5 308.1h0M521.1 301.4h0M520.2 304.3h0M522.4 300.3h0M530.1 302.4h0M524.1 303.0h0M528.1 307.1h0M518.9 304.7h0M516.9 310.3h0M528.5 295.5h0M535.6 294.5h0M527.5 298.4h0M504.9 323.5h0M514.7 321.5h0M528.2 294.8h0M524.7 299.9h0M537.6 291.0h0M505.8 311.0h0M520.1 306.5h0M505.0 318.0h0M505.3 317.4h0M536.3 296.9h0M512.6 308.9h0M514.3 310.8h0M537.7 292.8h0M504.9 312.6h0M506.5 315.6h0M530.9 298.0h0M531.5 297.9h0M507.1 314.1h0M509.5 314.6h0M526.9 299.6h0M508.8 310.5h0M528.7 297.3h0M524.9 309.0h0M507.5 309.8h0M525.0 301.9h0M502.6 328.4h0M534.6 307.1h0M535.1 290.8h0M534.9 295.0h0M519.4 306.8h0M510.9 322.1h0M505.4 312.5h0M518.4 303.3h0M527.9 303.9h0M514.5 305.4h0M525.9 302.1h0M517.8 318.4h0M509.1 318.3h0M504.8 318.0h0M506.0 314.8h0M523.8 303.9h0M533.2 295.5h0M535.0 295.3h0M505.6 317.9h0M527.3 297.6h0M508.2 315.0h0M526.7 301.4h0M520.0 307.4h0M507.8 308.3h0M534.3 303.1h0M522.1 300.5h0M530.3 304.4h0M528.6 296.2h0M530.5 294.7h0M527.3 297.0h0M521.8 301.0h0M504.6 319.0h0M520.8 306.2h0M521.9 302.7h0M521.5 299.9h0M526.2 299.2h0M512.6 306.4h0M503.9 320.6h0M527.6 302.0h0M508.9 308.4h0M527.4 298.7h0M511.4 306.6h0M516.4 308.7h0M510.9 306.4h0M537.0 289.9h0M506.2 313.1h0M505.7 319.7h0M523.6 298.4h0M531.8 294.6h0M528.2 295.6h0M505.1 314.5h0M507.6 308.9h0M526.0 297.4h0M515.6 310.5h0M528.3 299.5h0M514.5 309.1h0M508.1 308.9h0M513.1 307.9h0M508.8 310.7h0M510.6 311.0h0M508.1 312.4h0M522.7 303.5h0M511.4 315.5h0M534.0 302.2h0M514.5 314.4h0" stroke="#ffd020" stroke-width="0.65" stroke-linecap="round" fill="none"/>
<path d="M529.9 299.8h0M509.6 308.7h0M524.2 302.0h0M531.4 297.6h0M515.1 307.7h0M510.9 311.1h0M532.1 294.3h0M523.2 303.1h0M536.8 291.2h0M531.4 294.2h0M531.7 303.4h0M519.2 302.8h0M513.3 305.2h0M518.6 305.4h0M520.8 300.2h0M530.7 295.0h0M508.9 325.3h0M526.3 298.6h0M511.1 308.9h0M536.8 293.6h0M521.1 316.2h0M511.8 311.3h0M517.8 306.8h0M519.4 309.6h0M507.2 314.2h0M526.3 298.4h0M510.1 314.1h0M535.0 296.0h0M537.3 292.6h0M523.4 300.1h0M520.7 306.1h0M505.4 316.9h0M504.2 311.9h0M503.4 328.4h0M514.9 306.6h0M521.3 300.6h0M531.7 297.0h0M523.7 302.7h0M528.0 298.2h0M517.3 304.7h0M528.3 298.4h0M531.4 299.4h0M521.1 301.8h0M515.6 304.2h0M521.7 302.1h0M531.7 303.9h0M526.3 307.4h0M527.1 310.5h0M514.4 304.6h0M538.1 292.1h0M528.7 303.5h0M508.6 311.8h0M507.3 318.2h0M525.9 297.7h0M505.6 323.8h0M534.1 306.7h0M529.3 300.2h0M518.4 319.7h0M532.7 299.3h0M513.2 320.1h0M514.3 310.1h0M532.7 294.9h0M536.4 293.8h0M525.4 299.0h0M533.3 306.8h0M515.8 307.3h0M508.8 308.2h0M504.4 315.0h0M507.6 310.4h0M512.6 313.4h0" stroke="#a0f89c" stroke-width="0.65" stroke-linecap="round" fill="none"/>
<path d="M505.9 314.2h0M505.7 317.8h0M526.2 296.7h0M534.9 295.5h0M513.0 308.2h0M520.5 302.2h0M529.5 300.0h0M518.9 301.1h0M530.2 299.5h0M532.0 294.4h0M537.8 290.0h0M503.8 319.5h0M516.3 305.2h0M506.7 311.0h0M536.1 292.6h0M516.6 308.1h0M531.5 305.5h0M517.4 311.5h0M519.8 303.3h0M520.3 305.6h0M523.7 300.2h0M523.4 299.9h0M511.5 316.0h0M510.5 306.5h0M533.1 308.2h0M524.5 300.0h0M531.7 299.8h0M531.3 300.9h0M531.1 294.7h0M528.2 296.0h0M518.3 305.9h0M530.4 295.1h0M533.9 294.8h0M523.5 302.1h0M518.5 308.9h0M508.0 312.4h0M510.5 310.0h0M525.7 304.3h0M509.4 309.0h0M534.4 292.4h0M529.7 303.0h0M505.7 311.0h0M506.8 314.0h0M536.8 289.8h0M523.8 298.9h0M518.3 304.6h0M518.5 310.8h0M530.5 298.9h0M537.7 290.1h0M537.5 289.0h0M535.9 294.9h0M520.1 302.8h0M514.6 306.3h0M523.8 299.2h0M534.4 290.8h0M523.2 303.2h0M521.6 304.7h0M510.9 309.1h0M525.7 298.5h0M515.5 303.7h0M511.4 307.7h0M525.7 303.5h0M517.2 312.5h0M509.1 310.2h0M517.2 303.3h0M525.6 309.8h0M517.4 303.6h0M530.5 293.7h0M527.6 300.7h0M534.6 294.2h0M535.6 298.6h0M509.7 310.0h0M504.6 315.7h0M531.9 301.2h0M523.7 304.4h0M520.7 302.0h0M502.5 319.8h0M525.1 301.4h0M520.7 308.4h0M537.0 297.5h0M528.7 298.2h0M515.7 308.4h0M524.7 312.7h0M524.5 309.0h0M528.0 300.3h0M529.9 302.7h0M528.6 297.5h0M512.4 307.3h0M508.7 319.2h0M520.6 306.0h0M525.0 302.0h0M501.3 329.1h0M515.1 305.0h0M536.6 296.4h0M529.5 296.2h0M510.6 309.5h0M507.0 315.1h0M507.0 314.5h0M523.9 299.7h0M528.0 297.8h0M520.8 305.3h0M518.1 308.9h0M528.9 302.5h0M507.5 310.6h0M508.4 308.3h0M505.3 325.7h0M510.6 313.3h0M520.9 306.2h0M521.6 299.2h0M509.4 309.9h0M520.4 312.0h0M530.0 298.8h0M522.6 298.1h0M526.2 298.9h0M520.6 309.8h0M532.7 295.1h0" stroke="#f0f080" stroke-width="0.65" stroke-linecap="round" fill="none"/>
<text x="512.4" y="249.0" font-size="6.7" text-anchor="middle">l. R=4</text>
<text x="422.5" y="285.0" font-size="5.62">Velocity (mm/s)</text>
<path d="M424.4 289.8l1.65 1.65l-1.65 1.65l-1.65 -1.65z" fill="#0000ff"/>
<text x="429.1" y="293.2" font-size="5">0~50</text>
<path d="M424.4 298.4l1.65 1.65l-1.65 1.65l-1.65 -1.65z" fill="#00c4ff"/>
<text x="429.1" y="301.8" font-size="5">50~150</text>
<path d="M424.4 307.0l1.65 1.65l-1.65 1.65l-1.65 -1.65z" fill="#78ff3c"/>
<text x="429.1" y="310.4" font-size="5">150~500</text>
<path d="M424.4 315.6l1.65 1.65l-1.65 1.65l-1.65 -1.65z" fill="#ffb000"/>
<text x="429.1" y="319.0" font-size="5">500~1000</text>
<path d="M424.4 324.2l1.65 1.65l-1.65 1.65l-1.65 -1.65z" fill="#ff0000"/>
<text x="429.1" y="327.6" font-size="5">1000~</text>
</g>
<g id="pm">
<g filter="url(#be)"><g clip-path="url(#cm)">
<polygon points="21.4,371.9 53.0,363.3 57.0,364.9 61.1,367.8 89.1,389.8 114.6,413.2 80.3,435.3 72.6,432.1" fill="#ff2222"/>
<polygon points="19.7,374.1 31.9,363.8 40.5,382.0 49.2,400.2 45.0,403.7" fill="#ffd020" filter="url(#b12)"/>
<polygon points="40.9,399.0 45.2,395.4 55.9,408.2 66.6,421.1 62.6,424.5" fill="#ffd020" filter="url(#b8)"/>
<polygon points="61.0,419.0 68.0,415.5 80.0,427.0 81.0,435.0 71.0,433.0" fill="#ffd020" filter="url(#b12)"/>
<polygon points="20.0,372.0 27.0,370.2 29.0,373.5 24.0,376.0" fill="#a0f89c" filter="url(#b7)"/>
<polygon points="96.0,409.0 107.0,404.0 110.0,408.0 100.0,414.0" fill="#ffd020" filter="url(#b12)" opacity="0.55"/>
</g></g>
<path d="M92.8 427.3h0M114.9 413.1h0M95.9 424.8h0M87.9 432.0h0M97.2 426.5h0M84.5 432.6h0M93.1 427.6h0M100.5 424.9h0M86.5 430.7h0M97.9 424.2h0M99.7 426.4h0M86.9 431.6h0M104.5 420.6h0M88.4 434.4h0M99.9 422.4h0M100.1 430.1h0M113.2 416.4h0M99.2 422.6h0M88.7 430.3h0M112.1 416.1h0M95.9 424.4h0M84.9 432.5h0M98.8 423.7h0M95.0 426.8h0M102.5 421.1h0M111.6 417.2h0M84.2 433.1h0M111.3 415.8h0M86.1 432.9h0M107.1 420.1h0M111.0 418.7h0M111.9 421.5h0M84.6 434.8h0M95.2 427.2h0M103.9 420.1h0M114.2 415.1h0M105.3 423.8h0M104.7 421.0h0M89.5 430.7h0M106.2 423.4h0M87.2 433.8h0M100.1 427.9h0M110.2 418.6h0M87.1 429.1h0M86.1 431.9h0M87.8 430.0h0M89.9 431.8h0M92.9 426.2h0M81.4 434.6h0M98.8 423.3h0M101.8 426.4h0M105.4 421.3h0M103.5 421.1h0M82.3 435.8h0M112.6 414.7h0M102.1 422.0h0M114.2 413.1h0M90.2 431.0h0M87.2 430.7h0M101.0 424.8h0M82.5 432.9h0M110.5 425.7h0M107.3 417.0h0M93.6 425.9h0M100.3 425.1h0M100.5 424.4h0M110.2 415.7h0M89.8 430.7h0M82.4 433.5h0M90.2 429.3h0M88.4 432.6h0M99.8 422.5h0M112.4 419.3h0M113.8 422.4h0M89.6 430.6h0M81.8 435.8h0M87.3 430.0h0M101.5 420.6h0M98.0 423.9h0M94.2 429.3h0M114.1 419.6h0M108.7 424.5h0M81.6 434.4h0M106.3 418.9h0M81.2 434.7h0M113.7 414.3h0M95.7 436.6h0M98.0 424.6h0M109.2 421.1h0M105.6 420.5h0M92.4 428.0h0M94.1 427.9h0M89.3 433.3h0M92.0 427.7h0M105.2 419.5h0M95.1 426.2h0M104.2 421.8h0M95.0 424.6h0M110.2 417.2h0M91.4 428.3h0M96.0 425.0h0M91.7 431.1h0M99.6 422.8h0M88.7 429.5h0M86.1 446.5h0M94.4 426.2h0M93.4 428.0h0M100.0 437.6h0M90.2 429.5h0M84.8 433.2h0M87.1 431.9h0M92.7 431.4h0M83.7 432.4h0M90.9 433.6h0M82.0 434.2h0M104.5 423.0h0M98.3 428.3h0M101.1 422.3h0M95.5 426.2h0M87.4 431.9h0M107.5 432.9h0M97.8 428.4h0M102.6 420.4h0M100.4 425.8h0M91.4 428.0h0M98.9 431.0h0M86.3 434.5h0M89.1 444.6h0M92.8 426.8h0M110.9 423.5h0M89.4 430.5h0M109.9 421.2h0M81.1 438.7h0M113.1 412.8h0M97.0 424.4h0M98.0 423.5h0M90.4 428.0h0M110.0 415.3h0M108.5 422.7h0M88.1 439.7h0M101.3 421.3h0M99.8 426.5h0M112.0 417.8h0M85.8 434.6h0M109.8 416.0h0M102.8 421.4h0M100.4 422.9h0M100.5 428.3h0M88.1 431.6h0M87.2 433.2h0M105.2 420.6h0M90.5 430.8h0M105.3 424.2h0M81.3 442.0h0M95.4 425.6h0M95.9 425.3h0M104.1 423.9h0M85.4 431.1h0M109.2 417.9h0M93.4 432.4h0M98.9 426.6h0M94.3 429.6h0M89.5 428.3h0M94.6 431.9h0M93.9 431.6h0M81.3 434.7h0M94.2 428.1h0M98.2 425.0h0M86.8 430.0h0M98.4 426.7h0M94.7 426.5h0M98.6 426.2h0M87.2 433.5h0M114.4 414.1h0M102.1 421.0h0M94.7 425.8h0M110.1 417.6h0M105.8 420.0h0M90.7 429.2h0M91.8 428.2h0M94.3 428.5h0M94.4 427.7h0M86.2 432.5h0M81.7 439.2h0M94.7 425.2h0M92.9 432.2h0M86.9 446.2h0M81.8 448.5h0M108.6 420.6h0M114.4 413.3h0M84.0 435.8h0M87.6 430.3h0M93.9 427.1h0M91.5 430.3h0M92.5 435.0h0M94.0 438.2h0M114.0 413.4h0M103.9 419.6h0M92.4 427.0h0M94.8 431.3h0M87.8 430.8h0M82.8 436.1h0M104.6 424.9h0M84.0 434.2h0M92.6 426.1h0M101.5 424.0h0M94.5 430.9h0M101.7 422.0h0M86.3 431.5h0M113.6 413.9h0M82.3 440.5h0M88.3 431.2h0M102.8 423.4h0M115.1 414.7h0M105.0 421.1h0M87.8 430.7h0M102.6 422.6h0M87.2 432.4h0M106.6 419.8h0M107.1 417.9h0M107.6 430.6h0M112.5 424.1h0M113.7 415.5h0M97.4 425.1h0M87.7 431.3h0M84.9 435.3h0M89.2 432.5h0M96.0 432.5h0M101.5 422.6h0M78.2 451.3h0M110.8 416.5h0M97.5 425.6h0M110.0 416.4h0M101.0 428.5h0M91.1 437.8h0M99.2 422.9h0M88.3 431.4h0M100.0 428.8h0M81.5 434.7h0M81.8 438.0h0M112.8 413.2h0M102.5 422.7h0M101.5 422.4h0M94.4 427.7h0M88.3 434.3h0M89.3 438.1h0M94.4 429.7h0M98.7 423.4h0M82.4 435.2h0M108.8 418.3h0M82.3 433.4h0M103.3 422.1h0M114.6 413.5h0M106.9 417.7h0M102.6 422.2h0M110.7 417.6h0M108.0 416.6h0M92.5 427.8h0M107.6 420.2h0M89.9 429.2h0M85.5 434.5h0M96.8 436.5h0M100.4 432.0h0M87.6 431.1h0M84.3 436.1h0M94.4 430.2h0M102.1 421.1h0M99.2 425.1h0M104.3 419.4h0M100.6 421.7h0M97.8 425.2h0M93.7 427.6h0M109.1 418.7h0M97.0 426.6h0M86.6 432.0h0M107.1 417.7h0M100.6 427.3h0M112.2 417.9h0M87.6 433.2h0M95.3 428.1h0M95.5 427.1h0M105.7 419.1h0M86.7 435.5h0M88.1 430.9h0M100.9 421.7h0M91.8 433.4h0M102.3 424.8h0M100.7 427.4h0M104.3 421.1h0M107.8 419.2h0M105.9 430.5h0M87.4 443.2h0M92.9 427.6h0M86.2 436.4h0M81.8 438.9h0M94.2 426.6h0M98.7 426.0h0M96.4 423.4h0M81.3 437.9h0M105.2 420.8h0M89.0 432.3h0M102.5 421.0h0M102.3 420.0h0M93.9 427.1h0M100.8 428.5h0M86.8 434.1h0M106.5 417.9h0M93.9 426.5h0M112.7 414.8h0M105.7 420.6h0M87.3 432.0h0M100.2 422.1h0M90.8 428.6h0M87.0 429.9h0M103.5 421.1h0M91.1 439.8h0M96.2 427.0h0M109.4 415.5h0M93.0 429.4h0M92.6 428.5h0M89.6 428.2h0M95.6 427.6h0M107.9 418.4h0M111.3 417.6h0M84.3 445.8h0M93.4 427.7h0M111.8 413.6h0M110.8 420.7h0M92.3 427.9h0M112.3 417.1h0M87.7 433.7h0M94.5 437.7h0M103.8 419.9h0M81.6 435.5h0M105.1 422.4h0M82.2 433.6h0M101.1 427.2h0M100.8 423.2h0M101.3 422.7h0M94.2 427.2h0M100.9 421.7h0M92.6 427.5h0M114.0 415.0h0M107.8 420.0h0M107.9 425.8h0M90.5 428.0h0M86.4 437.5h0M82.4 433.6h0M84.1 433.4h0M94.0 425.8h0M83.7 448.6h0M113.6 416.3h0M90.3 431.1h0M102.7 430.9h0M99.6 427.9h0M104.0 420.6h0M106.7 419.5h0M103.5 420.9h0M89.7 431.0h0M113.8 420.1h0M95.5 426.6h0M96.4 427.0h0M91.3 428.7h0M79.4 450.0h0M97.7 429.5h0M113.1 413.5h0M85.5 433.2h0M81.1 436.2h0M94.6 427.3h0M91.5 428.7h0M107.4 416.3h0M97.6 426.8h0M82.6 434.5h0M88.6 431.8h0M109.9 419.1h0M95.9 432.4h0M112.3 414.0h0M111.5 417.5h0M84.3 435.4h0M100.1 422.5h0M104.7 421.0h0M93.4 438.2h0M108.3 417.6h0M83.3 439.8h0M90.4 429.4h0M94.6 430.0h0M97.7 439.9h0M111.3 415.4h0M99.9 422.0h0M95.0 427.6h0M91.7 428.6h0M82.4 448.1h0M96.3 429.8h0M101.1 426.1h0M100.7 432.5h0M98.5 427.4h0M104.1 428.9h0M93.1 427.1h0M82.4 437.3h0M88.3 430.2h0M95.5 425.4h0M106.4 419.2h0M101.8 425.1h0M91.2 435.9h0M95.2 425.5h0M112.4 416.6h0M87.3 429.9h0M101.4 423.9h0M99.3 422.0h0M89.8 431.4h0M92.5 427.9h0M95.7 426.8h0M97.9 423.1h0M88.9 430.1h0M88.1 432.1h0M95.9 425.2h0M82.7 440.2h0M83.4 435.3h0M102.7 422.7h0M90.9 431.7h0M112.5 413.9h0M86.0 433.5h0M104.9 423.8h0M109.6 425.5h0M98.9 422.4h0M103.8 422.4h0M96.6 429.2h0M94.9 427.6h0M89.9 429.5h0M90.0 430.3h0M88.2 429.8h0M105.7 418.3h0M107.9 417.5h0M95.3 437.7h0M97.8 426.1h0M112.9 414.5h0M89.8 428.3h0M86.1 431.6h0M87.1 446.7h0M100.2 422.4h0M108.1 418.3h0M85.2 434.5h0M83.7 434.5h0M88.4 443.2h0M85.9 430.8h0M110.7 417.2h0M112.0 416.8h0M92.8 427.9h0M104.2 420.8h0M112.3 415.4h0M103.8 429.3h0M101.3 421.5h0M103.6 419.6h0M93.0 427.8h0M91.5 427.8h0M99.6 422.3h0M106.2 419.0h0M88.1 431.3h0M102.5 427.7h0M87.2 432.9h0M95.4 424.7h0M103.2 422.3h0M83.1 448.0h0M105.4 419.6h0M98.6 426.3h0M92.4 429.3h0M90.7 428.8h0M105.9 420.4h0M101.3 422.6h0M82.8 432.5h0M101.2 427.2h0M83.1 444.4h0M84.2 433.0h0M86.6 431.7h0M105.5 420.3h0M100.4 420.9h0M82.0 436.5h0M100.7 421.7h0M83.6 433.6h0M96.0 429.4h0M88.8 434.1h0M86.6 431.3h0M102.4 422.7h0M85.7 430.4h0M90.9 428.4h0M110.3 415.7h0M86.4 433.5h0M99.4 429.3h0M95.8 426.3h0M104.6 419.8h0M110.8 419.8h0M109.6 416.3h0M105.1 423.1h0M100.2 420.7h0M85.3 433.0h0M98.0 426.3h0M90.9 428.8h0M94.0 428.9h0M109.7 417.3h0M85.3 431.1h0M92.9 428.9h0M91.9 443.8h0M102.4 432.3h0M82.0 433.5h0M87.6 432.9h0M111.0 417.1h0M88.5 430.0h0M90.9 435.9h0M100.0 423.1h0M108.2 416.0h0M105.7 418.4h0M103.2 420.8h0M87.2 430.7h0M105.9 432.1h0M84.6 434.0h0M82.4 434.4h0M92.4 428.4h0M97.7 424.9h0M101.7 423.6h0M91.1 428.9h0M98.7 422.6h0M107.1 419.3h0M98.8 423.5h0M108.5 416.3h0M92.3 436.5h0M101.0 421.5h0M81.8 435.4h0M89.0 428.3h0M105.5 421.7h0M113.2 414.6h0M83.7 433.3h0M105.8 417.9h0M87.1 433.4h0M86.8 434.6h0M99.5 424.4h0M106.1 419.4h0M90.8 427.9h0M82.4 435.1h0M103.7 422.3h0M98.4 424.2h0M82.4 434.0h0M100.8 422.3h0M112.3 415.1h0M84.4 432.0h0M84.5 436.4h0M82.8 435.1h0M95.6 426.5h0M106.5 418.4h0M100.1 424.2h0M84.6 433.1h0M115.1 413.8h0M88.7 431.2h0M97.5 426.9h0M100.0 426.6h0M90.7 431.5h0M107.5 421.3h0M92.3 427.3h0M98.3 423.4h0M111.1 416.0h0M97.3 424.0h0M108.5 420.6h0M88.3 431.2h0M109.1 416.3h0M97.8 425.6h0M100.6 424.5h0M87.6 429.7h0M92.4 432.1h0M106.1 429.0h0M113.5 414.2h0M92.0 428.1h0M81.9 433.8h0M84.9 432.5h0" stroke="#ff2222" stroke-width="0.65" stroke-linecap="round" fill="none"/>
<path d="M94.2 424.9h0M104.7 420.5h0M104.1 422.8h0M95.5 425.1h0M108.6 415.6h0M113.0 413.8h0M89.3 432.3h0M107.5 421.2h0M96.6 423.9h0M101.7 422.7h0M99.2 427.6h0M86.7 432.9h0M109.5 417.7h0M84.4 432.1h0M81.7 438.3h0M97.5 428.1h0M103.0 424.2h0M97.8 423.0h0M82.7 432.6h0M97.0 426.6h0M90.8 428.5h0M110.8 415.9h0M109.5 419.7h0M83.5 435.9h0M99.4 426.3h0M86.2 438.1h0M94.3 435.0h0M105.5 423.0h0M84.4 436.0h0M93.0 430.4h0M98.4 423.2h0M101.6 422.2h0M86.7 433.2h0M99.2 423.3h0M112.4 414.9h0M83.1 433.4h0M90.4 430.9h0M90.4 433.3h0M109.7 416.8h0M83.4 434.6h0M91.0 429.7h0M113.0 417.8h0M102.9 425.5h0M96.6 427.0h0M84.2 434.2h0M95.4 426.5h0M110.3 416.3h0M105.8 417.1h0M113.5 414.1h0M103.6 422.4h0M83.3 432.7h0M109.3 418.8h0M113.7 413.8h0M96.8 427.1h0M89.7 428.0h0M84.5 434.1h0M83.0 440.5h0M82.8 440.9h0M111.6 418.3h0M107.6 420.1h0M90.9 432.3h0M102.5 432.7h0M80.2 443.6h0M106.8 419.9h0M90.2 428.9h0M95.9 425.9h0M83.7 436.1h0M98.0 429.9h0M94.6 426.2h0M100.9 423.3h0M88.8 430.5h0M110.4 416.3h0M84.5 432.8h0M106.7 423.2h0" stroke="#f0f080" stroke-width="0.65" stroke-linecap="round" fill="none"/>
<path d="M91.9 442.0h0M107.8 425.5h0M82.8 433.9h0M101.7 425.0h0M98.7 423.9h0M102.4 426.2h0M82.4 434.1h0M96.9 424.1h0M90.0 429.3h0M92.6 429.3h0M109.9 416.5h0M89.4 431.4h0M94.8 431.7h0M95.3 424.5h0M88.3 431.0h0M91.8 436.7h0M103.6 423.3h0M102.1 421.0h0M113.8 414.5h0M91.7 432.4h0M108.7 417.5h0M82.8 434.3h0M84.8 434.2h0M96.4 434.8h0M86.9 432.9h0M94.2 425.7h0M85.5 431.5h0M82.5 433.1h0M99.4 422.1h0M89.5 430.1h0M90.6 434.6h0M90.0 445.1h0M111.5 419.5h0M108.1 420.4h0M92.3 428.2h0M80.9 441.0h0M83.5 431.8h0M103.9 423.9h0M83.6 435.5h0M88.2 430.4h0M81.7 437.6h0M81.8 434.3h0M101.0 421.7h0M82.7 435.5h0M82.9 432.7h0M109.2 417.3h0M113.3 415.0h0M91.3 427.5h0M100.1 426.1h0M110.1 416.1h0M86.2 431.0h0M82.4 436.6h0M86.7 435.3h0M111.1 415.5h0M105.5 425.3h0M102.4 420.5h0M98.1 424.9h0M110.2 419.6h0M86.5 435.5h0M97.7 423.8h0M91.2 429.4h0M114.8 415.8h0M87.5 430.7h0M84.4 431.3h0M97.6 424.3h0M92.9 425.6h0M112.8 416.4h0M92.6 425.8h0M109.1 416.2h0M104.8 419.8h0M86.1 443.0h0M89.1 432.7h0M92.6 428.7h0M95.3 428.5h0M96.9 425.4h0M101.8 423.2h0M83.7 431.7h0M89.0 429.6h0M82.3 434.5h0M96.4 429.3h0M96.0 425.7h0M113.2 413.8h0M109.7 419.5h0M86.8 441.0h0M94.6 426.0h0M80.5 450.4h0M114.3 413.2h0M83.2 434.3h0M93.6 429.7h0M93.7 427.8h0M103.8 425.9h0M85.3 435.0h0M97.3 423.1h0M92.3 436.1h0M108.3 417.4h0M100.2 422.3h0M111.7 414.3h0M95.9 429.7h0M84.4 432.4h0M103.2 424.1h0M91.8 429.1h0M91.2 427.9h0M114.3 415.5h0M97.5 424.5h0M86.8 432.3h0M92.0 427.8h0M93.7 431.5h0M96.6 436.7h0M92.7 431.5h0M88.7 436.8h0M112.8 413.4h0M88.7 430.8h0M87.7 431.2h0M111.5 417.2h0M90.4 432.0h0M89.4 430.4h0M102.5 420.7h0M101.3 429.6h0M94.2 426.2h0M106.7 417.6h0M94.3 429.7h0M105.7 419.2h0M97.8 426.9h0M91.3 427.8h0M107.3 417.8h0M112.8 416.6h0M105.0 418.3h0M81.4 435.3h0M98.3 422.8h0M93.9 425.5h0M98.2 422.9h0M113.6 414.6h0M98.8 425.2h0M95.0 428.3h0M110.5 418.4h0M88.7 428.7h0M103.8 422.7h0M106.7 420.5h0M90.1 434.6h0M88.9 428.7h0M81.7 436.2h0M112.8 417.5h0M111.3 415.4h0M99.3 425.0h0M96.4 425.0h0M80.9 435.0h0M85.2 430.8h0M84.6 433.1h0M93.3 428.6h0M110.9 424.8h0M108.4 417.2h0M103.0 420.4h0M107.0 420.7h0M106.4 418.2h0M93.3 439.6h0M98.4 423.5h0M96.2 423.6h0M86.0 432.0h0M111.7 416.1h0M113.7 417.9h0M96.3 429.1h0M112.9 416.0h0M109.8 417.6h0M86.2 431.1h0M112.3 419.7h0M88.9 429.5h0M100.2 421.0h0M96.3 426.4h0M101.8 422.2h0M87.3 443.3h0M92.4 428.4h0M107.7 418.8h0M100.6 423.0h0M97.3 423.7h0M107.5 418.9h0M111.0 415.3h0M88.9 444.6h0M101.2 426.5h0M88.5 433.7h0M107.9 419.2h0M111.3 414.6h0M105.3 419.5h0M101.9 425.8h0" stroke="#ffd020" stroke-width="0.65" stroke-linecap="round" fill="none"/>
<path d="M84.6 433.1h0M109.1 421.9h0M94.9 430.3h0M91.7 429.8h0M89.3 429.4h0M83.3 434.8h0M109.8 416.4h0M111.8 418.6h0M85.1 433.1h0M93.8 432.4h0M109.8 415.9h0M92.6 427.9h0M111.7 420.4h0M94.5 442.4h0M90.9 427.4h0M101.8 423.3h0M108.6 421.9h0M94.5 429.0h0M87.4 431.4h0M92.8 431.7h0M109.7 415.5h0M83.4 435.1h0M101.1 423.0h0M109.1 424.3h0M97.4 424.9h0M83.4 433.7h0M101.9 422.0h0M103.3 419.5h0M102.9 420.4h0M107.8 416.0h0M98.4 429.2h0M103.8 423.9h0M84.5 431.9h0M95.1 426.5h0M96.4 425.9h0M114.5 413.7h0M97.7 425.7h0M96.2 425.2h0M106.3 420.9h0M91.3 428.8h0M94.2 428.0h0M101.5 424.5h0M88.4 444.8h0M83.5 434.2h0M99.6 422.8h0M100.1 424.6h0M112.9 414.1h0M81.3 437.6h0M83.6 447.6h0M90.9 427.1h0M113.0 413.2h0M93.9 426.3h0M102.8 421.4h0M97.3 426.8h0M90.6 427.1h0M85.1 436.3h0M84.7 433.3h0M101.4 422.4h0M106.8 421.4h0M84.5 437.8h0M91.9 427.7h0M84.0 433.5h0M87.3 433.0h0M94.5 432.1h0M85.1 439.3h0M99.7 425.8h0M82.1 435.5h0M104.3 419.3h0M87.7 433.5h0M88.4 437.5h0M108.9 418.2h0M89.3 429.7h0M92.5 428.3h0M91.3 432.2h0M106.8 419.3h0M84.7 431.5h0M105.4 418.9h0M92.0 428.2h0M103.5 421.2h0M109.3 417.1h0M82.1 440.4h0M93.8 432.2h0M92.8 431.5h0M90.9 438.8h0M85.7 431.6h0M107.8 422.2h0M98.7 423.3h0" stroke="#a0f89c" stroke-width="0.65" stroke-linecap="round" fill="none"/>
<text x="84.8" y="365.8" font-size="6.7" text-anchor="middle">m. R=5</text>
<text x="4.5" y="402.5" font-size="5.62">Velocity (mm/s)</text>
<path d="M6.4 408.6l1.65 1.65l-1.65 1.65l-1.65 -1.65z" fill="#0000ff"/>
<text x="11.0" y="412.0" font-size="5">0~50</text>
<path d="M6.4 417.2l1.65 1.65l-1.65 1.65l-1.65 -1.65z" fill="#00c4ff"/>
<text x="11.0" y="420.6" font-size="5">50~150</text>
<path d="M6.4 425.8l1.65 1.65l-1.65 1.65l-1.65 -1.65z" fill="#78ff3c"/>
<text x="11.0" y="429.2" font-size="5">150~500</text>
<path d="M6.4 434.4l1.65 1.65l-1.65 1.65l-1.65 -1.65z" fill="#ffb000"/>
<text x="11.0" y="437.8" font-size="5">500~1000</text>
<path d="M6.4 443.0l1.65 1.65l-1.65 1.65l-1.65 -1.65z" fill="#ff0000"/>
<text x="11.0" y="446.4" font-size="5">1000~</text>
</g>
</svg></body></html>
